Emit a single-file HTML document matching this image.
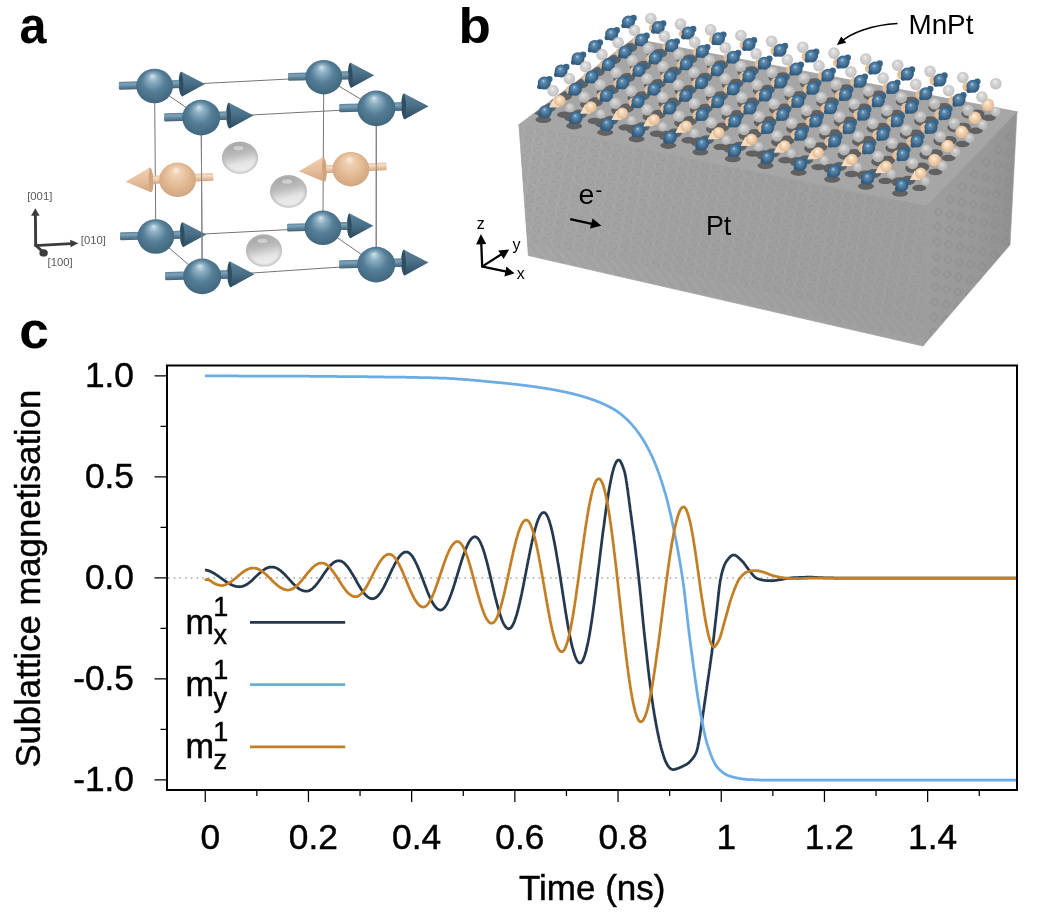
<!DOCTYPE html>
<html lang="en"><head><meta charset="utf-8"><title>MnPt switching figure</title>
<style>html,body{margin:0;padding:0;background:#fff}svg{display:block}</style></head><body>
<svg width="1040" height="913" viewBox="0 0 1040 913">
<rect width="1040" height="913" fill="#fff"/>
<g id="panelB">
<polygon points="519.0,125.0 927.0,206.0 1017.0,112.0 633.5,39.0" fill="#a6a6a6" stroke="#a6a6a6" stroke-width="1.2"/>
<polygon points="519.0,125.0 927.0,206.0 923.0,346.0 528.4,255.5" fill="url(#boxL)" stroke="#a3a3a3" stroke-width="0.8"/>
<polygon points="927.0,206.0 1017.0,112.0 1010.0,245.0 923.0,346.0" fill="url(#boxR)" stroke="#999999" stroke-width="0.6"/>
<clipPath id="cpL"><polygon points="519.0,125.0 927.0,206.0 923.0,346.0 528.4,255.5"/></clipPath>
<g clip-path="url(#cpL)" fill="none" stroke="#8a8a8a" stroke-width="1.6" opacity="0.2"><circle cx="524.0" cy="236.6" r="3.4"/><circle cx="516.0" cy="215.3" r="3.4"/><circle cx="525.5" cy="227.1" r="3.4"/><circle cx="535.0" cy="238.9" r="3.4"/><circle cx="517.5" cy="205.8" r="3.4"/><circle cx="527.0" cy="217.6" r="3.4"/><circle cx="536.5" cy="229.4" r="3.4"/><circle cx="546.0" cy="241.2" r="3.4"/><circle cx="519.0" cy="196.3" r="3.4"/><circle cx="528.5" cy="208.1" r="3.4"/><circle cx="538.0" cy="219.9" r="3.4"/><circle cx="547.5" cy="231.7" r="3.4"/><circle cx="557.0" cy="243.5" r="3.4"/><circle cx="520.5" cy="186.8" r="3.4"/><circle cx="530.0" cy="198.6" r="3.4"/><circle cx="539.5" cy="210.4" r="3.4"/><circle cx="549.0" cy="222.2" r="3.4"/><circle cx="558.5" cy="234.0" r="3.4"/><circle cx="568.0" cy="245.8" r="3.4"/><circle cx="522.0" cy="177.3" r="3.4"/><circle cx="531.5" cy="189.1" r="3.4"/><circle cx="541.0" cy="200.9" r="3.4"/><circle cx="550.5" cy="212.7" r="3.4"/><circle cx="560.0" cy="224.5" r="3.4"/><circle cx="569.5" cy="236.3" r="3.4"/><circle cx="579.0" cy="248.1" r="3.4"/><circle cx="523.5" cy="167.8" r="3.4"/><circle cx="533.0" cy="179.6" r="3.4"/><circle cx="542.5" cy="191.4" r="3.4"/><circle cx="552.0" cy="203.2" r="3.4"/><circle cx="561.5" cy="215.0" r="3.4"/><circle cx="571.0" cy="226.8" r="3.4"/><circle cx="580.5" cy="238.6" r="3.4"/><circle cx="590.0" cy="250.4" r="3.4"/><circle cx="515.5" cy="146.5" r="3.4"/><circle cx="525.0" cy="158.3" r="3.4"/><circle cx="534.5" cy="170.1" r="3.4"/><circle cx="544.0" cy="181.9" r="3.4"/><circle cx="553.5" cy="193.7" r="3.4"/><circle cx="563.0" cy="205.5" r="3.4"/><circle cx="572.5" cy="217.3" r="3.4"/><circle cx="582.0" cy="229.1" r="3.4"/><circle cx="591.5" cy="240.9" r="3.4"/><circle cx="601.0" cy="252.7" r="3.4"/><circle cx="517.0" cy="137.0" r="3.4"/><circle cx="526.5" cy="148.8" r="3.4"/><circle cx="536.0" cy="160.6" r="3.4"/><circle cx="545.5" cy="172.4" r="3.4"/><circle cx="555.0" cy="184.2" r="3.4"/><circle cx="564.5" cy="196.0" r="3.4"/><circle cx="574.0" cy="207.8" r="3.4"/><circle cx="583.5" cy="219.6" r="3.4"/><circle cx="593.0" cy="231.4" r="3.4"/><circle cx="602.5" cy="243.2" r="3.4"/><circle cx="612.0" cy="255.0" r="3.4"/><circle cx="518.5" cy="127.5" r="3.4"/><circle cx="528.0" cy="139.3" r="3.4"/><circle cx="537.5" cy="151.1" r="3.4"/><circle cx="547.0" cy="162.9" r="3.4"/><circle cx="556.5" cy="174.7" r="3.4"/><circle cx="566.0" cy="186.5" r="3.4"/><circle cx="575.5" cy="198.3" r="3.4"/><circle cx="585.0" cy="210.1" r="3.4"/><circle cx="594.5" cy="221.9" r="3.4"/><circle cx="604.0" cy="233.7" r="3.4"/><circle cx="613.5" cy="245.5" r="3.4"/><circle cx="623.0" cy="257.3" r="3.4"/><circle cx="520.0" cy="118.0" r="3.4"/><circle cx="529.5" cy="129.8" r="3.4"/><circle cx="539.0" cy="141.6" r="3.4"/><circle cx="548.5" cy="153.4" r="3.4"/><circle cx="558.0" cy="165.2" r="3.4"/><circle cx="567.5" cy="177.0" r="3.4"/><circle cx="577.0" cy="188.8" r="3.4"/><circle cx="586.5" cy="200.6" r="3.4"/><circle cx="596.0" cy="212.4" r="3.4"/><circle cx="605.5" cy="224.2" r="3.4"/><circle cx="615.0" cy="236.0" r="3.4"/><circle cx="624.5" cy="247.8" r="3.4"/><circle cx="634.0" cy="259.6" r="3.4"/><circle cx="531.0" cy="120.3" r="3.4"/><circle cx="540.5" cy="132.1" r="3.4"/><circle cx="550.0" cy="143.9" r="3.4"/><circle cx="559.5" cy="155.7" r="3.4"/><circle cx="569.0" cy="167.5" r="3.4"/><circle cx="578.5" cy="179.3" r="3.4"/><circle cx="588.0" cy="191.1" r="3.4"/><circle cx="597.5" cy="202.9" r="3.4"/><circle cx="607.0" cy="214.7" r="3.4"/><circle cx="616.5" cy="226.5" r="3.4"/><circle cx="626.0" cy="238.3" r="3.4"/><circle cx="635.5" cy="250.1" r="3.4"/><circle cx="645.0" cy="261.9" r="3.4"/><circle cx="542.0" cy="122.6" r="3.4"/><circle cx="551.5" cy="134.4" r="3.4"/><circle cx="561.0" cy="146.2" r="3.4"/><circle cx="570.5" cy="158.0" r="3.4"/><circle cx="580.0" cy="169.8" r="3.4"/><circle cx="589.5" cy="181.6" r="3.4"/><circle cx="599.0" cy="193.4" r="3.4"/><circle cx="608.5" cy="205.2" r="3.4"/><circle cx="618.0" cy="217.0" r="3.4"/><circle cx="627.5" cy="228.8" r="3.4"/><circle cx="637.0" cy="240.6" r="3.4"/><circle cx="646.5" cy="252.4" r="3.4"/><circle cx="656.0" cy="264.2" r="3.4"/><circle cx="553.0" cy="124.9" r="3.4"/><circle cx="562.5" cy="136.7" r="3.4"/><circle cx="572.0" cy="148.5" r="3.4"/><circle cx="581.5" cy="160.3" r="3.4"/><circle cx="591.0" cy="172.1" r="3.4"/><circle cx="600.5" cy="183.9" r="3.4"/><circle cx="610.0" cy="195.7" r="3.4"/><circle cx="619.5" cy="207.5" r="3.4"/><circle cx="629.0" cy="219.3" r="3.4"/><circle cx="638.5" cy="231.1" r="3.4"/><circle cx="648.0" cy="242.9" r="3.4"/><circle cx="657.5" cy="254.7" r="3.4"/><circle cx="667.0" cy="266.5" r="3.4"/><circle cx="564.0" cy="127.2" r="3.4"/><circle cx="573.5" cy="139.0" r="3.4"/><circle cx="583.0" cy="150.8" r="3.4"/><circle cx="592.5" cy="162.6" r="3.4"/><circle cx="602.0" cy="174.4" r="3.4"/><circle cx="611.5" cy="186.2" r="3.4"/><circle cx="621.0" cy="198.0" r="3.4"/><circle cx="630.5" cy="209.8" r="3.4"/><circle cx="640.0" cy="221.6" r="3.4"/><circle cx="649.5" cy="233.4" r="3.4"/><circle cx="659.0" cy="245.2" r="3.4"/><circle cx="668.5" cy="257.0" r="3.4"/><circle cx="678.0" cy="268.8" r="3.4"/><circle cx="575.0" cy="129.5" r="3.4"/><circle cx="584.5" cy="141.3" r="3.4"/><circle cx="594.0" cy="153.1" r="3.4"/><circle cx="603.5" cy="164.9" r="3.4"/><circle cx="613.0" cy="176.7" r="3.4"/><circle cx="622.5" cy="188.5" r="3.4"/><circle cx="632.0" cy="200.3" r="3.4"/><circle cx="641.5" cy="212.1" r="3.4"/><circle cx="651.0" cy="223.9" r="3.4"/><circle cx="660.5" cy="235.7" r="3.4"/><circle cx="670.0" cy="247.5" r="3.4"/><circle cx="679.5" cy="259.3" r="3.4"/><circle cx="689.0" cy="271.1" r="3.4"/><circle cx="586.0" cy="131.8" r="3.4"/><circle cx="595.5" cy="143.6" r="3.4"/><circle cx="605.0" cy="155.4" r="3.4"/><circle cx="614.5" cy="167.2" r="3.4"/><circle cx="624.0" cy="179.0" r="3.4"/><circle cx="633.5" cy="190.8" r="3.4"/><circle cx="643.0" cy="202.6" r="3.4"/><circle cx="652.5" cy="214.4" r="3.4"/><circle cx="662.0" cy="226.2" r="3.4"/><circle cx="671.5" cy="238.0" r="3.4"/><circle cx="681.0" cy="249.8" r="3.4"/><circle cx="690.5" cy="261.6" r="3.4"/><circle cx="700.0" cy="273.4" r="3.4"/><circle cx="597.0" cy="134.1" r="3.4"/><circle cx="606.5" cy="145.9" r="3.4"/><circle cx="616.0" cy="157.7" r="3.4"/><circle cx="625.5" cy="169.5" r="3.4"/><circle cx="635.0" cy="181.3" r="3.4"/><circle cx="644.5" cy="193.1" r="3.4"/><circle cx="654.0" cy="204.9" r="3.4"/><circle cx="663.5" cy="216.7" r="3.4"/><circle cx="673.0" cy="228.5" r="3.4"/><circle cx="682.5" cy="240.3" r="3.4"/><circle cx="692.0" cy="252.1" r="3.4"/><circle cx="701.5" cy="263.9" r="3.4"/><circle cx="711.0" cy="275.7" r="3.4"/><circle cx="608.0" cy="136.4" r="3.4"/><circle cx="617.5" cy="148.2" r="3.4"/><circle cx="627.0" cy="160.0" r="3.4"/><circle cx="636.5" cy="171.8" r="3.4"/><circle cx="646.0" cy="183.6" r="3.4"/><circle cx="655.5" cy="195.4" r="3.4"/><circle cx="665.0" cy="207.2" r="3.4"/><circle cx="674.5" cy="219.0" r="3.4"/><circle cx="684.0" cy="230.8" r="3.4"/><circle cx="693.5" cy="242.6" r="3.4"/><circle cx="703.0" cy="254.4" r="3.4"/><circle cx="712.5" cy="266.2" r="3.4"/><circle cx="722.0" cy="278.0" r="3.4"/><circle cx="619.0" cy="138.7" r="3.4"/><circle cx="628.5" cy="150.5" r="3.4"/><circle cx="638.0" cy="162.3" r="3.4"/><circle cx="647.5" cy="174.1" r="3.4"/><circle cx="657.0" cy="185.9" r="3.4"/><circle cx="666.5" cy="197.7" r="3.4"/><circle cx="676.0" cy="209.5" r="3.4"/><circle cx="685.5" cy="221.3" r="3.4"/><circle cx="695.0" cy="233.1" r="3.4"/><circle cx="704.5" cy="244.9" r="3.4"/><circle cx="714.0" cy="256.7" r="3.4"/><circle cx="723.5" cy="268.5" r="3.4"/><circle cx="733.0" cy="280.3" r="3.4"/><circle cx="630.0" cy="141.0" r="3.4"/><circle cx="639.5" cy="152.8" r="3.4"/><circle cx="649.0" cy="164.6" r="3.4"/><circle cx="658.5" cy="176.4" r="3.4"/><circle cx="668.0" cy="188.2" r="3.4"/><circle cx="677.5" cy="200.0" r="3.4"/><circle cx="687.0" cy="211.8" r="3.4"/><circle cx="696.5" cy="223.6" r="3.4"/><circle cx="706.0" cy="235.4" r="3.4"/><circle cx="715.5" cy="247.2" r="3.4"/><circle cx="725.0" cy="259.0" r="3.4"/><circle cx="734.5" cy="270.8" r="3.4"/><circle cx="744.0" cy="282.6" r="3.4"/><circle cx="641.0" cy="143.3" r="3.4"/><circle cx="650.5" cy="155.1" r="3.4"/><circle cx="660.0" cy="166.9" r="3.4"/><circle cx="669.5" cy="178.7" r="3.4"/><circle cx="679.0" cy="190.5" r="3.4"/><circle cx="688.5" cy="202.3" r="3.4"/><circle cx="698.0" cy="214.1" r="3.4"/><circle cx="707.5" cy="225.9" r="3.4"/><circle cx="717.0" cy="237.7" r="3.4"/><circle cx="726.5" cy="249.5" r="3.4"/><circle cx="736.0" cy="261.3" r="3.4"/><circle cx="745.5" cy="273.1" r="3.4"/><circle cx="755.0" cy="284.9" r="3.4"/><circle cx="652.0" cy="145.6" r="3.4"/><circle cx="661.5" cy="157.4" r="3.4"/><circle cx="671.0" cy="169.2" r="3.4"/><circle cx="680.5" cy="181.0" r="3.4"/><circle cx="690.0" cy="192.8" r="3.4"/><circle cx="699.5" cy="204.6" r="3.4"/><circle cx="709.0" cy="216.4" r="3.4"/><circle cx="718.5" cy="228.2" r="3.4"/><circle cx="728.0" cy="240.0" r="3.4"/><circle cx="737.5" cy="251.8" r="3.4"/><circle cx="747.0" cy="263.6" r="3.4"/><circle cx="756.5" cy="275.4" r="3.4"/><circle cx="766.0" cy="287.2" r="3.4"/><circle cx="663.0" cy="147.9" r="3.4"/><circle cx="672.5" cy="159.7" r="3.4"/><circle cx="682.0" cy="171.5" r="3.4"/><circle cx="691.5" cy="183.3" r="3.4"/><circle cx="701.0" cy="195.1" r="3.4"/><circle cx="710.5" cy="206.9" r="3.4"/><circle cx="720.0" cy="218.7" r="3.4"/><circle cx="729.5" cy="230.5" r="3.4"/><circle cx="739.0" cy="242.3" r="3.4"/><circle cx="748.5" cy="254.1" r="3.4"/><circle cx="758.0" cy="265.9" r="3.4"/><circle cx="767.5" cy="277.7" r="3.4"/><circle cx="777.0" cy="289.5" r="3.4"/><circle cx="674.0" cy="150.2" r="3.4"/><circle cx="683.5" cy="162.0" r="3.4"/><circle cx="693.0" cy="173.8" r="3.4"/><circle cx="702.5" cy="185.6" r="3.4"/><circle cx="712.0" cy="197.4" r="3.4"/><circle cx="721.5" cy="209.2" r="3.4"/><circle cx="731.0" cy="221.0" r="3.4"/><circle cx="740.5" cy="232.8" r="3.4"/><circle cx="750.0" cy="244.6" r="3.4"/><circle cx="759.5" cy="256.4" r="3.4"/><circle cx="769.0" cy="268.2" r="3.4"/><circle cx="778.5" cy="280.0" r="3.4"/><circle cx="788.0" cy="291.8" r="3.4"/><circle cx="685.0" cy="152.5" r="3.4"/><circle cx="694.5" cy="164.3" r="3.4"/><circle cx="704.0" cy="176.1" r="3.4"/><circle cx="713.5" cy="187.9" r="3.4"/><circle cx="723.0" cy="199.7" r="3.4"/><circle cx="732.5" cy="211.5" r="3.4"/><circle cx="742.0" cy="223.3" r="3.4"/><circle cx="751.5" cy="235.1" r="3.4"/><circle cx="761.0" cy="246.9" r="3.4"/><circle cx="770.5" cy="258.7" r="3.4"/><circle cx="780.0" cy="270.5" r="3.4"/><circle cx="789.5" cy="282.3" r="3.4"/><circle cx="799.0" cy="294.1" r="3.4"/><circle cx="696.0" cy="154.8" r="3.4"/><circle cx="705.5" cy="166.6" r="3.4"/><circle cx="715.0" cy="178.4" r="3.4"/><circle cx="724.5" cy="190.2" r="3.4"/><circle cx="734.0" cy="202.0" r="3.4"/><circle cx="743.5" cy="213.8" r="3.4"/><circle cx="753.0" cy="225.6" r="3.4"/><circle cx="762.5" cy="237.4" r="3.4"/><circle cx="772.0" cy="249.2" r="3.4"/><circle cx="781.5" cy="261.0" r="3.4"/><circle cx="791.0" cy="272.8" r="3.4"/><circle cx="800.5" cy="284.6" r="3.4"/><circle cx="810.0" cy="296.4" r="3.4"/><circle cx="707.0" cy="157.1" r="3.4"/><circle cx="716.5" cy="168.9" r="3.4"/><circle cx="726.0" cy="180.7" r="3.4"/><circle cx="735.5" cy="192.5" r="3.4"/><circle cx="745.0" cy="204.3" r="3.4"/><circle cx="754.5" cy="216.1" r="3.4"/><circle cx="764.0" cy="227.9" r="3.4"/><circle cx="773.5" cy="239.7" r="3.4"/><circle cx="783.0" cy="251.5" r="3.4"/><circle cx="792.5" cy="263.3" r="3.4"/><circle cx="802.0" cy="275.1" r="3.4"/><circle cx="811.5" cy="286.9" r="3.4"/><circle cx="821.0" cy="298.7" r="3.4"/><circle cx="718.0" cy="159.4" r="3.4"/><circle cx="727.5" cy="171.2" r="3.4"/><circle cx="737.0" cy="183.0" r="3.4"/><circle cx="746.5" cy="194.8" r="3.4"/><circle cx="756.0" cy="206.6" r="3.4"/><circle cx="765.5" cy="218.4" r="3.4"/><circle cx="775.0" cy="230.2" r="3.4"/><circle cx="784.5" cy="242.0" r="3.4"/><circle cx="794.0" cy="253.8" r="3.4"/><circle cx="803.5" cy="265.6" r="3.4"/><circle cx="813.0" cy="277.4" r="3.4"/><circle cx="822.5" cy="289.2" r="3.4"/><circle cx="832.0" cy="301.0" r="3.4"/><circle cx="729.0" cy="161.7" r="3.4"/><circle cx="738.5" cy="173.5" r="3.4"/><circle cx="748.0" cy="185.3" r="3.4"/><circle cx="757.5" cy="197.1" r="3.4"/><circle cx="767.0" cy="208.9" r="3.4"/><circle cx="776.5" cy="220.7" r="3.4"/><circle cx="786.0" cy="232.5" r="3.4"/><circle cx="795.5" cy="244.3" r="3.4"/><circle cx="805.0" cy="256.1" r="3.4"/><circle cx="814.5" cy="267.9" r="3.4"/><circle cx="824.0" cy="279.7" r="3.4"/><circle cx="833.5" cy="291.5" r="3.4"/><circle cx="843.0" cy="303.3" r="3.4"/><circle cx="740.0" cy="164.0" r="3.4"/><circle cx="749.5" cy="175.8" r="3.4"/><circle cx="759.0" cy="187.6" r="3.4"/><circle cx="768.5" cy="199.4" r="3.4"/><circle cx="778.0" cy="211.2" r="3.4"/><circle cx="787.5" cy="223.0" r="3.4"/><circle cx="797.0" cy="234.8" r="3.4"/><circle cx="806.5" cy="246.6" r="3.4"/><circle cx="816.0" cy="258.4" r="3.4"/><circle cx="825.5" cy="270.2" r="3.4"/><circle cx="835.0" cy="282.0" r="3.4"/><circle cx="844.5" cy="293.8" r="3.4"/><circle cx="854.0" cy="305.6" r="3.4"/><circle cx="751.0" cy="166.3" r="3.4"/><circle cx="760.5" cy="178.1" r="3.4"/><circle cx="770.0" cy="189.9" r="3.4"/><circle cx="779.5" cy="201.7" r="3.4"/><circle cx="789.0" cy="213.5" r="3.4"/><circle cx="798.5" cy="225.3" r="3.4"/><circle cx="808.0" cy="237.1" r="3.4"/><circle cx="817.5" cy="248.9" r="3.4"/><circle cx="827.0" cy="260.7" r="3.4"/><circle cx="836.5" cy="272.5" r="3.4"/><circle cx="846.0" cy="284.3" r="3.4"/><circle cx="855.5" cy="296.1" r="3.4"/><circle cx="865.0" cy="307.9" r="3.4"/><circle cx="762.0" cy="168.6" r="3.4"/><circle cx="771.5" cy="180.4" r="3.4"/><circle cx="781.0" cy="192.2" r="3.4"/><circle cx="790.5" cy="204.0" r="3.4"/><circle cx="800.0" cy="215.8" r="3.4"/><circle cx="809.5" cy="227.6" r="3.4"/><circle cx="819.0" cy="239.4" r="3.4"/><circle cx="828.5" cy="251.2" r="3.4"/><circle cx="838.0" cy="263.0" r="3.4"/><circle cx="847.5" cy="274.8" r="3.4"/><circle cx="857.0" cy="286.6" r="3.4"/><circle cx="866.5" cy="298.4" r="3.4"/><circle cx="876.0" cy="310.2" r="3.4"/><circle cx="773.0" cy="170.9" r="3.4"/><circle cx="782.5" cy="182.7" r="3.4"/><circle cx="792.0" cy="194.5" r="3.4"/><circle cx="801.5" cy="206.3" r="3.4"/><circle cx="811.0" cy="218.1" r="3.4"/><circle cx="820.5" cy="229.9" r="3.4"/><circle cx="830.0" cy="241.7" r="3.4"/><circle cx="839.5" cy="253.5" r="3.4"/><circle cx="849.0" cy="265.3" r="3.4"/><circle cx="858.5" cy="277.1" r="3.4"/><circle cx="868.0" cy="288.9" r="3.4"/><circle cx="877.5" cy="300.7" r="3.4"/><circle cx="887.0" cy="312.5" r="3.4"/><circle cx="784.0" cy="173.2" r="3.4"/><circle cx="793.5" cy="185.0" r="3.4"/><circle cx="803.0" cy="196.8" r="3.4"/><circle cx="812.5" cy="208.6" r="3.4"/><circle cx="822.0" cy="220.4" r="3.4"/><circle cx="831.5" cy="232.2" r="3.4"/><circle cx="841.0" cy="244.0" r="3.4"/><circle cx="850.5" cy="255.8" r="3.4"/><circle cx="860.0" cy="267.6" r="3.4"/><circle cx="869.5" cy="279.4" r="3.4"/><circle cx="879.0" cy="291.2" r="3.4"/><circle cx="888.5" cy="303.0" r="3.4"/><circle cx="898.0" cy="314.8" r="3.4"/><circle cx="795.0" cy="175.5" r="3.4"/><circle cx="804.5" cy="187.3" r="3.4"/><circle cx="814.0" cy="199.1" r="3.4"/><circle cx="823.5" cy="210.9" r="3.4"/><circle cx="833.0" cy="222.7" r="3.4"/><circle cx="842.5" cy="234.5" r="3.4"/><circle cx="852.0" cy="246.3" r="3.4"/><circle cx="861.5" cy="258.1" r="3.4"/><circle cx="871.0" cy="269.9" r="3.4"/><circle cx="880.5" cy="281.7" r="3.4"/><circle cx="890.0" cy="293.5" r="3.4"/><circle cx="899.5" cy="305.3" r="3.4"/><circle cx="909.0" cy="317.1" r="3.4"/><circle cx="806.0" cy="177.8" r="3.4"/><circle cx="815.5" cy="189.6" r="3.4"/><circle cx="825.0" cy="201.4" r="3.4"/><circle cx="834.5" cy="213.2" r="3.4"/><circle cx="844.0" cy="225.0" r="3.4"/><circle cx="853.5" cy="236.8" r="3.4"/><circle cx="863.0" cy="248.6" r="3.4"/><circle cx="872.5" cy="260.4" r="3.4"/><circle cx="882.0" cy="272.2" r="3.4"/><circle cx="891.5" cy="284.0" r="3.4"/><circle cx="901.0" cy="295.8" r="3.4"/><circle cx="910.5" cy="307.6" r="3.4"/><circle cx="920.0" cy="319.4" r="3.4"/><circle cx="817.0" cy="180.1" r="3.4"/><circle cx="826.5" cy="191.9" r="3.4"/><circle cx="836.0" cy="203.7" r="3.4"/><circle cx="845.5" cy="215.5" r="3.4"/><circle cx="855.0" cy="227.3" r="3.4"/><circle cx="864.5" cy="239.1" r="3.4"/><circle cx="874.0" cy="250.9" r="3.4"/><circle cx="883.5" cy="262.7" r="3.4"/><circle cx="893.0" cy="274.5" r="3.4"/><circle cx="902.5" cy="286.3" r="3.4"/><circle cx="912.0" cy="298.1" r="3.4"/><circle cx="921.5" cy="309.9" r="3.4"/><circle cx="931.0" cy="321.7" r="3.4"/><circle cx="828.0" cy="182.4" r="3.4"/><circle cx="837.5" cy="194.2" r="3.4"/><circle cx="847.0" cy="206.0" r="3.4"/><circle cx="856.5" cy="217.8" r="3.4"/><circle cx="866.0" cy="229.6" r="3.4"/><circle cx="875.5" cy="241.4" r="3.4"/><circle cx="885.0" cy="253.2" r="3.4"/><circle cx="894.5" cy="265.0" r="3.4"/><circle cx="904.0" cy="276.8" r="3.4"/><circle cx="913.5" cy="288.6" r="3.4"/><circle cx="923.0" cy="300.4" r="3.4"/><circle cx="932.5" cy="312.2" r="3.4"/><circle cx="839.0" cy="184.7" r="3.4"/><circle cx="848.5" cy="196.5" r="3.4"/><circle cx="858.0" cy="208.3" r="3.4"/><circle cx="867.5" cy="220.1" r="3.4"/><circle cx="877.0" cy="231.9" r="3.4"/><circle cx="886.5" cy="243.7" r="3.4"/><circle cx="896.0" cy="255.5" r="3.4"/><circle cx="905.5" cy="267.3" r="3.4"/><circle cx="915.0" cy="279.1" r="3.4"/><circle cx="924.5" cy="290.9" r="3.4"/><circle cx="934.0" cy="302.7" r="3.4"/><circle cx="850.0" cy="187.0" r="3.4"/><circle cx="859.5" cy="198.8" r="3.4"/><circle cx="869.0" cy="210.6" r="3.4"/><circle cx="878.5" cy="222.4" r="3.4"/><circle cx="888.0" cy="234.2" r="3.4"/><circle cx="897.5" cy="246.0" r="3.4"/><circle cx="907.0" cy="257.8" r="3.4"/><circle cx="916.5" cy="269.6" r="3.4"/><circle cx="926.0" cy="281.4" r="3.4"/><circle cx="861.0" cy="189.3" r="3.4"/><circle cx="870.5" cy="201.1" r="3.4"/><circle cx="880.0" cy="212.9" r="3.4"/><circle cx="889.5" cy="224.7" r="3.4"/><circle cx="899.0" cy="236.5" r="3.4"/><circle cx="908.5" cy="248.3" r="3.4"/><circle cx="918.0" cy="260.1" r="3.4"/><circle cx="927.5" cy="271.9" r="3.4"/><circle cx="872.0" cy="191.6" r="3.4"/><circle cx="881.5" cy="203.4" r="3.4"/><circle cx="891.0" cy="215.2" r="3.4"/><circle cx="900.5" cy="227.0" r="3.4"/><circle cx="910.0" cy="238.8" r="3.4"/><circle cx="919.5" cy="250.6" r="3.4"/><circle cx="929.0" cy="262.4" r="3.4"/><circle cx="883.0" cy="193.9" r="3.4"/><circle cx="892.5" cy="205.7" r="3.4"/><circle cx="902.0" cy="217.5" r="3.4"/><circle cx="911.5" cy="229.3" r="3.4"/><circle cx="921.0" cy="241.1" r="3.4"/><circle cx="930.5" cy="252.9" r="3.4"/><circle cx="894.0" cy="196.2" r="3.4"/><circle cx="903.5" cy="208.0" r="3.4"/><circle cx="913.0" cy="219.8" r="3.4"/><circle cx="922.5" cy="231.6" r="3.4"/><circle cx="932.0" cy="243.4" r="3.4"/><circle cx="905.0" cy="198.5" r="3.4"/><circle cx="914.5" cy="210.3" r="3.4"/><circle cx="924.0" cy="222.1" r="3.4"/><circle cx="933.5" cy="233.9" r="3.4"/><circle cx="916.0" cy="200.8" r="3.4"/><circle cx="925.5" cy="212.6" r="3.4"/><circle cx="935.0" cy="224.4" r="3.4"/><circle cx="927.0" cy="203.1" r="3.4"/></g>
<path clip-path="url(#cpL)" d="M300.0,72.0 l133.0,165.2 M311.0,74.3 l133.0,165.2 M322.0,76.6 l133.0,165.2 M333.0,78.9 l133.0,165.2 M344.0,81.2 l133.0,165.2 M355.0,83.5 l133.0,165.2 M366.0,85.8 l133.0,165.2 M377.0,88.1 l133.0,165.2 M388.0,90.4 l133.0,165.2 M399.0,92.7 l133.0,165.2 M410.0,95.0 l133.0,165.2 M421.0,97.3 l133.0,165.2 M432.0,99.6 l133.0,165.2 M443.0,101.9 l133.0,165.2 M454.0,104.2 l133.0,165.2 M465.0,106.5 l133.0,165.2 M476.0,108.8 l133.0,165.2 M487.0,111.1 l133.0,165.2 M498.0,113.4 l133.0,165.2 M509.0,115.7 l133.0,165.2 M520.0,118.0 l133.0,165.2 M531.0,120.3 l133.0,165.2 M542.0,122.6 l133.0,165.2 M553.0,124.9 l133.0,165.2 M564.0,127.2 l133.0,165.2 M575.0,129.5 l133.0,165.2 M586.0,131.8 l133.0,165.2 M597.0,134.1 l133.0,165.2 M608.0,136.4 l133.0,165.2 M619.0,138.7 l133.0,165.2 M630.0,141.0 l133.0,165.2 M641.0,143.3 l133.0,165.2 M652.0,145.6 l133.0,165.2 M663.0,147.9 l133.0,165.2 M674.0,150.2 l133.0,165.2 M685.0,152.5 l133.0,165.2 M696.0,154.8 l133.0,165.2 M707.0,157.1 l133.0,165.2 M718.0,159.4 l133.0,165.2 M729.0,161.7 l133.0,165.2 M740.0,164.0 l133.0,165.2 M751.0,166.3 l133.0,165.2 M762.0,168.6 l133.0,165.2 M773.0,170.9 l133.0,165.2 M784.0,173.2 l133.0,165.2 M795.0,175.5 l133.0,165.2 M806.0,177.8 l133.0,165.2 M817.0,180.1 l133.0,165.2 M828.0,182.4 l133.0,165.2 M839.0,184.7 l133.0,165.2 M850.0,187.0 l133.0,165.2 M861.0,189.3 l133.0,165.2 M872.0,191.6 l133.0,165.2 M883.0,193.9 l133.0,165.2 M894.0,196.2 l133.0,165.2 M905.0,198.5 l133.0,165.2 M916.0,200.8 l133.0,165.2 M927.0,203.1 l133.0,165.2 M938.0,205.4 l133.0,165.2 M949.0,207.7 l133.0,165.2 M960.0,210.0 l133.0,165.2 M971.0,212.3 l133.0,165.2" stroke="#8c8c8c" stroke-width="4.5" opacity="0.13" fill="none"/>
<clipPath id="cpR"><polygon points="927.0,206.0 1017.0,112.0 1010.0,245.0 923.0,346.0"/></clipPath>
<g clip-path="url(#cpR)" fill="none" stroke="#888888" stroke-width="1.5" opacity="0.4"><rect x="934.0" y="212.0" width="6" height="6" rx="1.5" transform="rotate(-45 934.0 212.0)"/><rect x="933.4" y="227.0" width="6" height="6" rx="1.5" transform="rotate(-45 933.4 227.0)"/><rect x="932.8" y="242.0" width="6" height="6" rx="1.5" transform="rotate(-45 932.8 242.0)"/><rect x="932.2" y="257.0" width="6" height="6" rx="1.5" transform="rotate(-45 932.2 257.0)"/><rect x="931.6" y="272.0" width="6" height="6" rx="1.5" transform="rotate(-45 931.6 272.0)"/><rect x="931.0" y="287.0" width="6" height="6" rx="1.5" transform="rotate(-45 931.0 287.0)"/><rect x="930.4" y="302.0" width="6" height="6" rx="1.5" transform="rotate(-45 930.4 302.0)"/><rect x="929.8" y="317.0" width="6" height="6" rx="1.5" transform="rotate(-45 929.8 317.0)"/><rect x="929.2" y="332.0" width="6" height="6" rx="1.5" transform="rotate(-45 929.2 332.0)"/><rect x="928.6" y="347.0" width="6" height="6" rx="1.5" transform="rotate(-45 928.6 347.0)"/><rect x="946.0" y="199.5" width="6" height="6" rx="1.5" transform="rotate(-45 946.0 199.5)"/><rect x="945.4" y="214.5" width="6" height="6" rx="1.5" transform="rotate(-45 945.4 214.5)"/><rect x="944.8" y="229.5" width="6" height="6" rx="1.5" transform="rotate(-45 944.8 229.5)"/><rect x="944.2" y="244.5" width="6" height="6" rx="1.5" transform="rotate(-45 944.2 244.5)"/><rect x="943.6" y="259.5" width="6" height="6" rx="1.5" transform="rotate(-45 943.6 259.5)"/><rect x="943.0" y="274.5" width="6" height="6" rx="1.5" transform="rotate(-45 943.0 274.5)"/><rect x="942.4" y="289.5" width="6" height="6" rx="1.5" transform="rotate(-45 942.4 289.5)"/><rect x="941.8" y="304.5" width="6" height="6" rx="1.5" transform="rotate(-45 941.8 304.5)"/><rect x="941.2" y="319.5" width="6" height="6" rx="1.5" transform="rotate(-45 941.2 319.5)"/><rect x="940.6" y="334.5" width="6" height="6" rx="1.5" transform="rotate(-45 940.6 334.5)"/><rect x="958.0" y="187.0" width="6" height="6" rx="1.5" transform="rotate(-45 958.0 187.0)"/><rect x="957.4" y="202.0" width="6" height="6" rx="1.5" transform="rotate(-45 957.4 202.0)"/><rect x="956.8" y="217.0" width="6" height="6" rx="1.5" transform="rotate(-45 956.8 217.0)"/><rect x="956.2" y="232.0" width="6" height="6" rx="1.5" transform="rotate(-45 956.2 232.0)"/><rect x="955.6" y="247.0" width="6" height="6" rx="1.5" transform="rotate(-45 955.6 247.0)"/><rect x="955.0" y="262.0" width="6" height="6" rx="1.5" transform="rotate(-45 955.0 262.0)"/><rect x="954.4" y="277.0" width="6" height="6" rx="1.5" transform="rotate(-45 954.4 277.0)"/><rect x="953.8" y="292.0" width="6" height="6" rx="1.5" transform="rotate(-45 953.8 292.0)"/><rect x="953.2" y="307.0" width="6" height="6" rx="1.5" transform="rotate(-45 953.2 307.0)"/><rect x="952.6" y="322.0" width="6" height="6" rx="1.5" transform="rotate(-45 952.6 322.0)"/><rect x="970.0" y="174.5" width="6" height="6" rx="1.5" transform="rotate(-45 970.0 174.5)"/><rect x="969.4" y="189.5" width="6" height="6" rx="1.5" transform="rotate(-45 969.4 189.5)"/><rect x="968.8" y="204.5" width="6" height="6" rx="1.5" transform="rotate(-45 968.8 204.5)"/><rect x="968.2" y="219.5" width="6" height="6" rx="1.5" transform="rotate(-45 968.2 219.5)"/><rect x="967.6" y="234.5" width="6" height="6" rx="1.5" transform="rotate(-45 967.6 234.5)"/><rect x="967.0" y="249.5" width="6" height="6" rx="1.5" transform="rotate(-45 967.0 249.5)"/><rect x="966.4" y="264.5" width="6" height="6" rx="1.5" transform="rotate(-45 966.4 264.5)"/><rect x="965.8" y="279.5" width="6" height="6" rx="1.5" transform="rotate(-45 965.8 279.5)"/><rect x="965.2" y="294.5" width="6" height="6" rx="1.5" transform="rotate(-45 965.2 294.5)"/><rect x="964.6" y="309.5" width="6" height="6" rx="1.5" transform="rotate(-45 964.6 309.5)"/><rect x="982.0" y="162.0" width="6" height="6" rx="1.5" transform="rotate(-45 982.0 162.0)"/><rect x="981.4" y="177.0" width="6" height="6" rx="1.5" transform="rotate(-45 981.4 177.0)"/><rect x="980.8" y="192.0" width="6" height="6" rx="1.5" transform="rotate(-45 980.8 192.0)"/><rect x="980.2" y="207.0" width="6" height="6" rx="1.5" transform="rotate(-45 980.2 207.0)"/><rect x="979.6" y="222.0" width="6" height="6" rx="1.5" transform="rotate(-45 979.6 222.0)"/><rect x="979.0" y="237.0" width="6" height="6" rx="1.5" transform="rotate(-45 979.0 237.0)"/><rect x="978.4" y="252.0" width="6" height="6" rx="1.5" transform="rotate(-45 978.4 252.0)"/><rect x="977.8" y="267.0" width="6" height="6" rx="1.5" transform="rotate(-45 977.8 267.0)"/><rect x="977.2" y="282.0" width="6" height="6" rx="1.5" transform="rotate(-45 977.2 282.0)"/><rect x="976.6" y="297.0" width="6" height="6" rx="1.5" transform="rotate(-45 976.6 297.0)"/><rect x="994.0" y="149.5" width="6" height="6" rx="1.5" transform="rotate(-45 994.0 149.5)"/><rect x="993.4" y="164.5" width="6" height="6" rx="1.5" transform="rotate(-45 993.4 164.5)"/><rect x="992.8" y="179.5" width="6" height="6" rx="1.5" transform="rotate(-45 992.8 179.5)"/><rect x="992.2" y="194.5" width="6" height="6" rx="1.5" transform="rotate(-45 992.2 194.5)"/><rect x="991.6" y="209.5" width="6" height="6" rx="1.5" transform="rotate(-45 991.6 209.5)"/><rect x="991.0" y="224.5" width="6" height="6" rx="1.5" transform="rotate(-45 991.0 224.5)"/><rect x="990.4" y="239.5" width="6" height="6" rx="1.5" transform="rotate(-45 990.4 239.5)"/><rect x="989.8" y="254.5" width="6" height="6" rx="1.5" transform="rotate(-45 989.8 254.5)"/><rect x="989.2" y="269.5" width="6" height="6" rx="1.5" transform="rotate(-45 989.2 269.5)"/><rect x="988.6" y="284.5" width="6" height="6" rx="1.5" transform="rotate(-45 988.6 284.5)"/><rect x="1006.0" y="137.0" width="6" height="6" rx="1.5" transform="rotate(-45 1006.0 137.0)"/><rect x="1005.4" y="152.0" width="6" height="6" rx="1.5" transform="rotate(-45 1005.4 152.0)"/><rect x="1004.8" y="167.0" width="6" height="6" rx="1.5" transform="rotate(-45 1004.8 167.0)"/><rect x="1004.2" y="182.0" width="6" height="6" rx="1.5" transform="rotate(-45 1004.2 182.0)"/><rect x="1003.6" y="197.0" width="6" height="6" rx="1.5" transform="rotate(-45 1003.6 197.0)"/><rect x="1003.0" y="212.0" width="6" height="6" rx="1.5" transform="rotate(-45 1003.0 212.0)"/><rect x="1002.4" y="227.0" width="6" height="6" rx="1.5" transform="rotate(-45 1002.4 227.0)"/><rect x="1001.8" y="242.0" width="6" height="6" rx="1.5" transform="rotate(-45 1001.8 242.0)"/><rect x="1001.2" y="257.0" width="6" height="6" rx="1.5" transform="rotate(-45 1001.2 257.0)"/><rect x="1000.6" y="272.0" width="6" height="6" rx="1.5" transform="rotate(-45 1000.6 272.0)"/><rect x="1018.0" y="124.5" width="6" height="6" rx="1.5" transform="rotate(-45 1018.0 124.5)"/><rect x="1017.4" y="139.5" width="6" height="6" rx="1.5" transform="rotate(-45 1017.4 139.5)"/><rect x="1016.8" y="154.5" width="6" height="6" rx="1.5" transform="rotate(-45 1016.8 154.5)"/><rect x="1016.2" y="169.5" width="6" height="6" rx="1.5" transform="rotate(-45 1016.2 169.5)"/><rect x="1015.6" y="184.5" width="6" height="6" rx="1.5" transform="rotate(-45 1015.6 184.5)"/><rect x="1015.0" y="199.5" width="6" height="6" rx="1.5" transform="rotate(-45 1015.0 199.5)"/><rect x="1014.4" y="214.5" width="6" height="6" rx="1.5" transform="rotate(-45 1014.4 214.5)"/><rect x="1013.8" y="229.5" width="6" height="6" rx="1.5" transform="rotate(-45 1013.8 229.5)"/><rect x="1013.2" y="244.5" width="6" height="6" rx="1.5" transform="rotate(-45 1013.2 244.5)"/><rect x="1012.6" y="259.5" width="6" height="6" rx="1.5" transform="rotate(-45 1012.6 259.5)"/></g>
<clipPath id="cpT"><polygon points="519.0,125.0 927.0,206.0 1017.0,112.0 633.5,39.0"/></clipPath>
<g clip-path="url(#cpT)" fill="#585858" opacity="0.88">
<ellipse cx="540.8" cy="110.6" rx="8.2" ry="4.8"/>
<ellipse cx="557.6" cy="98.4" rx="8.2" ry="4.8"/>
<ellipse cx="574.5" cy="86.2" rx="8.2" ry="4.8"/>
<ellipse cx="591.3" cy="73.9" rx="8.2" ry="4.8"/>
<ellipse cx="608.2" cy="61.7" rx="8.2" ry="4.8"/>
<ellipse cx="625.0" cy="49.5" rx="8.2" ry="4.8"/>
<ellipse cx="571.7" cy="116.8" rx="8.2" ry="4.8"/>
<ellipse cx="588.3" cy="104.4" rx="8.2" ry="4.8"/>
<ellipse cx="604.9" cy="92.1" rx="8.2" ry="4.8"/>
<ellipse cx="621.5" cy="79.7" rx="8.2" ry="4.8"/>
<ellipse cx="638.1" cy="67.4" rx="8.2" ry="4.8"/>
<ellipse cx="654.7" cy="55.0" rx="8.2" ry="4.8"/>
<ellipse cx="602.9" cy="123.0" rx="8.2" ry="4.8"/>
<ellipse cx="619.3" cy="110.5" rx="8.2" ry="4.8"/>
<ellipse cx="635.6" cy="98.0" rx="8.2" ry="4.8"/>
<ellipse cx="652.0" cy="85.6" rx="8.2" ry="4.8"/>
<ellipse cx="668.3" cy="73.1" rx="8.2" ry="4.8"/>
<ellipse cx="684.7" cy="60.6" rx="8.2" ry="4.8"/>
<ellipse cx="634.5" cy="129.3" rx="8.2" ry="4.8"/>
<ellipse cx="650.6" cy="116.7" rx="8.2" ry="4.8"/>
<ellipse cx="666.7" cy="104.1" rx="8.2" ry="4.8"/>
<ellipse cx="682.8" cy="91.5" rx="8.2" ry="4.8"/>
<ellipse cx="698.9" cy="78.9" rx="8.2" ry="4.8"/>
<ellipse cx="715.0" cy="66.3" rx="8.2" ry="4.8"/>
<ellipse cx="666.4" cy="135.6" rx="8.2" ry="4.8"/>
<ellipse cx="682.3" cy="122.9" rx="8.2" ry="4.8"/>
<ellipse cx="698.1" cy="110.2" rx="8.2" ry="4.8"/>
<ellipse cx="714.0" cy="97.5" rx="8.2" ry="4.8"/>
<ellipse cx="729.8" cy="84.7" rx="8.2" ry="4.8"/>
<ellipse cx="745.6" cy="72.0" rx="8.2" ry="4.8"/>
<ellipse cx="698.7" cy="142.1" rx="8.2" ry="4.8"/>
<ellipse cx="714.3" cy="129.2" rx="8.2" ry="4.8"/>
<ellipse cx="729.9" cy="116.4" rx="8.2" ry="4.8"/>
<ellipse cx="745.5" cy="103.5" rx="8.2" ry="4.8"/>
<ellipse cx="761.0" cy="90.7" rx="8.2" ry="4.8"/>
<ellipse cx="776.6" cy="77.8" rx="8.2" ry="4.8"/>
<ellipse cx="731.3" cy="148.6" rx="8.2" ry="4.8"/>
<ellipse cx="746.6" cy="135.6" rx="8.2" ry="4.8"/>
<ellipse cx="762.0" cy="122.6" rx="8.2" ry="4.8"/>
<ellipse cx="777.3" cy="109.6" rx="8.2" ry="4.8"/>
<ellipse cx="792.6" cy="96.6" rx="8.2" ry="4.8"/>
<ellipse cx="808.0" cy="83.6" rx="8.2" ry="4.8"/>
<ellipse cx="764.2" cy="155.1" rx="8.2" ry="4.8"/>
<ellipse cx="779.3" cy="142.0" rx="8.2" ry="4.8"/>
<ellipse cx="794.4" cy="128.9" rx="8.2" ry="4.8"/>
<ellipse cx="809.5" cy="115.8" rx="8.2" ry="4.8"/>
<ellipse cx="824.5" cy="102.7" rx="8.2" ry="4.8"/>
<ellipse cx="839.6" cy="89.6" rx="8.2" ry="4.8"/>
<ellipse cx="797.5" cy="161.8" rx="8.2" ry="4.8"/>
<ellipse cx="812.4" cy="148.5" rx="8.2" ry="4.8"/>
<ellipse cx="827.2" cy="135.3" rx="8.2" ry="4.8"/>
<ellipse cx="842.0" cy="122.0" rx="8.2" ry="4.8"/>
<ellipse cx="856.8" cy="108.8" rx="8.2" ry="4.8"/>
<ellipse cx="871.6" cy="95.5" rx="8.2" ry="4.8"/>
<ellipse cx="831.2" cy="168.5" rx="8.2" ry="4.8"/>
<ellipse cx="845.7" cy="155.1" rx="8.2" ry="4.8"/>
<ellipse cx="860.3" cy="141.7" rx="8.2" ry="4.8"/>
<ellipse cx="874.8" cy="128.3" rx="8.2" ry="4.8"/>
<ellipse cx="889.4" cy="114.9" rx="8.2" ry="4.8"/>
<ellipse cx="903.9" cy="101.6" rx="8.2" ry="4.8"/>
<ellipse cx="865.2" cy="175.3" rx="8.2" ry="4.8"/>
<ellipse cx="879.4" cy="161.7" rx="8.2" ry="4.8"/>
<ellipse cx="893.7" cy="148.2" rx="8.2" ry="4.8"/>
<ellipse cx="908.0" cy="134.7" rx="8.2" ry="4.8"/>
<ellipse cx="922.3" cy="121.2" rx="8.2" ry="4.8"/>
<ellipse cx="936.5" cy="107.6" rx="8.2" ry="4.8"/>
<ellipse cx="899.5" cy="182.1" rx="8.2" ry="4.8"/>
<ellipse cx="913.5" cy="168.4" rx="8.2" ry="4.8"/>
<ellipse cx="927.5" cy="154.8" rx="8.2" ry="4.8"/>
<ellipse cx="941.5" cy="141.1" rx="8.2" ry="4.8"/>
<ellipse cx="955.5" cy="127.5" rx="8.2" ry="4.8"/>
<ellipse cx="969.5" cy="113.8" rx="8.2" ry="4.8"/>
<ellipse cx="548.6" cy="107.8" rx="7.2" ry="4.6"/>
<ellipse cx="564.9" cy="95.8" rx="7.2" ry="4.6"/>
<ellipse cx="581.2" cy="83.7" rx="7.2" ry="4.6"/>
<ellipse cx="597.5" cy="71.7" rx="7.2" ry="4.6"/>
<ellipse cx="613.7" cy="59.6" rx="7.2" ry="4.6"/>
<ellipse cx="630.0" cy="47.5" rx="7.2" ry="4.6"/>
<ellipse cx="646.3" cy="35.5" rx="7.2" ry="4.6"/>
<ellipse cx="579.6" cy="114.1" rx="7.2" ry="4.6"/>
<ellipse cx="595.6" cy="101.9" rx="7.2" ry="4.6"/>
<ellipse cx="611.7" cy="89.7" rx="7.2" ry="4.6"/>
<ellipse cx="627.8" cy="77.6" rx="7.2" ry="4.6"/>
<ellipse cx="643.9" cy="65.4" rx="7.2" ry="4.6"/>
<ellipse cx="659.9" cy="53.3" rx="7.2" ry="4.6"/>
<ellipse cx="676.0" cy="41.1" rx="7.2" ry="4.6"/>
<ellipse cx="610.9" cy="120.4" rx="7.2" ry="4.6"/>
<ellipse cx="626.7" cy="108.1" rx="7.2" ry="4.6"/>
<ellipse cx="642.6" cy="95.8" rx="7.2" ry="4.6"/>
<ellipse cx="658.5" cy="83.6" rx="7.2" ry="4.6"/>
<ellipse cx="674.3" cy="71.3" rx="7.2" ry="4.6"/>
<ellipse cx="690.2" cy="59.1" rx="7.2" ry="4.6"/>
<ellipse cx="706.1" cy="46.8" rx="7.2" ry="4.6"/>
<ellipse cx="642.5" cy="126.8" rx="7.2" ry="4.6"/>
<ellipse cx="658.2" cy="114.4" rx="7.2" ry="4.6"/>
<ellipse cx="673.8" cy="102.0" rx="7.2" ry="4.6"/>
<ellipse cx="689.5" cy="89.6" rx="7.2" ry="4.6"/>
<ellipse cx="705.1" cy="77.3" rx="7.2" ry="4.6"/>
<ellipse cx="720.8" cy="64.9" rx="7.2" ry="4.6"/>
<ellipse cx="736.4" cy="52.5" rx="7.2" ry="4.6"/>
<ellipse cx="674.5" cy="133.2" rx="7.2" ry="4.6"/>
<ellipse cx="689.9" cy="120.7" rx="7.2" ry="4.6"/>
<ellipse cx="705.4" cy="108.3" rx="7.2" ry="4.6"/>
<ellipse cx="720.8" cy="95.8" rx="7.2" ry="4.6"/>
<ellipse cx="736.3" cy="83.3" rx="7.2" ry="4.6"/>
<ellipse cx="751.7" cy="70.8" rx="7.2" ry="4.6"/>
<ellipse cx="767.1" cy="58.3" rx="7.2" ry="4.6"/>
<ellipse cx="706.8" cy="139.8" rx="7.2" ry="4.6"/>
<ellipse cx="722.1" cy="127.2" rx="7.2" ry="4.6"/>
<ellipse cx="737.3" cy="114.6" rx="7.2" ry="4.6"/>
<ellipse cx="752.5" cy="102.0" rx="7.2" ry="4.6"/>
<ellipse cx="767.7" cy="89.4" rx="7.2" ry="4.6"/>
<ellipse cx="782.9" cy="76.8" rx="7.2" ry="4.6"/>
<ellipse cx="798.2" cy="64.2" rx="7.2" ry="4.6"/>
<ellipse cx="739.5" cy="146.4" rx="7.2" ry="4.6"/>
<ellipse cx="754.5" cy="133.7" rx="7.2" ry="4.6"/>
<ellipse cx="769.5" cy="120.9" rx="7.2" ry="4.6"/>
<ellipse cx="784.5" cy="108.2" rx="7.2" ry="4.6"/>
<ellipse cx="799.5" cy="95.5" rx="7.2" ry="4.6"/>
<ellipse cx="814.5" cy="82.8" rx="7.2" ry="4.6"/>
<ellipse cx="829.5" cy="70.1" rx="7.2" ry="4.6"/>
<ellipse cx="772.5" cy="153.0" rx="7.2" ry="4.6"/>
<ellipse cx="787.3" cy="140.2" rx="7.2" ry="4.6"/>
<ellipse cx="802.1" cy="127.4" rx="7.2" ry="4.6"/>
<ellipse cx="816.9" cy="114.6" rx="7.2" ry="4.6"/>
<ellipse cx="831.7" cy="101.8" rx="7.2" ry="4.6"/>
<ellipse cx="846.4" cy="88.9" rx="7.2" ry="4.6"/>
<ellipse cx="861.2" cy="76.1" rx="7.2" ry="4.6"/>
<ellipse cx="805.9" cy="159.8" rx="7.2" ry="4.6"/>
<ellipse cx="820.5" cy="146.8" rx="7.2" ry="4.6"/>
<ellipse cx="835.0" cy="133.9" rx="7.2" ry="4.6"/>
<ellipse cx="849.6" cy="121.0" rx="7.2" ry="4.6"/>
<ellipse cx="864.1" cy="108.0" rx="7.2" ry="4.6"/>
<ellipse cx="878.7" cy="95.1" rx="7.2" ry="4.6"/>
<ellipse cx="893.2" cy="82.2" rx="7.2" ry="4.6"/>
<ellipse cx="839.6" cy="166.6" rx="7.2" ry="4.6"/>
<ellipse cx="854.0" cy="153.5" rx="7.2" ry="4.6"/>
<ellipse cx="868.3" cy="140.5" rx="7.2" ry="4.6"/>
<ellipse cx="882.6" cy="127.4" rx="7.2" ry="4.6"/>
<ellipse cx="896.9" cy="114.4" rx="7.2" ry="4.6"/>
<ellipse cx="911.3" cy="101.3" rx="7.2" ry="4.6"/>
<ellipse cx="925.6" cy="88.3" rx="7.2" ry="4.6"/>
<ellipse cx="873.7" cy="173.5" rx="7.2" ry="4.6"/>
<ellipse cx="887.8" cy="160.3" rx="7.2" ry="4.6"/>
<ellipse cx="901.9" cy="147.1" rx="7.2" ry="4.6"/>
<ellipse cx="916.0" cy="134.0" rx="7.2" ry="4.6"/>
<ellipse cx="930.1" cy="120.8" rx="7.2" ry="4.6"/>
<ellipse cx="944.2" cy="107.6" rx="7.2" ry="4.6"/>
<ellipse cx="958.3" cy="94.5" rx="7.2" ry="4.6"/>
<ellipse cx="908.1" cy="180.4" rx="7.2" ry="4.6"/>
<ellipse cx="922.0" cy="167.1" rx="7.2" ry="4.6"/>
<ellipse cx="935.8" cy="153.8" rx="7.2" ry="4.6"/>
<ellipse cx="949.7" cy="140.6" rx="7.2" ry="4.6"/>
<ellipse cx="963.6" cy="127.3" rx="7.2" ry="4.6"/>
<ellipse cx="977.4" cy="114.0" rx="7.2" ry="4.6"/>
<ellipse cx="991.3" cy="100.7" rx="7.2" ry="4.6"/>
<ellipse cx="543.4" cy="119.6" rx="8.0" ry="3.5"/>
<ellipse cx="564.0" cy="114.7" rx="7.0" ry="3.2"/>
<ellipse cx="574.1" cy="125.9" rx="8.0" ry="3.5"/>
<ellipse cx="594.6" cy="121.0" rx="7.0" ry="3.2"/>
<ellipse cx="605.2" cy="132.4" rx="8.0" ry="3.5"/>
<ellipse cx="625.5" cy="127.4" rx="7.0" ry="3.2"/>
<ellipse cx="636.6" cy="138.9" rx="8.0" ry="3.5"/>
<ellipse cx="656.8" cy="133.8" rx="7.0" ry="3.2"/>
<ellipse cx="668.3" cy="145.4" rx="8.0" ry="3.5"/>
<ellipse cx="688.4" cy="140.3" rx="7.0" ry="3.2"/>
<ellipse cx="700.4" cy="152.0" rx="8.0" ry="3.5"/>
<ellipse cx="720.4" cy="146.9" rx="7.0" ry="3.2"/>
<ellipse cx="732.8" cy="158.7" rx="8.0" ry="3.5"/>
<ellipse cx="752.7" cy="153.6" rx="7.0" ry="3.2"/>
<ellipse cx="765.5" cy="165.5" rx="8.0" ry="3.5"/>
<ellipse cx="785.3" cy="160.3" rx="7.0" ry="3.2"/>
<ellipse cx="798.6" cy="172.4" rx="8.0" ry="3.5"/>
<ellipse cx="818.3" cy="167.1" rx="7.0" ry="3.2"/>
<ellipse cx="832.1" cy="179.3" rx="8.0" ry="3.5"/>
<ellipse cx="851.6" cy="174.0" rx="7.0" ry="3.2"/>
<ellipse cx="865.9" cy="186.2" rx="8.0" ry="3.5"/>
<ellipse cx="885.3" cy="180.9" rx="7.0" ry="3.2"/>
<ellipse cx="900.0" cy="193.3" rx="8.0" ry="3.5"/>
<ellipse cx="919.3" cy="187.9" rx="7.0" ry="3.2"/>
<ellipse cx="988.8" cy="117.7" rx="7.0" ry="3.2"/>
<ellipse cx="975.7" cy="130.8" rx="7.0" ry="3.2"/>
<ellipse cx="962.5" cy="144.0" rx="7.0" ry="3.2"/>
<ellipse cx="948.5" cy="158.0" rx="7.0" ry="3.2"/>
<ellipse cx="935.4" cy="172.0" rx="7.0" ry="3.2"/>
</g>
<circle cx="650.8" cy="18.5" r="5.8" fill="url(#mG)" opacity="0.86"/>
<ellipse cx="628.5" cy="22.0" rx="8.5" ry="2.9" fill="#34607f" transform="rotate(-38 628.5 22.0)"/><circle cx="633.6" cy="18.0" r="3.2" fill="#3a6789"/><circle cx="624.1" cy="25.4" r="2.7" fill="#325c7c"/><circle cx="628.5" cy="22.0" r="6.5" fill="url(#mB)"/>
<circle cx="680.5" cy="24.1" r="5.8" fill="url(#mG)" opacity="0.86"/>
<circle cx="653.8" cy="28.1" r="4.9" fill="#e6bf96"/><ellipse cx="658.2" cy="27.5" rx="8.5" ry="2.9" fill="#34607f" transform="rotate(-39 658.2 27.5)"/><circle cx="663.2" cy="23.5" r="3.2" fill="#3a6789"/><circle cx="653.9" cy="31.0" r="2.7" fill="#325c7c"/><circle cx="658.2" cy="27.5" r="6.5" fill="url(#mB)"/>
<circle cx="710.6" cy="29.8" r="5.8" fill="url(#mG)" opacity="0.86"/>
<circle cx="634.5" cy="30.5" r="5.8" fill="url(#mG)" opacity="0.86"/>
<circle cx="683.7" cy="33.7" r="4.9" fill="#e6bf96"/><ellipse cx="688.2" cy="33.1" rx="8.5" ry="2.9" fill="#34607f" transform="rotate(-40 688.2 33.1)"/><circle cx="693.2" cy="29.0" r="3.2" fill="#3a6789"/><circle cx="683.9" cy="36.7" r="2.7" fill="#325c7c"/><circle cx="688.2" cy="33.1" r="6.5" fill="url(#mB)"/>
<ellipse cx="611.7" cy="34.2" rx="8.5" ry="2.9" fill="#34607f" transform="rotate(-38 611.7 34.2)"/><circle cx="616.8" cy="30.2" r="3.2" fill="#3a6789"/><circle cx="607.3" cy="37.6" r="2.7" fill="#325c7c"/><circle cx="611.7" cy="34.2" r="6.5" fill="url(#mB)"/>
<circle cx="740.9" cy="35.5" r="5.8" fill="url(#mG)" opacity="0.86"/>
<circle cx="664.4" cy="36.3" r="5.8" fill="url(#mG)" opacity="0.86"/>
<circle cx="713.9" cy="39.4" r="4.9" fill="#e6bf96"/><ellipse cx="718.5" cy="38.8" rx="8.5" ry="2.9" fill="#34607f" transform="rotate(-40 718.5 38.8)"/><circle cx="723.4" cy="34.6" r="3.2" fill="#3a6789"/><circle cx="714.3" cy="42.4" r="2.7" fill="#325c7c"/><circle cx="718.5" cy="38.8" r="6.5" fill="url(#mB)"/>
<circle cx="637.2" cy="40.5" r="4.9" fill="#e6bf96"/><ellipse cx="641.6" cy="39.9" rx="8.5" ry="2.9" fill="#34607f" transform="rotate(-39 641.6 39.9)"/><circle cx="646.6" cy="35.8" r="3.2" fill="#3a6789"/><circle cx="637.3" cy="43.3" r="2.7" fill="#325c7c"/><circle cx="641.6" cy="39.9" r="6.5" fill="url(#mB)"/>
<circle cx="771.6" cy="41.3" r="5.8" fill="url(#mG)" opacity="0.86"/>
<circle cx="694.7" cy="42.1" r="5.8" fill="url(#mG)" opacity="0.86"/>
<circle cx="618.2" cy="42.6" r="5.8" fill="url(#mG)" opacity="0.86"/>
<circle cx="744.4" cy="45.1" r="4.9" fill="#e6bf96"/><ellipse cx="749.1" cy="44.5" rx="8.5" ry="2.9" fill="#34607f" transform="rotate(-41 749.1 44.5)"/><circle cx="754.0" cy="40.2" r="3.2" fill="#3a6789"/><circle cx="745.0" cy="48.2" r="2.7" fill="#325c7c"/><circle cx="749.1" cy="44.5" r="6.5" fill="url(#mB)"/>
<circle cx="667.3" cy="46.2" r="4.9" fill="#e6bf96"/><ellipse cx="671.8" cy="45.6" rx="8.5" ry="2.9" fill="#34607f" transform="rotate(-40 671.8 45.6)"/><circle cx="676.8" cy="41.5" r="3.2" fill="#3a6789"/><circle cx="667.6" cy="49.1" r="2.7" fill="#325c7c"/><circle cx="671.8" cy="45.6" r="6.5" fill="url(#mB)"/>
<circle cx="802.7" cy="47.2" r="5.8" fill="url(#mG)" opacity="0.86"/>
<ellipse cx="594.8" cy="46.4" rx="8.5" ry="2.9" fill="#34607f" transform="rotate(-38 594.8 46.4)"/><circle cx="599.9" cy="42.4" r="3.2" fill="#3a6789"/><circle cx="590.5" cy="49.8" r="2.7" fill="#325c7c"/><circle cx="594.8" cy="46.4" r="6.5" fill="url(#mB)"/>
<circle cx="725.3" cy="47.9" r="5.8" fill="url(#mG)" opacity="0.86"/>
<circle cx="648.4" cy="48.4" r="5.8" fill="url(#mG)" opacity="0.86"/>
<circle cx="775.2" cy="50.9" r="4.9" fill="#e6bf96"/><ellipse cx="780.1" cy="50.3" rx="8.5" ry="2.9" fill="#34607f" transform="rotate(-42 780.1 50.3)"/><circle cx="785.0" cy="46.0" r="3.2" fill="#3a6789"/><circle cx="776.0" cy="54.0" r="2.7" fill="#325c7c"/><circle cx="780.1" cy="50.3" r="6.5" fill="url(#mB)"/>
<circle cx="697.8" cy="52.0" r="4.9" fill="#e6bf96"/><ellipse cx="702.4" cy="51.4" rx="8.5" ry="2.9" fill="#34607f" transform="rotate(-40 702.4 51.4)"/><circle cx="707.3" cy="47.2" r="3.2" fill="#3a6789"/><circle cx="698.2" cy="55.0" r="2.7" fill="#325c7c"/><circle cx="702.4" cy="51.4" r="6.5" fill="url(#mB)"/>
<circle cx="834.0" cy="53.1" r="5.8" fill="url(#mG)" opacity="0.86"/>
<circle cx="620.6" cy="52.8" r="4.9" fill="#e6bf96"/><ellipse cx="625.0" cy="52.2" rx="8.5" ry="2.9" fill="#34607f" transform="rotate(-39 625.0 52.2)"/><circle cx="630.0" cy="48.2" r="3.2" fill="#3a6789"/><circle cx="620.7" cy="55.7" r="2.7" fill="#325c7c"/><circle cx="625.0" cy="52.2" r="6.5" fill="url(#mB)"/>
<circle cx="756.2" cy="53.8" r="5.8" fill="url(#mG)" opacity="0.86"/>
<circle cx="678.8" cy="54.3" r="5.8" fill="url(#mG)" opacity="0.86"/>
<circle cx="602.0" cy="54.6" r="5.8" fill="url(#mG)" opacity="0.86"/>
<circle cx="806.4" cy="56.7" r="4.9" fill="#e6bf96"/><ellipse cx="811.5" cy="56.1" rx="8.5" ry="2.9" fill="#34607f" transform="rotate(-43 811.5 56.1)"/><circle cx="816.2" cy="51.7" r="3.2" fill="#3a6789"/><circle cx="807.4" cy="59.9" r="2.7" fill="#325c7c"/><circle cx="811.5" cy="56.1" r="6.5" fill="url(#mB)"/>
<circle cx="728.5" cy="57.8" r="4.9" fill="#e6bf96"/><ellipse cx="733.3" cy="57.2" rx="8.5" ry="2.9" fill="#34607f" transform="rotate(-41 733.3 57.2)"/><circle cx="738.2" cy="53.0" r="3.2" fill="#3a6789"/><circle cx="729.1" cy="60.9" r="2.7" fill="#325c7c"/><circle cx="733.3" cy="57.2" r="6.5" fill="url(#mB)"/>
<circle cx="651.0" cy="58.7" r="4.9" fill="#e6bf96"/><ellipse cx="655.5" cy="58.1" rx="8.5" ry="2.9" fill="#34607f" transform="rotate(-40 655.5 58.1)"/><circle cx="660.5" cy="53.9" r="3.2" fill="#3a6789"/><circle cx="651.2" cy="61.6" r="2.7" fill="#325c7c"/><circle cx="655.5" cy="58.1" r="6.5" fill="url(#mB)"/>
<circle cx="865.7" cy="59.1" r="5.8" fill="url(#mG)" opacity="0.86"/>
<ellipse cx="578.0" cy="58.7" rx="8.5" ry="2.9" fill="#34607f" transform="rotate(-38 578.0 58.7)"/><circle cx="583.1" cy="54.7" r="3.2" fill="#3a6789"/><circle cx="573.6" cy="62.1" r="2.7" fill="#325c7c"/><circle cx="578.0" cy="58.7" r="6.5" fill="url(#mB)"/>
<circle cx="787.4" cy="59.8" r="5.8" fill="url(#mG)" opacity="0.86"/>
<circle cx="709.6" cy="60.3" r="5.8" fill="url(#mG)" opacity="0.86"/>
<circle cx="632.3" cy="60.6" r="5.8" fill="url(#mG)" opacity="0.86"/>
<circle cx="837.9" cy="62.7" r="4.9" fill="#e6bf96"/><ellipse cx="843.1" cy="62.1" rx="8.5" ry="2.9" fill="#34607f" transform="rotate(-44 843.1 62.1)"/><circle cx="847.8" cy="57.6" r="3.2" fill="#3a6789"/><circle cx="839.1" cy="65.9" r="2.7" fill="#325c7c"/><circle cx="843.1" cy="62.1" r="6.5" fill="url(#mB)"/>
<circle cx="759.6" cy="63.8" r="4.9" fill="#e6bf96"/><ellipse cx="764.5" cy="63.2" rx="8.5" ry="2.9" fill="#34607f" transform="rotate(-42 764.5 63.2)"/><circle cx="769.4" cy="58.8" r="3.2" fill="#3a6789"/><circle cx="760.4" cy="66.9" r="2.7" fill="#325c7c"/><circle cx="764.5" cy="63.2" r="6.5" fill="url(#mB)"/>
<circle cx="681.7" cy="64.6" r="4.9" fill="#e6bf96"/><ellipse cx="686.3" cy="64.0" rx="8.5" ry="2.9" fill="#34607f" transform="rotate(-40 686.3 64.0)"/><circle cx="691.2" cy="59.8" r="3.2" fill="#3a6789"/><circle cx="682.1" cy="67.6" r="2.7" fill="#325c7c"/><circle cx="686.3" cy="64.0" r="6.5" fill="url(#mB)"/>
<circle cx="897.7" cy="65.2" r="5.8" fill="url(#mG)" opacity="0.86"/>
<circle cx="604.0" cy="65.2" r="4.9" fill="#e6bf96"/><ellipse cx="608.4" cy="64.6" rx="8.5" ry="2.9" fill="#34607f" transform="rotate(-39 608.4 64.6)"/><circle cx="613.4" cy="60.5" r="3.2" fill="#3a6789"/><circle cx="604.1" cy="68.0" r="2.7" fill="#325c7c"/><circle cx="608.4" cy="64.6" r="6.5" fill="url(#mB)"/>
<circle cx="819.0" cy="65.8" r="5.8" fill="url(#mG)" opacity="0.86"/>
<circle cx="740.8" cy="66.3" r="5.8" fill="url(#mG)" opacity="0.86"/>
<circle cx="663.0" cy="66.6" r="5.8" fill="url(#mG)" opacity="0.86"/>
<circle cx="585.7" cy="66.7" r="5.8" fill="url(#mG)" opacity="0.86"/>
<circle cx="869.8" cy="68.6" r="4.9" fill="#e6bf96"/><ellipse cx="875.1" cy="68.0" rx="8.5" ry="2.9" fill="#34607f" transform="rotate(-44 875.1 68.0)"/><circle cx="879.7" cy="63.5" r="3.2" fill="#3a6789"/><circle cx="871.1" cy="71.9" r="2.7" fill="#325c7c"/><circle cx="875.1" cy="68.0" r="6.5" fill="url(#mB)"/>
<circle cx="791.1" cy="69.7" r="4.9" fill="#e6bf96"/><ellipse cx="796.1" cy="69.1" rx="8.5" ry="2.9" fill="#34607f" transform="rotate(-43 796.1 69.1)"/><circle cx="800.9" cy="64.7" r="3.2" fill="#3a6789"/><circle cx="792.1" cy="72.9" r="2.7" fill="#325c7c"/><circle cx="796.1" cy="69.1" r="6.5" fill="url(#mB)"/>
<circle cx="712.7" cy="70.6" r="4.9" fill="#e6bf96"/><ellipse cx="717.5" cy="70.0" rx="8.5" ry="2.9" fill="#34607f" transform="rotate(-41 717.5 70.0)"/><circle cx="722.3" cy="65.7" r="3.2" fill="#3a6789"/><circle cx="713.3" cy="73.6" r="2.7" fill="#325c7c"/><circle cx="717.5" cy="70.0" r="6.5" fill="url(#mB)"/>
<circle cx="930.1" cy="71.3" r="5.8" fill="url(#mG)" opacity="0.86"/>
<circle cx="634.6" cy="71.1" r="4.9" fill="#e6bf96"/><ellipse cx="639.1" cy="70.5" rx="8.5" ry="2.9" fill="#34607f" transform="rotate(-40 639.1 70.5)"/><circle cx="644.1" cy="66.4" r="3.2" fill="#3a6789"/><circle cx="634.9" cy="74.1" r="2.7" fill="#325c7c"/><circle cx="639.1" cy="70.5" r="6.5" fill="url(#mB)"/>
<ellipse cx="561.1" cy="70.9" rx="8.5" ry="2.9" fill="#34607f" transform="rotate(-38 561.1 70.9)"/><circle cx="566.3" cy="66.9" r="3.2" fill="#3a6789"/><circle cx="556.8" cy="74.3" r="2.7" fill="#325c7c"/><circle cx="561.1" cy="70.9" r="6.5" fill="url(#mB)"/>
<circle cx="850.9" cy="71.9" r="5.8" fill="url(#mG)" opacity="0.86"/>
<circle cx="772.2" cy="72.4" r="5.8" fill="url(#mG)" opacity="0.86"/>
<circle cx="694.0" cy="72.6" r="5.8" fill="url(#mG)" opacity="0.86"/>
<circle cx="616.2" cy="72.7" r="5.8" fill="url(#mG)" opacity="0.86"/>
<circle cx="901.9" cy="74.7" r="4.9" fill="#e6bf96"/><ellipse cx="907.4" cy="74.1" rx="8.5" ry="2.9" fill="#34607f" transform="rotate(-45 907.4 74.1)"/><circle cx="912.0" cy="69.4" r="3.2" fill="#3a6789"/><circle cx="903.5" cy="78.0" r="2.7" fill="#325c7c"/><circle cx="907.4" cy="74.1" r="6.5" fill="url(#mB)"/>
<circle cx="822.9" cy="75.8" r="4.9" fill="#e6bf96"/><ellipse cx="828.0" cy="75.2" rx="8.5" ry="2.9" fill="#34607f" transform="rotate(-44 828.0 75.2)"/><circle cx="832.7" cy="70.7" r="3.2" fill="#3a6789"/><circle cx="824.0" cy="79.0" r="2.7" fill="#325c7c"/><circle cx="828.0" cy="75.2" r="6.5" fill="url(#mB)"/>
<circle cx="744.1" cy="76.6" r="4.9" fill="#e6bf96"/><ellipse cx="749.0" cy="76.0" rx="8.5" ry="2.9" fill="#34607f" transform="rotate(-42 749.0 76.0)"/><circle cx="753.8" cy="71.7" r="3.2" fill="#3a6789"/><circle cx="744.9" cy="79.7" r="2.7" fill="#325c7c"/><circle cx="749.0" cy="76.0" r="6.5" fill="url(#mB)"/>
<circle cx="962.8" cy="77.5" r="5.8" fill="url(#mG)" opacity="0.86"/>
<circle cx="665.6" cy="77.2" r="4.9" fill="#e6bf96"/><ellipse cx="670.2" cy="76.6" rx="8.5" ry="2.9" fill="#34607f" transform="rotate(-40 670.2 76.6)"/><circle cx="675.1" cy="72.4" r="3.2" fill="#3a6789"/><circle cx="666.0" cy="80.2" r="2.7" fill="#325c7c"/><circle cx="670.2" cy="76.6" r="6.5" fill="url(#mB)"/>
<circle cx="587.4" cy="77.5" r="4.9" fill="#e6bf96"/><ellipse cx="591.8" cy="76.9" rx="8.5" ry="2.9" fill="#34607f" transform="rotate(-39 591.8 76.9)"/><circle cx="596.9" cy="72.8" r="3.2" fill="#3a6789"/><circle cx="587.5" cy="80.4" r="2.7" fill="#325c7c"/><circle cx="591.8" cy="76.9" r="6.5" fill="url(#mB)"/>
<circle cx="883.2" cy="78.1" r="5.8" fill="url(#mG)" opacity="0.86"/>
<circle cx="804.0" cy="78.5" r="5.8" fill="url(#mG)" opacity="0.86"/>
<circle cx="569.4" cy="78.8" r="5.8" fill="url(#mG)" opacity="0.86"/>
<circle cx="725.3" cy="78.8" r="5.8" fill="url(#mG)" opacity="0.86"/>
<circle cx="647.1" cy="78.8" r="5.8" fill="url(#mG)" opacity="0.86"/>
<circle cx="934.4" cy="80.7" r="4.9" fill="#e6bf96"/><ellipse cx="940.0" cy="80.1" rx="8.5" ry="2.9" fill="#34607f" transform="rotate(-46 940.0 80.1)"/><circle cx="944.5" cy="75.5" r="3.2" fill="#3a6789"/><circle cx="936.2" cy="84.1" r="2.7" fill="#325c7c"/><circle cx="940.0" cy="80.1" r="6.5" fill="url(#mB)"/>
<circle cx="570.0" cy="107.7" r="4.7" fill="url(#mG)" opacity="0.80"/>
<circle cx="855.0" cy="81.9" r="4.9" fill="#e6bf96"/><ellipse cx="860.3" cy="81.3" rx="8.5" ry="2.9" fill="#34607f" transform="rotate(-44 860.3 81.3)"/><circle cx="864.9" cy="76.7" r="3.2" fill="#3a6789"/><circle cx="856.3" cy="85.1" r="2.7" fill="#325c7c"/><circle cx="860.3" cy="81.3" r="6.5" fill="url(#mB)"/>
<circle cx="775.8" cy="82.7" r="4.9" fill="#e6bf96"/><ellipse cx="780.8" cy="82.1" rx="8.5" ry="2.9" fill="#34607f" transform="rotate(-43 780.8 82.1)"/><circle cx="785.6" cy="77.7" r="3.2" fill="#3a6789"/><circle cx="776.7" cy="85.9" r="2.7" fill="#325c7c"/><circle cx="780.8" cy="82.1" r="6.5" fill="url(#mB)"/>
<circle cx="696.9" cy="83.3" r="4.9" fill="#e6bf96"/><ellipse cx="701.6" cy="82.7" rx="8.5" ry="2.9" fill="#34607f" transform="rotate(-41 701.6 82.7)"/><circle cx="706.5" cy="78.4" r="3.2" fill="#3a6789"/><circle cx="697.5" cy="86.3" r="2.7" fill="#325c7c"/><circle cx="701.6" cy="82.7" r="6.5" fill="url(#mB)"/>
<circle cx="995.8" cy="83.7" r="5.8" fill="url(#mG)" opacity="0.86"/>
<circle cx="618.3" cy="83.6" r="4.9" fill="#e6bf96"/><ellipse cx="622.8" cy="83.0" rx="8.5" ry="2.9" fill="#34607f" transform="rotate(-40 622.8 83.0)"/><circle cx="627.8" cy="78.9" r="3.2" fill="#3a6789"/><circle cx="618.5" cy="86.5" r="2.7" fill="#325c7c"/><circle cx="622.8" cy="83.0" r="6.5" fill="url(#mB)"/>
<ellipse cx="544.3" cy="83.1" rx="8.5" ry="2.9" fill="#34607f" transform="rotate(-38 544.3 83.1)"/><circle cx="549.4" cy="79.1" r="3.2" fill="#3a6789"/><circle cx="539.9" cy="86.5" r="2.7" fill="#325c7c"/><circle cx="544.3" cy="83.1" r="6.5" fill="url(#mB)"/>
<circle cx="915.8" cy="84.3" r="5.8" fill="url(#mG)" opacity="0.86"/>
<circle cx="836.2" cy="84.8" r="5.8" fill="url(#mG)" opacity="0.86"/>
<circle cx="600.1" cy="84.9" r="5.8" fill="url(#mG)" opacity="0.86"/>
<circle cx="757.0" cy="85.0" r="5.8" fill="url(#mG)" opacity="0.86"/>
<circle cx="678.3" cy="85.0" r="5.8" fill="url(#mG)" opacity="0.86"/>
<circle cx="995.8" cy="111.7" r="4.9" fill="url(#mG)" opacity="0.85"/>
<ellipse cx="545.4" cy="111.6" rx="8.3" ry="2.9" fill="#34607f" transform="rotate(-38 545.4 111.6)"/><circle cx="550.4" cy="107.7" r="3.2" fill="#3a6789"/><circle cx="541.1" cy="114.9" r="2.7" fill="#325c7c"/><circle cx="545.4" cy="111.6" r="6.4" fill="url(#mB)"/>
<circle cx="967.3" cy="86.9" r="4.9" fill="#e6bf96"/><ellipse cx="973.0" cy="86.3" rx="8.5" ry="2.9" fill="#34607f" transform="rotate(-47 973.0 86.3)"/><circle cx="977.4" cy="81.6" r="3.2" fill="#3a6789"/><circle cx="969.2" cy="90.3" r="2.7" fill="#325c7c"/><circle cx="973.0" cy="86.3" r="6.5" fill="url(#mB)"/>
<circle cx="600.6" cy="114.0" r="4.7" fill="url(#mG)" opacity="0.80"/>
<circle cx="887.4" cy="88.0" r="4.9" fill="#e6bf96"/><ellipse cx="892.9" cy="87.4" rx="8.5" ry="2.9" fill="#34607f" transform="rotate(-45 892.9 87.4)"/><circle cx="897.4" cy="82.8" r="3.2" fill="#3a6789"/><circle cx="889.0" cy="91.4" r="2.7" fill="#325c7c"/><circle cx="892.9" cy="87.4" r="6.5" fill="url(#mB)"/>
<path d="M559.1,106.6 L549.9,106.9 L554.2,98.8 Z" fill="#f6dcc0" stroke="#f6dcc0" stroke-width="1.2" stroke-linejoin="round"/><circle cx="559.9" cy="100.7" r="5.7" fill="url(#mO)"/>
<circle cx="807.8" cy="88.9" r="4.9" fill="#e6bf96"/><ellipse cx="813.0" cy="88.3" rx="8.5" ry="2.9" fill="#34607f" transform="rotate(-44 813.0 88.3)"/><circle cx="817.7" cy="83.8" r="3.2" fill="#3a6789"/><circle cx="809.0" cy="92.1" r="2.7" fill="#325c7c"/><circle cx="813.0" cy="88.3" r="6.5" fill="url(#mB)"/>
<circle cx="987.9" cy="104.7" r="6.3" fill="url(#mO)"/>
<circle cx="728.5" cy="89.5" r="4.9" fill="#e6bf96"/><ellipse cx="733.4" cy="88.9" rx="8.5" ry="2.9" fill="#34607f" transform="rotate(-42 733.4 88.9)"/><circle cx="738.2" cy="84.5" r="3.2" fill="#3a6789"/><circle cx="729.3" cy="92.6" r="2.7" fill="#325c7c"/><circle cx="733.4" cy="88.9" r="6.5" fill="url(#mB)"/>
<circle cx="649.5" cy="89.8" r="4.9" fill="#e6bf96"/><ellipse cx="654.1" cy="89.2" rx="8.5" ry="2.9" fill="#34607f" transform="rotate(-40 654.1 89.2)"/><circle cx="659.0" cy="85.0" r="3.2" fill="#3a6789"/><circle cx="649.9" cy="92.8" r="2.7" fill="#325c7c"/><circle cx="654.1" cy="89.2" r="6.5" fill="url(#mB)"/>
<circle cx="570.8" cy="89.9" r="4.9" fill="#e6bf96"/><ellipse cx="575.2" cy="89.3" rx="8.5" ry="2.9" fill="#34607f" transform="rotate(-39 575.2 89.3)"/><circle cx="580.3" cy="85.2" r="3.2" fill="#3a6789"/><circle cx="570.9" cy="92.7" r="2.7" fill="#325c7c"/><circle cx="575.2" cy="89.3" r="6.5" fill="url(#mB)"/>
<circle cx="948.7" cy="90.6" r="5.8" fill="url(#mG)" opacity="0.86"/>
<circle cx="553.1" cy="90.8" r="5.8" fill="url(#mG)" opacity="0.86"/>
<circle cx="868.6" cy="91.0" r="5.8" fill="url(#mG)" opacity="0.86"/>
<circle cx="631.2" cy="91.1" r="5.8" fill="url(#mG)" opacity="0.86"/>
<circle cx="789.0" cy="91.2" r="5.8" fill="url(#mG)" opacity="0.86"/>
<circle cx="709.9" cy="91.3" r="5.8" fill="url(#mG)" opacity="0.86"/>
<ellipse cx="576.1" cy="117.9" rx="8.3" ry="2.9" fill="#34607f" transform="rotate(-38 576.1 117.9)"/><circle cx="581.2" cy="114.0" r="3.2" fill="#3a6789"/><circle cx="571.8" cy="121.3" r="2.7" fill="#325c7c"/><circle cx="576.1" cy="117.9" r="6.4" fill="url(#mB)"/>
<circle cx="631.5" cy="120.4" r="4.7" fill="url(#mG)" opacity="0.80"/>
<circle cx="920.2" cy="94.3" r="4.9" fill="#e6bf96"/><ellipse cx="925.8" cy="93.7" rx="8.5" ry="2.9" fill="#34607f" transform="rotate(-46 925.8 93.7)"/><circle cx="930.3" cy="89.0" r="3.2" fill="#3a6789"/><circle cx="921.9" cy="97.6" r="2.7" fill="#325c7c"/><circle cx="925.8" cy="93.7" r="6.5" fill="url(#mB)"/>
<path d="M590.1,112.8 L580.9,113.2 L585.3,105.0 Z" fill="#f6dcc0" stroke="#f6dcc0" stroke-width="1.2" stroke-linejoin="round"/><circle cx="590.9" cy="106.9" r="5.7" fill="url(#mO)"/>
<circle cx="840.1" cy="95.1" r="4.9" fill="#e6bf96"/><ellipse cx="845.5" cy="94.5" rx="8.5" ry="2.9" fill="#34607f" transform="rotate(-44 845.5 94.5)"/><circle cx="850.1" cy="90.0" r="3.2" fill="#3a6789"/><circle cx="841.5" cy="98.4" r="2.7" fill="#325c7c"/><circle cx="845.5" cy="94.5" r="6.5" fill="url(#mB)"/>
<circle cx="760.4" cy="95.7" r="4.9" fill="#e6bf96"/><ellipse cx="765.5" cy="95.1" rx="8.5" ry="2.9" fill="#34607f" transform="rotate(-43 765.5 95.1)"/><circle cx="770.2" cy="90.7" r="3.2" fill="#3a6789"/><circle cx="761.4" cy="98.9" r="2.7" fill="#325c7c"/><circle cx="765.5" cy="95.1" r="6.5" fill="url(#mB)"/>
<circle cx="681.0" cy="96.0" r="4.9" fill="#e6bf96"/><ellipse cx="685.8" cy="95.4" rx="8.5" ry="2.9" fill="#34607f" transform="rotate(-41 685.8 95.4)"/><circle cx="690.7" cy="91.1" r="3.2" fill="#3a6789"/><circle cx="681.6" cy="99.1" r="2.7" fill="#325c7c"/><circle cx="685.8" cy="95.4" r="6.5" fill="url(#mB)"/>
<circle cx="601.9" cy="96.1" r="4.9" fill="#e6bf96"/><ellipse cx="606.4" cy="95.5" rx="8.5" ry="2.9" fill="#34607f" transform="rotate(-40 606.4 95.5)"/><circle cx="611.4" cy="91.3" r="3.2" fill="#3a6789"/><circle cx="602.2" cy="99.0" r="2.7" fill="#325c7c"/><circle cx="606.4" cy="95.5" r="6.5" fill="url(#mB)"/>
<circle cx="981.9" cy="97.0" r="5.8" fill="url(#mG)" opacity="0.86"/>
<circle cx="584.1" cy="97.1" r="5.8" fill="url(#mG)" opacity="0.86"/>
<circle cx="901.4" cy="97.4" r="5.8" fill="url(#mG)" opacity="0.86"/>
<circle cx="662.7" cy="97.4" r="5.8" fill="url(#mG)" opacity="0.86"/>
<circle cx="741.8" cy="97.6" r="5.8" fill="url(#mG)" opacity="0.86"/>
<circle cx="821.4" cy="97.6" r="5.8" fill="url(#mG)" opacity="0.86"/>
<circle cx="982.7" cy="124.8" r="4.9" fill="url(#mG)" opacity="0.85"/>
<ellipse cx="607.2" cy="124.4" rx="8.3" ry="2.9" fill="#34607f" transform="rotate(-38 607.2 124.4)"/><circle cx="612.2" cy="120.4" r="3.2" fill="#3a6789"/><circle cx="602.9" cy="127.7" r="2.7" fill="#325c7c"/><circle cx="607.2" cy="124.4" r="6.4" fill="url(#mB)"/>
<circle cx="662.8" cy="126.8" r="4.7" fill="url(#mG)" opacity="0.80"/>
<circle cx="953.3" cy="100.6" r="4.9" fill="#e6bf96"/><ellipse cx="959.0" cy="100.0" rx="8.5" ry="2.9" fill="#34607f" transform="rotate(-47 959.0 100.0)"/><circle cx="963.4" cy="95.2" r="3.2" fill="#3a6789"/><circle cx="955.2" cy="104.0" r="2.7" fill="#325c7c"/><circle cx="959.0" cy="100.0" r="6.5" fill="url(#mB)"/>
<path d="M621.6,119.1 L612.3,119.5 L616.7,111.3 Z" fill="#f6dcc0" stroke="#f6dcc0" stroke-width="1.2" stroke-linejoin="round"/><circle cx="622.3" cy="113.2" r="5.7" fill="url(#mO)"/>
<circle cx="872.8" cy="101.4" r="4.9" fill="#e6bf96"/><ellipse cx="878.3" cy="100.8" rx="8.5" ry="2.9" fill="#34607f" transform="rotate(-45 878.3 100.8)"/><circle cx="882.9" cy="96.2" r="3.2" fill="#3a6789"/><circle cx="874.4" cy="104.7" r="2.7" fill="#325c7c"/><circle cx="878.3" cy="100.8" r="6.5" fill="url(#mB)"/>
<circle cx="792.7" cy="102.0" r="4.9" fill="#e6bf96"/><ellipse cx="797.9" cy="101.4" rx="8.5" ry="2.9" fill="#34607f" transform="rotate(-44 797.9 101.4)"/><circle cx="802.6" cy="96.9" r="3.2" fill="#3a6789"/><circle cx="793.9" cy="105.2" r="2.7" fill="#325c7c"/><circle cx="797.9" cy="101.4" r="6.5" fill="url(#mB)"/>
<circle cx="712.9" cy="102.3" r="4.9" fill="#e6bf96"/><ellipse cx="717.8" cy="101.7" rx="8.5" ry="2.9" fill="#34607f" transform="rotate(-42 717.8 101.7)"/><circle cx="722.6" cy="97.4" r="3.2" fill="#3a6789"/><circle cx="713.7" cy="105.4" r="2.7" fill="#325c7c"/><circle cx="717.8" cy="101.7" r="6.5" fill="url(#mB)"/>
<circle cx="633.4" cy="102.4" r="4.9" fill="#e6bf96"/><ellipse cx="638.0" cy="101.8" rx="8.5" ry="2.9" fill="#34607f" transform="rotate(-40 638.0 101.8)"/><circle cx="643.0" cy="97.6" r="3.2" fill="#3a6789"/><circle cx="633.8" cy="105.4" r="2.7" fill="#325c7c"/><circle cx="638.0" cy="101.8" r="6.5" fill="url(#mB)"/>
<circle cx="974.8" cy="117.8" r="6.3" fill="url(#mO)"/>
<circle cx="615.4" cy="103.4" r="5.8" fill="url(#mG)" opacity="0.86"/>
<circle cx="694.4" cy="103.7" r="5.8" fill="url(#mG)" opacity="0.86"/>
<circle cx="934.6" cy="103.8" r="5.8" fill="url(#mG)" opacity="0.86"/>
<circle cx="774.0" cy="103.9" r="5.8" fill="url(#mG)" opacity="0.86"/>
<circle cx="854.1" cy="104.0" r="5.8" fill="url(#mG)" opacity="0.86"/>
<ellipse cx="638.6" cy="130.9" rx="8.3" ry="2.9" fill="#34607f" transform="rotate(-38 638.6 130.9)"/><circle cx="643.6" cy="126.9" r="3.2" fill="#3a6789"/><circle cx="634.3" cy="134.2" r="2.7" fill="#325c7c"/><circle cx="638.6" cy="130.9" r="6.4" fill="url(#mB)"/>
<circle cx="694.4" cy="133.3" r="4.7" fill="url(#mG)" opacity="0.80"/>
<path d="M653.3,125.5 L644.1,125.9 L648.4,117.7 Z" fill="#f6dcc0" stroke="#f6dcc0" stroke-width="1.2" stroke-linejoin="round"/><circle cx="654.1" cy="119.6" r="5.7" fill="url(#mO)"/>
<circle cx="905.9" cy="107.8" r="4.9" fill="#e6bf96"/><ellipse cx="911.5" cy="107.2" rx="8.5" ry="2.9" fill="#34607f" transform="rotate(-46 911.5 107.2)"/><circle cx="916.0" cy="102.5" r="3.2" fill="#3a6789"/><circle cx="907.6" cy="111.2" r="2.7" fill="#325c7c"/><circle cx="911.5" cy="107.2" r="6.5" fill="url(#mB)"/>
<circle cx="825.3" cy="108.4" r="4.9" fill="#e6bf96"/><ellipse cx="830.7" cy="107.8" rx="8.5" ry="2.9" fill="#34607f" transform="rotate(-44 830.7 107.8)"/><circle cx="835.3" cy="103.2" r="3.2" fill="#3a6789"/><circle cx="826.7" cy="111.6" r="2.7" fill="#325c7c"/><circle cx="830.7" cy="107.8" r="6.5" fill="url(#mB)"/>
<circle cx="745.1" cy="108.7" r="4.9" fill="#e6bf96"/><ellipse cx="750.1" cy="108.1" rx="8.5" ry="2.9" fill="#34607f" transform="rotate(-43 750.1 108.1)"/><circle cx="754.9" cy="103.7" r="3.2" fill="#3a6789"/><circle cx="746.1" cy="111.8" r="2.7" fill="#325c7c"/><circle cx="750.1" cy="108.1" r="6.5" fill="url(#mB)"/>
<circle cx="665.2" cy="108.7" r="4.9" fill="#e6bf96"/><ellipse cx="669.9" cy="108.1" rx="8.5" ry="2.9" fill="#34607f" transform="rotate(-41 669.9 108.1)"/><circle cx="674.8" cy="103.9" r="3.2" fill="#3a6789"/><circle cx="665.8" cy="111.8" r="2.7" fill="#325c7c"/><circle cx="669.9" cy="108.1" r="6.5" fill="url(#mB)"/>
<circle cx="647.0" cy="109.8" r="5.8" fill="url(#mG)" opacity="0.86"/>
<circle cx="726.6" cy="110.2" r="5.8" fill="url(#mG)" opacity="0.86"/>
<circle cx="968.1" cy="110.3" r="5.8" fill="url(#mG)" opacity="0.86"/>
<circle cx="806.6" cy="110.4" r="5.8" fill="url(#mG)" opacity="0.86"/>
<circle cx="887.1" cy="110.4" r="5.8" fill="url(#mG)" opacity="0.86"/>
<circle cx="969.5" cy="138.0" r="4.9" fill="url(#mG)" opacity="0.85"/>
<ellipse cx="670.3" cy="137.4" rx="8.3" ry="2.9" fill="#34607f" transform="rotate(-38 670.3 137.4)"/><circle cx="675.3" cy="133.5" r="3.2" fill="#3a6789"/><circle cx="666.0" cy="140.8" r="2.7" fill="#325c7c"/><circle cx="670.3" cy="137.4" r="6.4" fill="url(#mB)"/>
<circle cx="726.4" cy="139.9" r="4.7" fill="url(#mG)" opacity="0.80"/>
<path d="M685.4,132.0 L676.2,132.3 L680.6,124.2 Z" fill="#f6dcc0" stroke="#f6dcc0" stroke-width="1.2" stroke-linejoin="round"/><circle cx="686.2" cy="126.1" r="5.7" fill="url(#mO)"/>
<circle cx="939.3" cy="114.2" r="4.9" fill="#e6bf96"/><ellipse cx="945.0" cy="113.6" rx="8.5" ry="2.9" fill="#34607f" transform="rotate(-47 945.0 113.6)"/><circle cx="949.4" cy="108.9" r="3.2" fill="#3a6789"/><circle cx="941.2" cy="117.6" r="2.7" fill="#325c7c"/><circle cx="945.0" cy="113.6" r="6.5" fill="url(#mB)"/>
<circle cx="858.3" cy="114.8" r="4.9" fill="#e6bf96"/><ellipse cx="863.8" cy="114.2" rx="8.5" ry="2.9" fill="#34607f" transform="rotate(-45 863.8 114.2)"/><circle cx="868.3" cy="109.6" r="3.2" fill="#3a6789"/><circle cx="859.9" cy="118.1" r="2.7" fill="#325c7c"/><circle cx="863.8" cy="114.2" r="6.5" fill="url(#mB)"/>
<circle cx="777.6" cy="115.1" r="4.9" fill="#e6bf96"/><ellipse cx="782.8" cy="114.5" rx="8.5" ry="2.9" fill="#34607f" transform="rotate(-44 782.8 114.5)"/><circle cx="787.5" cy="110.0" r="3.2" fill="#3a6789"/><circle cx="778.8" cy="118.3" r="2.7" fill="#325c7c"/><circle cx="782.8" cy="114.5" r="6.5" fill="url(#mB)"/>
<circle cx="697.3" cy="115.2" r="4.9" fill="#e6bf96"/><ellipse cx="702.2" cy="114.6" rx="8.5" ry="2.9" fill="#34607f" transform="rotate(-42 702.2 114.6)"/><circle cx="707.0" cy="110.2" r="3.2" fill="#3a6789"/><circle cx="698.1" cy="118.3" r="2.7" fill="#325c7c"/><circle cx="702.2" cy="114.6" r="6.5" fill="url(#mB)"/>
<circle cx="679.0" cy="116.2" r="5.8" fill="url(#mG)" opacity="0.86"/>
<circle cx="759.0" cy="116.7" r="5.8" fill="url(#mG)" opacity="0.86"/>
<circle cx="839.5" cy="116.9" r="5.8" fill="url(#mG)" opacity="0.86"/>
<circle cx="961.7" cy="131.9" r="6.3" fill="url(#mO)"/>
<circle cx="920.5" cy="117.0" r="5.8" fill="url(#mG)" opacity="0.86"/>
<ellipse cx="702.4" cy="144.0" rx="8.3" ry="2.9" fill="#34607f" transform="rotate(-38 702.4 144.0)"/><circle cx="707.4" cy="140.1" r="3.2" fill="#3a6789"/><circle cx="698.1" cy="147.4" r="2.7" fill="#325c7c"/><circle cx="702.4" cy="144.0" r="6.4" fill="url(#mB)"/>
<circle cx="758.7" cy="146.6" r="4.7" fill="url(#mG)" opacity="0.80"/>
<path d="M717.9,138.5 L708.7,138.9 L713.0,130.7 Z" fill="#f6dcc0" stroke="#f6dcc0" stroke-width="1.2" stroke-linejoin="round"/><circle cx="718.7" cy="132.6" r="5.7" fill="url(#mO)"/>
<circle cx="891.6" cy="121.3" r="4.9" fill="#e6bf96"/><ellipse cx="897.2" cy="120.7" rx="8.5" ry="2.9" fill="#34607f" transform="rotate(-46 897.2 120.7)"/><circle cx="901.7" cy="116.0" r="3.2" fill="#3a6789"/><circle cx="893.4" cy="124.7" r="2.7" fill="#325c7c"/><circle cx="897.2" cy="120.7" r="6.5" fill="url(#mB)"/>
<circle cx="810.5" cy="121.6" r="4.9" fill="#e6bf96"/><ellipse cx="815.9" cy="121.0" rx="8.5" ry="2.9" fill="#34607f" transform="rotate(-44 815.9 121.0)"/><circle cx="820.5" cy="116.5" r="3.2" fill="#3a6789"/><circle cx="811.9" cy="124.9" r="2.7" fill="#325c7c"/><circle cx="815.9" cy="121.0" r="6.5" fill="url(#mB)"/>
<circle cx="729.8" cy="121.7" r="4.9" fill="#e6bf96"/><ellipse cx="734.8" cy="121.1" rx="8.5" ry="2.9" fill="#34607f" transform="rotate(-43 734.8 121.1)"/><circle cx="739.6" cy="116.7" r="3.2" fill="#3a6789"/><circle cx="730.7" cy="124.8" r="2.7" fill="#325c7c"/><circle cx="734.8" cy="121.1" r="6.5" fill="url(#mB)"/>
<circle cx="711.3" cy="122.8" r="5.8" fill="url(#mG)" opacity="0.86"/>
<circle cx="791.8" cy="123.2" r="5.8" fill="url(#mG)" opacity="0.86"/>
<circle cx="872.8" cy="123.5" r="5.8" fill="url(#mG)" opacity="0.86"/>
<circle cx="954.2" cy="123.6" r="5.8" fill="url(#mG)" opacity="0.86"/>
<ellipse cx="734.8" cy="150.7" rx="8.3" ry="2.9" fill="#34607f" transform="rotate(-38 734.8 150.7)"/><circle cx="739.8" cy="146.8" r="3.2" fill="#3a6789"/><circle cx="730.5" cy="154.1" r="2.7" fill="#325c7c"/><circle cx="734.8" cy="150.7" r="6.4" fill="url(#mB)"/>
<circle cx="955.5" cy="152.0" r="4.9" fill="url(#mG)" opacity="0.85"/>
<circle cx="791.3" cy="153.3" r="4.7" fill="url(#mG)" opacity="0.80"/>
<path d="M750.7,145.1 L741.5,145.5 L745.8,137.3 Z" fill="#f6dcc0" stroke="#f6dcc0" stroke-width="1.2" stroke-linejoin="round"/><circle cx="751.5" cy="139.2" r="5.7" fill="url(#mO)"/>
<circle cx="925.3" cy="127.9" r="4.9" fill="#e6bf96"/><ellipse cx="931.0" cy="127.3" rx="8.5" ry="2.9" fill="#34607f" transform="rotate(-47 931.0 127.3)"/><circle cx="935.4" cy="122.5" r="3.2" fill="#3a6789"/><circle cx="927.2" cy="131.3" r="2.7" fill="#325c7c"/><circle cx="931.0" cy="127.3" r="6.5" fill="url(#mB)"/>
<circle cx="843.8" cy="128.2" r="4.9" fill="#e6bf96"/><ellipse cx="849.2" cy="127.6" rx="8.5" ry="2.9" fill="#34607f" transform="rotate(-45 849.2 127.6)"/><circle cx="853.8" cy="123.0" r="3.2" fill="#3a6789"/><circle cx="845.3" cy="131.5" r="2.7" fill="#325c7c"/><circle cx="849.2" cy="127.6" r="6.5" fill="url(#mB)"/>
<circle cx="762.6" cy="128.2" r="4.9" fill="#e6bf96"/><ellipse cx="767.7" cy="127.6" rx="8.5" ry="2.9" fill="#34607f" transform="rotate(-44 767.7 127.6)"/><circle cx="772.5" cy="123.2" r="3.2" fill="#3a6789"/><circle cx="763.7" cy="131.5" r="2.7" fill="#325c7c"/><circle cx="767.7" cy="127.6" r="6.5" fill="url(#mB)"/>
<circle cx="744.0" cy="129.4" r="5.8" fill="url(#mG)" opacity="0.86"/>
<circle cx="825.0" cy="129.8" r="5.8" fill="url(#mG)" opacity="0.86"/>
<circle cx="906.4" cy="130.1" r="5.8" fill="url(#mG)" opacity="0.86"/>
<circle cx="947.6" cy="146.0" r="6.3" fill="url(#mO)"/>
<ellipse cx="767.5" cy="157.5" rx="8.3" ry="2.9" fill="#34607f" transform="rotate(-38 767.5 157.5)"/><circle cx="772.6" cy="153.6" r="3.2" fill="#3a6789"/><circle cx="763.3" cy="160.9" r="2.7" fill="#325c7c"/><circle cx="767.5" cy="157.5" r="6.4" fill="url(#mB)"/>
<circle cx="824.3" cy="160.1" r="4.7" fill="url(#mG)" opacity="0.80"/>
<path d="M783.8,151.8 L774.6,152.1 L779.0,144.0 Z" fill="#f6dcc0" stroke="#f6dcc0" stroke-width="1.2" stroke-linejoin="round"/><circle cx="784.6" cy="145.9" r="5.7" fill="url(#mO)"/>
<circle cx="877.3" cy="134.8" r="4.9" fill="#e6bf96"/><ellipse cx="882.9" cy="134.2" rx="8.5" ry="2.9" fill="#34607f" transform="rotate(-46 882.9 134.2)"/><circle cx="887.5" cy="129.6" r="3.2" fill="#3a6789"/><circle cx="879.1" cy="138.2" r="2.7" fill="#325c7c"/><circle cx="882.9" cy="134.2" r="6.5" fill="url(#mB)"/>
<circle cx="795.7" cy="134.9" r="4.9" fill="#e6bf96"/><ellipse cx="801.0" cy="134.3" rx="8.5" ry="2.9" fill="#34607f" transform="rotate(-44 801.0 134.3)"/><circle cx="805.7" cy="129.7" r="3.2" fill="#3a6789"/><circle cx="797.1" cy="138.1" r="2.7" fill="#325c7c"/><circle cx="801.0" cy="134.3" r="6.5" fill="url(#mB)"/>
<circle cx="777.0" cy="136.0" r="5.8" fill="url(#mG)" opacity="0.86"/>
<circle cx="858.5" cy="136.5" r="5.8" fill="url(#mG)" opacity="0.86"/>
<circle cx="940.3" cy="136.8" r="5.8" fill="url(#mG)" opacity="0.86"/>
<ellipse cx="800.6" cy="164.4" rx="8.3" ry="2.9" fill="#34607f" transform="rotate(-38 800.6 164.4)"/><circle cx="805.7" cy="160.4" r="3.2" fill="#3a6789"/><circle cx="796.4" cy="167.7" r="2.7" fill="#325c7c"/><circle cx="800.6" cy="164.4" r="6.4" fill="url(#mB)"/>
<circle cx="942.4" cy="166.0" r="4.9" fill="url(#mG)" opacity="0.85"/>
<circle cx="857.6" cy="167.0" r="4.7" fill="url(#mG)" opacity="0.80"/>
<path d="M817.3,158.5 L808.1,158.9 L812.4,150.7 Z" fill="#f6dcc0" stroke="#f6dcc0" stroke-width="1.2" stroke-linejoin="round"/><circle cx="818.1" cy="152.6" r="5.7" fill="url(#mO)"/>
<circle cx="911.3" cy="141.5" r="4.9" fill="#e6bf96"/><ellipse cx="917.0" cy="140.9" rx="8.5" ry="2.9" fill="#34607f" transform="rotate(-47 917.0 140.9)"/><circle cx="921.4" cy="136.2" r="3.2" fill="#3a6789"/><circle cx="913.2" cy="145.0" r="2.7" fill="#325c7c"/><circle cx="917.0" cy="140.9" r="6.5" fill="url(#mB)"/>
<circle cx="829.2" cy="141.6" r="4.9" fill="#e6bf96"/><ellipse cx="834.7" cy="141.0" rx="8.5" ry="2.9" fill="#34607f" transform="rotate(-45 834.7 141.0)"/><circle cx="839.3" cy="136.4" r="3.2" fill="#3a6789"/><circle cx="830.8" cy="144.9" r="2.7" fill="#325c7c"/><circle cx="834.7" cy="141.0" r="6.5" fill="url(#mB)"/>
<circle cx="810.4" cy="142.8" r="5.8" fill="url(#mG)" opacity="0.86"/>
<circle cx="892.3" cy="143.3" r="5.8" fill="url(#mG)" opacity="0.86"/>
<circle cx="934.5" cy="160.0" r="6.3" fill="url(#mO)"/>
<ellipse cx="834.1" cy="171.3" rx="8.3" ry="2.9" fill="#34607f" transform="rotate(-38 834.1 171.3)"/><circle cx="839.1" cy="167.3" r="3.2" fill="#3a6789"/><circle cx="829.8" cy="174.6" r="2.7" fill="#325c7c"/><circle cx="834.1" cy="171.3" r="6.4" fill="url(#mB)"/>
<path d="M851.2,165.3 L841.9,165.7 L846.3,157.5 Z" fill="#f6dcc0" stroke="#f6dcc0" stroke-width="1.2" stroke-linejoin="round"/><circle cx="851.9" cy="159.4" r="5.7" fill="url(#mO)"/>
<circle cx="891.3" cy="173.9" r="4.7" fill="url(#mG)" opacity="0.80"/>
<circle cx="863.1" cy="148.4" r="4.9" fill="#e6bf96"/><ellipse cx="868.7" cy="147.8" rx="8.5" ry="2.9" fill="#34607f" transform="rotate(-46 868.7 147.8)"/><circle cx="873.2" cy="143.1" r="3.2" fill="#3a6789"/><circle cx="864.8" cy="151.7" r="2.7" fill="#325c7c"/><circle cx="868.7" cy="147.8" r="6.5" fill="url(#mB)"/>
<circle cx="844.1" cy="149.6" r="5.8" fill="url(#mG)" opacity="0.86"/>
<circle cx="926.5" cy="150.1" r="5.8" fill="url(#mG)" opacity="0.86"/>
<ellipse cx="867.9" cy="178.2" rx="8.3" ry="2.9" fill="#34607f" transform="rotate(-38 867.9 178.2)"/><circle cx="872.9" cy="174.3" r="3.2" fill="#3a6789"/><circle cx="863.6" cy="181.6" r="2.7" fill="#325c7c"/><circle cx="867.9" cy="178.2" r="6.4" fill="url(#mB)"/>
<path d="M885.3,172.2 L876.1,172.6 L880.5,164.4 Z" fill="#f6dcc0" stroke="#f6dcc0" stroke-width="1.2" stroke-linejoin="round"/><circle cx="886.1" cy="166.3" r="5.7" fill="url(#mO)"/>
<circle cx="925.3" cy="180.9" r="4.7" fill="url(#mG)" opacity="0.80"/>
<circle cx="897.3" cy="155.2" r="4.9" fill="#e6bf96"/><ellipse cx="903.0" cy="154.6" rx="8.5" ry="2.9" fill="#34607f" transform="rotate(-47 903.0 154.6)"/><circle cx="907.4" cy="149.9" r="3.2" fill="#3a6789"/><circle cx="899.2" cy="158.6" r="2.7" fill="#325c7c"/><circle cx="903.0" cy="154.6" r="6.5" fill="url(#mB)"/>
<circle cx="878.2" cy="156.5" r="5.8" fill="url(#mG)" opacity="0.86"/>
<ellipse cx="902.0" cy="185.3" rx="8.3" ry="2.9" fill="#34607f" transform="rotate(-38 902.0 185.3)"/><circle cx="907.0" cy="181.4" r="3.2" fill="#3a6789"/><circle cx="897.7" cy="188.6" r="2.7" fill="#325c7c"/><circle cx="902.0" cy="185.3" r="6.4" fill="url(#mB)"/>
<path d="M919.9,179.2 L910.7,179.5 L915.0,171.4 Z" fill="#f6dcc0" stroke="#f6dcc0" stroke-width="1.2" stroke-linejoin="round"/><circle cx="920.7" cy="173.3" r="5.7" fill="url(#mO)"/>
<circle cx="912.6" cy="163.4" r="5.8" fill="url(#mG)" opacity="0.86"/>
<g font-family='"Liberation Sans", Arial, Helvetica, sans-serif' fill="#000">
<text x="908.5" y="33.7" font-size="27.8">MnPt</text>
<text x="706" y="234.6" font-size="26.8">Pt</text>
<text x="578.6" y="204" font-size="28.5">e</text>
<text x="595.4" y="197.4" font-size="20">-</text>
<text x="476.8" y="228.7" font-size="16">z</text><text x="512.6" y="249.6" font-size="16">y</text><text x="516.8" y="278.9" font-size="16">x</text>
</g>
<g stroke="#000" fill="none" stroke-linecap="butt">
<path d="M897.5,23.6 C872,25 850,33 840.5,42.5" stroke-width="1.5"/>
<path d="M570.2,219.2 L593,224.2" stroke-width="2.4"/>
<path d="M482.2,267.2 L481.2,241" stroke-width="2.3"/><path d="M481.6,266.9 L502.5,253.6" stroke-width="2.3"/><path d="M481.4,266.3 L506.5,271.6" stroke-width="2.3"/>
</g>
<g fill="#000"><path d="M836.8,45 L846.3,42.8 L841.2,36.6 Z"/><path d="M601.4,225.7 L590,228.4 L592.6,218.6 Z"/><path d="M480.9,234 L476.1,244.4 L486.2,244 Z"/><path d="M509.2,249.4 L498.2,250.4 L503.6,259 Z"/><path d="M514.6,273.3 L504.4,276.6 L506.4,266.6 Z"/></g>
</g>
<defs>
<radialGradient id="gB" cx="0.5" cy="0.5" r="0.62" fx="0.44" fy="0.2">
 <stop offset="0" stop-color="#d3e3ec"/><stop offset="0.2" stop-color="#8eb0c4"/><stop offset="0.5" stop-color="#557f98"/><stop offset="0.85" stop-color="#42687f"/><stop offset="1" stop-color="#37596f"/></radialGradient>
<radialGradient id="gO" cx="0.5" cy="0.5" r="0.62" fx="0.46" fy="0.2">
 <stop offset="0" stop-color="#fbeee2"/><stop offset="0.2" stop-color="#efcfb0"/><stop offset="0.6" stop-color="#e0b690"/><stop offset="1" stop-color="#c99f7c"/></radialGradient>
<linearGradient id="gG" x1="0.35" y1="0" x2="0.6" y2="1">
 <stop offset="0" stop-color="#9f9f9f"/><stop offset="0.4" stop-color="#bcbcbc"/><stop offset="0.68" stop-color="#e4e4e4"/><stop offset="1" stop-color="#f1f1f1"/></linearGradient>
<radialGradient id="gGe" cx="0.5" cy="0.5" r="0.5">
 <stop offset="0.78" stop-color="#bdbdbd" stop-opacity="0"/><stop offset="1" stop-color="#b2b2b2" stop-opacity="0.75"/></radialGradient>
<linearGradient id="sB" x1="0" y1="0" x2="0" y2="1">
 <stop offset="0" stop-color="#5d849b"/><stop offset="0.3" stop-color="#7ea2b8"/><stop offset="1" stop-color="#3f6379"/></linearGradient>
<linearGradient id="sO" x1="0" y1="0" x2="0" y2="1">
 <stop offset="0" stop-color="#e6c19f"/><stop offset="0.3" stop-color="#f6dcc4"/><stop offset="1" stop-color="#d2a882"/></linearGradient>
<linearGradient id="cB" x1="0" y1="0" x2="0" y2="1">
 <stop offset="0" stop-color="#5b8299"/><stop offset="0.45" stop-color="#4b728a"/><stop offset="1" stop-color="#2c4a5d"/></linearGradient>
<linearGradient id="cO" x1="0" y1="0" x2="0" y2="1">
 <stop offset="0" stop-color="#efd0b3"/><stop offset="0.5" stop-color="#e6bf9c"/><stop offset="1" stop-color="#d0a580"/></linearGradient>
<radialGradient id="mB" cx="0.5" cy="0.5" r="0.6" fx="0.42" fy="0.32">
 <stop offset="0" stop-color="#b7d3e6"/><stop offset="0.22" stop-color="#5f8db0"/><stop offset="0.7" stop-color="#386388"/><stop offset="1" stop-color="#2a4d6b"/></radialGradient>
<radialGradient id="mO" cx="0.5" cy="0.5" r="0.6" fx="0.42" fy="0.32">
 <stop offset="0" stop-color="#fff3e6"/><stop offset="0.4" stop-color="#f4d3b0"/><stop offset="1" stop-color="#dcb088"/></radialGradient>
<radialGradient id="mG" cx="0.5" cy="0.5" r="0.6" fx="0.42" fy="0.3">
 <stop offset="0" stop-color="#ececec"/><stop offset="0.3" stop-color="#d2d2d2"/><stop offset="0.75" stop-color="#bcbcbc"/><stop offset="1" stop-color="#a8a8a8"/></radialGradient>
<linearGradient id="boxL" x1="0" y1="0" x2="1" y2="0.35">
 <stop offset="0" stop-color="#ababab"/><stop offset="0.5" stop-color="#a4a4a4"/><stop offset="1" stop-color="#a0a0a0"/></linearGradient>
<linearGradient id="boxR" x1="0" y1="0.3" x2="1" y2="0.6">
 <stop offset="0" stop-color="#9f9f9f"/><stop offset="0.6" stop-color="#989898"/><stop offset="1" stop-color="#8f8f8f"/></linearGradient>
</defs>
<g id="panelA">
<path d="M154.6,86.0 L323.8,77.2 M323.8,77.2 L322.9,227.8 M322.9,227.8 L155.8,236.5 M155.8,236.5 L154.6,86.0 M201.2,117.6 L376.3,108.4 M376.3,108.4 L376.2,264.6 M376.2,264.6 L202.2,276.4 M202.2,276.4 L201.2,117.6 M154.6,86.0 L201.2,117.6 M323.8,77.2 L376.3,108.4 M155.8,236.5 L202.2,276.4 M322.9,227.8 L376.2,264.6" stroke="#787470" stroke-width="1.0" fill="none"/>
<g transform="rotate(-1.6 154.6 86.0)">
<rect x="118.8" y="80.9" width="64.0" height="7.8" rx="1.3" fill="url(#sB)"/>
<ellipse cx="181.8" cy="84.8" rx="3.1" ry="12.4" fill="#2f4e62"/>
<path d="M181.8,72.4 L205.1,85.4 L181.8,97.2 Q185.1,84.8 181.8,72.4 Z" fill="url(#cB)"/>
<rect x="154.6" y="80.9" width="24.6" height="7.8" fill="url(#sB)"/>
</g>
<ellipse cx="154.6" cy="86.0" rx="18.4" ry="17.2" fill="url(#gB)"/>
<g transform="rotate(-1.6 323.8 77.2)">
<rect x="288.0" y="72.1" width="64.0" height="7.8" rx="1.3" fill="url(#sB)"/>
<ellipse cx="351.0" cy="76.0" rx="3.1" ry="12.4" fill="#2f4e62"/>
<path d="M351.0,63.6 L374.3,76.6 L351.0,88.4 Q354.3,76.0 351.0,63.6 Z" fill="url(#cB)"/>
<rect x="323.8" y="72.1" width="24.6" height="7.8" fill="url(#sB)"/>
</g>
<ellipse cx="323.8" cy="77.2" rx="18.4" ry="17.2" fill="url(#gB)"/>
<g transform="rotate(-1.6 155.8 236.5)">
<rect x="120.0" y="231.4" width="64.0" height="7.8" rx="1.3" fill="url(#sB)"/>
<ellipse cx="183.0" cy="235.3" rx="3.1" ry="12.4" fill="#2f4e62"/>
<path d="M183.0,222.9 L206.3,235.9 L183.0,247.7 Q186.3,235.3 183.0,222.9 Z" fill="url(#cB)"/>
<rect x="155.8" y="231.4" width="24.6" height="7.8" fill="url(#sB)"/>
</g>
<ellipse cx="155.8" cy="236.5" rx="18.4" ry="17.2" fill="url(#gB)"/>
<g transform="rotate(-1.6 322.9 227.8)">
<rect x="287.1" y="222.7" width="64.0" height="7.8" rx="1.3" fill="url(#sB)"/>
<ellipse cx="350.1" cy="226.6" rx="3.1" ry="12.4" fill="#2f4e62"/>
<path d="M350.1,214.2 L373.4,227.2 L350.1,239.0 Q353.4,226.6 350.1,214.2 Z" fill="url(#cB)"/>
<rect x="322.9" y="222.7" width="24.6" height="7.8" fill="url(#sB)"/>
</g>
<ellipse cx="322.9" cy="227.8" rx="18.4" ry="17.2" fill="url(#gB)"/>
<ellipse cx="240.0" cy="157.8" rx="18.0" ry="16.0" fill="url(#gG)"/><ellipse cx="240.0" cy="157.8" rx="18.0" ry="16.0" fill="url(#gGe)"/><ellipse cx="238.5" cy="148.0" rx="5.0" ry="2.2" fill="#fff" opacity="0.4"/>
<ellipse cx="264.0" cy="250.6" rx="18.0" ry="16.0" fill="url(#gG)"/><ellipse cx="264.0" cy="250.6" rx="18.0" ry="16.0" fill="url(#gGe)"/><ellipse cx="262.5" cy="240.8" rx="5.0" ry="2.2" fill="#fff" opacity="0.4"/>
<g transform="rotate(-2.8 177.6 179.8)">
<rect x="149.4" y="174.7" width="64.0" height="7.8" rx="1.3" fill="url(#sO)"/>
<ellipse cx="150.4" cy="178.6" rx="3.1" ry="12.4" fill="#cfa47e"/>
<path d="M150.4,166.2 L125.6,179.2 L150.4,191.0 Q147.1,178.6 150.4,166.2 Z" fill="url(#cO)"/>
<rect x="153.0" y="174.7" width="24.6" height="7.8" fill="url(#sO)"/>
</g>
<ellipse cx="177.6" cy="179.8" rx="18.4" ry="17.2" fill="url(#gO)"/>
<g transform="rotate(-2.8 350.9 169.2)">
<rect x="322.7" y="164.1" width="64.0" height="7.8" rx="1.3" fill="url(#sO)"/>
<ellipse cx="323.7" cy="168.0" rx="3.1" ry="12.4" fill="#cfa47e"/>
<path d="M323.7,155.6 L298.9,168.6 L323.7,180.4 Q320.4,168.0 323.7,155.6 Z" fill="url(#cO)"/>
<rect x="326.3" y="164.1" width="24.6" height="7.8" fill="url(#sO)"/>
</g>
<ellipse cx="350.9" cy="169.2" rx="18.4" ry="17.2" fill="url(#gO)"/>
<ellipse cx="288.5" cy="191.5" rx="18.4" ry="16.3" fill="url(#gG)"/><ellipse cx="288.5" cy="191.5" rx="18.4" ry="16.3" fill="url(#gGe)"/><ellipse cx="287.0" cy="181.5" rx="5.1" ry="2.2" fill="#fff" opacity="0.4"/>
<path d="M201.2,117.6 L202.2,276.4 M376.3,108.4 L376.2,264.6" stroke="#85817e" stroke-width="1.0" fill="none"/>
<g transform="rotate(-1.6 201.2 117.6)">
<rect x="164.1" y="112.3" width="66.2" height="8.1" rx="1.3" fill="url(#sB)"/>
<ellipse cx="229.4" cy="116.4" rx="3.2" ry="12.8" fill="#2f4e62"/>
<path d="M229.4,103.5 L253.5,117.0 L229.4,129.2 Q232.8,116.4 229.4,103.5 Z" fill="url(#cB)"/>
<rect x="201.2" y="112.3" width="25.5" height="8.1" fill="url(#sB)"/>
</g>
<ellipse cx="201.2" cy="117.6" rx="19.0" ry="17.8" fill="url(#gB)"/>
<g transform="rotate(-1.6 376.3 108.4)">
<rect x="339.2" y="103.1" width="66.2" height="8.1" rx="1.3" fill="url(#sB)"/>
<ellipse cx="404.5" cy="107.2" rx="3.2" ry="12.8" fill="#2f4e62"/>
<path d="M404.5,94.3 L428.6,107.8 L404.5,120.0 Q407.9,107.2 404.5,94.3 Z" fill="url(#cB)"/>
<rect x="376.3" y="103.1" width="25.5" height="8.1" fill="url(#sB)"/>
</g>
<ellipse cx="376.3" cy="108.4" rx="19.0" ry="17.8" fill="url(#gB)"/>
<g transform="rotate(-1.6 202.2 276.4)">
<rect x="165.1" y="271.1" width="66.2" height="8.1" rx="1.3" fill="url(#sB)"/>
<ellipse cx="230.4" cy="275.2" rx="3.2" ry="12.8" fill="#2f4e62"/>
<path d="M230.4,262.3 L254.5,275.8 L230.4,288.0 Q233.8,275.2 230.4,262.3 Z" fill="url(#cB)"/>
<rect x="202.2" y="271.1" width="25.5" height="8.1" fill="url(#sB)"/>
</g>
<ellipse cx="202.2" cy="276.4" rx="19.0" ry="17.8" fill="url(#gB)"/>
<g transform="rotate(-1.6 376.2 264.6)">
<rect x="339.1" y="259.3" width="66.2" height="8.1" rx="1.3" fill="url(#sB)"/>
<ellipse cx="404.4" cy="263.4" rx="3.2" ry="12.8" fill="#2f4e62"/>
<path d="M404.4,250.5 L428.5,264.0 L404.4,276.2 Q407.8,263.4 404.4,250.5 Z" fill="url(#cB)"/>
<rect x="376.2" y="259.3" width="25.5" height="8.1" fill="url(#sB)"/>
</g>
<ellipse cx="376.2" cy="264.6" rx="19.0" ry="17.8" fill="url(#gB)"/>
<g stroke="#3c3c3c" stroke-width="2.9" fill="none" stroke-linecap="butt">
<path d="M35.7,246.6 L35.4,215"/><path d="M34.6,245.6 L71,243.6"/><path d="M36,245.5 L43,252"/></g>
<g fill="#3c3c3c"><path d="M35.3,208.3 L31.1,215.8 L39.6,215.8 Z"/><path d="M78.4,243.3 L70.2,239.7 L70.5,247.3 Z"/><ellipse cx="43.6" cy="252.9" rx="4.2" ry="3.7"/></g>
<g font-family='"Liberation Sans", Arial, Helvetica, sans-serif' font-size="11.3" fill="#5a5a5a">
<text x="27.2" y="199.9">[001]</text><text x="80.8" y="244.4">[010]</text><text x="47.6" y="266.2">[100]</text></g>
</g>
<g id="chart" font-family='"Liberation Sans", Arial, Helvetica, sans-serif' fill="#000" stroke="#000" stroke-width="0.45">
<line x1="168" y1="578" x2="1016" y2="578" stroke="#a6a6a6" stroke-width="1.3" stroke-dasharray="1.6 4.1"/>
<clipPath id="cp"><rect x="168" y="366.5" width="848.5" height="423"/></clipPath>
<g clip-path="url(#cp)" fill="none" stroke-width="2.75" stroke-linejoin="round" stroke-linecap="butt">
<path d="M205.0,569.9 L205.5,570.0 L206.0,570.1 L206.5,570.2 L207.0,570.3 L207.5,570.4 L208.0,570.6 L208.5,570.7 L209.0,570.9 L209.5,571.1 L210.0,571.3 L210.5,571.5 L211.0,571.7 L211.5,572.0 L212.0,572.2 L212.5,572.5 L213.0,572.8 L213.5,573.0 L214.0,573.3 L214.5,573.6 L215.0,573.9 L215.5,574.2 L216.0,574.6 L216.5,574.9 L217.0,575.2 L217.5,575.6 L218.0,575.9 L218.5,576.3 L219.0,576.6 L219.5,577.0 L220.0,577.4 L220.5,577.7 L221.0,578.1 L221.5,578.5 L222.0,578.8 L222.5,579.2 L223.0,579.5 L223.5,579.9 L224.0,580.3 L224.5,580.6 L225.0,581.0 L225.5,581.3 L226.0,581.6 L226.5,582.0 L227.0,582.3 L227.5,582.6 L228.0,582.9 L228.5,583.2 L229.0,583.5 L229.5,583.8 L230.0,584.1 L230.5,584.3 L231.0,584.6 L231.5,584.8 L232.0,585.0 L232.5,585.3 L233.0,585.5 L233.5,585.6 L234.0,585.8 L234.5,586.0 L235.0,586.1 L235.5,586.3 L236.0,586.4 L236.5,586.5 L237.0,586.6 L237.5,586.6 L238.0,586.7 L238.5,586.7 L239.0,586.7 L239.5,586.8 L240.0,586.7 L240.5,586.7 L241.0,586.6 L241.5,586.6 L242.0,586.5 L242.5,586.3 L243.0,586.2 L243.5,586.0 L244.0,585.8 L244.5,585.6 L245.0,585.3 L245.5,585.1 L246.1,584.8 L246.6,584.5 L247.1,584.2 L247.6,583.9 L248.1,583.5 L248.6,583.1 L249.1,582.8 L249.6,582.4 L250.1,582.0 L250.6,581.5 L251.1,581.1 L251.6,580.7 L252.1,580.2 L252.6,579.7 L253.1,579.3 L253.6,578.8 L254.1,578.3 L254.6,577.8 L255.1,577.4 L255.6,576.9 L256.1,576.4 L256.6,575.9 L257.1,575.4 L257.6,574.9 L258.1,574.5 L258.6,574.0 L259.2,573.5 L259.7,573.1 L260.2,572.7 L260.7,572.2 L261.2,571.8 L261.7,571.4 L262.2,571.0 L262.7,570.6 L263.2,570.2 L263.7,569.9 L264.2,569.6 L264.7,569.2 L265.2,568.9 L265.7,568.7 L266.2,568.4 L266.7,568.2 L267.2,567.9 L267.7,567.8 L268.2,567.6 L268.7,567.4 L269.2,567.3 L269.7,567.2 L270.2,567.1 L270.7,567.0 L271.2,567.0 L271.8,567.0 L272.2,567.0 L272.8,567.1 L273.2,567.1 L273.8,567.2 L274.2,567.3 L274.8,567.4 L275.2,567.6 L275.8,567.8 L276.2,568.0 L276.8,568.2 L277.2,568.5 L277.8,568.8 L278.2,569.1 L278.8,569.4 L279.2,569.7 L279.8,570.1 L280.2,570.5 L280.8,570.8 L281.2,571.3 L281.8,571.7 L282.2,572.1 L282.8,572.6 L283.2,573.1 L283.8,573.5 L284.2,574.0 L284.8,574.5 L285.2,575.1 L285.8,575.6 L286.2,576.1 L286.8,576.7 L287.2,577.2 L287.8,577.7 L288.2,578.3 L288.8,578.8 L289.2,579.4 L289.8,580.0 L290.2,580.5 L290.8,581.0 L291.2,581.6 L291.8,582.1 L292.2,582.7 L292.8,583.2 L293.2,583.7 L293.8,584.2 L294.2,584.7 L294.8,585.2 L295.2,585.7 L295.8,586.1 L296.2,586.6 L296.8,587.0 L297.2,587.4 L297.8,587.8 L298.2,588.2 L298.8,588.5 L299.2,588.9 L299.8,589.2 L300.2,589.5 L300.8,589.8 L301.2,590.0 L301.8,590.2 L302.2,590.5 L302.8,590.6 L303.2,590.8 L303.8,590.9 L304.2,591.0 L304.8,591.1 L305.2,591.2 L305.8,591.2 L306.2,591.2 L306.8,591.2 L307.2,591.2 L307.8,591.1 L308.2,591.0 L308.8,590.8 L309.2,590.6 L309.8,590.4 L310.2,590.1 L310.8,589.8 L311.2,589.5 L311.8,589.1 L312.2,588.8 L312.8,588.3 L313.2,587.9 L313.8,587.4 L314.2,586.9 L314.8,586.4 L315.2,585.8 L315.8,585.3 L316.2,584.7 L316.8,584.0 L317.2,583.4 L317.8,582.8 L318.2,582.1 L318.8,581.4 L319.2,580.7 L319.8,580.0 L320.2,579.3 L320.8,578.6 L321.2,577.8 L321.8,577.1 L322.2,576.4 L322.8,575.6 L323.2,574.9 L323.8,574.2 L324.2,573.4 L324.8,572.7 L325.2,572.0 L325.8,571.3 L326.2,570.6 L326.8,569.9 L327.2,569.2 L327.8,568.6 L328.2,568.0 L328.8,567.3 L329.2,566.7 L329.8,566.2 L330.2,565.6 L330.8,565.1 L331.2,564.6 L331.8,564.1 L332.2,563.7 L332.8,563.2 L333.2,562.9 L333.8,562.5 L334.2,562.2 L334.8,561.9 L335.2,561.6 L335.8,561.4 L336.2,561.2 L336.8,561.0 L337.2,560.9 L337.8,560.8 L338.2,560.8 L338.8,560.8 L339.3,560.8 L339.8,560.8 L340.3,560.9 L340.8,561.1 L341.3,561.3 L341.8,561.5 L342.3,561.8 L342.8,562.1 L343.3,562.4 L343.8,562.8 L344.3,563.2 L344.8,563.7 L345.3,564.2 L345.8,564.7 L346.3,565.3 L346.8,565.9 L347.3,566.5 L347.8,567.1 L348.3,567.8 L348.8,568.5 L349.3,569.2 L349.8,570.0 L350.3,570.8 L350.8,571.6 L351.3,572.4 L351.8,573.2 L352.4,574.0 L352.9,574.9 L353.4,575.8 L353.9,576.6 L354.4,577.5 L354.9,578.4 L355.4,579.3 L355.9,580.2 L356.4,581.1 L356.9,582.0 L357.4,582.9 L357.9,583.7 L358.4,584.6 L358.9,585.5 L359.4,586.3 L359.9,587.1 L360.4,587.9 L360.9,588.7 L361.4,589.5 L361.9,590.3 L362.4,591.0 L362.9,591.7 L363.4,592.4 L363.9,593.0 L364.4,593.6 L364.9,594.2 L365.4,594.8 L366.0,595.3 L366.5,595.8 L367.0,596.3 L367.5,596.7 L368.0,597.1 L368.5,597.4 L369.0,597.7 L369.5,598.0 L370.0,598.2 L370.5,598.4 L371.0,598.6 L371.5,598.7 L372.0,598.7 L372.5,598.8 L373.0,598.7 L373.5,598.6 L374.0,598.5 L374.5,598.3 L375.0,598.1 L375.5,597.8 L376.0,597.5 L376.5,597.1 L377.0,596.7 L377.5,596.2 L378.0,595.7 L378.5,595.1 L379.0,594.5 L379.6,593.9 L380.1,593.2 L380.6,592.5 L381.1,591.7 L381.6,590.9 L382.1,590.1 L382.6,589.2 L383.1,588.3 L383.6,587.4 L384.1,586.4 L384.6,585.4 L385.1,584.4 L385.6,583.4 L386.1,582.4 L386.6,581.3 L387.1,580.3 L387.6,579.2 L388.1,578.1 L388.6,577.0 L389.1,575.9 L389.6,574.8 L390.1,573.7 L390.6,572.6 L391.1,571.6 L391.6,570.5 L392.1,569.4 L392.6,568.4 L393.2,567.3 L393.7,566.3 L394.2,565.3 L394.7,564.3 L395.2,563.4 L395.7,562.4 L396.2,561.5 L396.7,560.7 L397.2,559.8 L397.7,559.0 L398.2,558.3 L398.7,557.5 L399.2,556.9 L399.7,556.2 L400.2,555.6 L400.7,555.0 L401.2,554.5 L401.7,554.1 L402.2,553.6 L402.7,553.2 L403.2,552.9 L403.7,552.6 L404.2,552.4 L404.7,552.2 L405.2,552.1 L405.7,552.0 L406.2,552.0 L406.8,552.0 L407.3,552.1 L407.8,552.3 L408.3,552.5 L408.8,552.8 L409.3,553.1 L409.8,553.5 L410.3,554.0 L410.8,554.5 L411.3,555.0 L411.8,555.7 L412.3,556.3 L412.8,557.1 L413.3,557.9 L413.8,558.7 L414.3,559.6 L414.8,560.5 L415.3,561.5 L415.8,562.5 L416.3,563.5 L416.8,564.6 L417.3,565.7 L417.8,566.9 L418.3,568.1 L418.8,569.3 L419.3,570.5 L419.8,571.8 L420.4,573.1 L420.9,574.4 L421.4,575.7 L421.9,577.0 L422.4,578.3 L422.9,579.7 L423.4,581.0 L423.9,582.3 L424.4,583.7 L424.9,585.0 L425.4,586.3 L425.9,587.6 L426.4,588.9 L426.9,590.2 L427.4,591.5 L427.9,592.7 L428.4,593.9 L428.9,595.1 L429.4,596.3 L429.9,597.4 L430.4,598.5 L430.9,599.5 L431.4,600.5 L431.9,601.5 L432.4,602.4 L432.9,603.3 L433.4,604.1 L434.0,604.9 L434.5,605.7 L435.0,606.3 L435.5,607.0 L436.0,607.5 L436.5,608.0 L437.0,608.5 L437.5,608.9 L438.0,609.2 L438.5,609.5 L439.0,609.7 L439.5,609.9 L440.0,610.0 L440.5,610.0 L441.0,610.0 L441.5,609.8 L442.0,609.7 L442.5,609.4 L443.0,609.1 L443.5,608.6 L444.0,608.2 L444.5,607.6 L445.0,607.0 L445.5,606.3 L446.0,605.5 L446.5,604.7 L447.0,603.8 L447.5,602.8 L448.0,601.8 L448.5,600.7 L449.0,599.6 L449.5,598.4 L450.0,597.1 L450.5,595.8 L451.0,594.5 L451.5,593.1 L452.0,591.7 L452.5,590.2 L453.0,588.7 L453.5,587.2 L454.0,585.6 L454.5,584.1 L455.0,582.5 L455.5,580.8 L456.0,579.2 L456.5,577.5 L457.0,575.9 L457.5,574.2 L458.0,572.5 L458.5,570.9 L459.0,569.2 L459.5,567.6 L460.0,565.9 L460.5,564.3 L461.0,562.7 L461.5,561.1 L462.0,559.6 L462.5,558.0 L463.0,556.5 L463.5,555.1 L464.0,553.6 L464.5,552.3 L465.0,550.9 L465.5,549.6 L466.0,548.4 L466.5,547.2 L467.0,546.0 L467.5,545.0 L468.0,543.9 L468.5,543.0 L469.0,542.1 L469.5,541.2 L470.0,540.5 L470.5,539.8 L471.0,539.2 L471.5,538.6 L472.0,538.1 L472.5,537.7 L473.0,537.4 L473.5,537.1 L474.0,536.9 L474.5,536.8 L475.0,536.8 L475.5,536.8 L476.0,537.0 L476.5,537.2 L477.0,537.6 L477.5,538.0 L478.0,538.6 L478.5,539.2 L479.0,539.9 L479.5,540.8 L480.0,541.7 L480.5,542.7 L481.0,543.8 L481.5,545.0 L482.1,546.3 L482.6,547.7 L483.1,549.1 L483.6,550.6 L484.1,552.2 L484.6,553.8 L485.1,555.5 L485.6,557.3 L486.1,559.1 L486.6,561.0 L487.1,562.9 L487.6,564.9 L488.1,566.9 L488.6,568.9 L489.1,571.0 L489.6,573.1 L490.1,575.2 L490.6,577.4 L491.1,579.5 L491.6,581.7 L492.1,583.8 L492.6,586.0 L493.1,588.1 L493.6,590.3 L494.1,592.4 L494.6,594.5 L495.1,596.6 L495.7,598.6 L496.2,600.6 L496.7,602.6 L497.2,604.5 L497.7,606.4 L498.2,608.2 L498.7,610.0 L499.2,611.7 L499.7,613.3 L500.2,614.9 L500.7,616.4 L501.2,617.8 L501.7,619.2 L502.2,620.5 L502.7,621.7 L503.2,622.8 L503.7,623.8 L504.2,624.7 L504.7,625.6 L505.2,626.3 L505.7,626.9 L506.2,627.5 L506.7,627.9 L507.2,628.3 L507.7,628.5 L508.2,628.7 L508.8,628.8 L509.2,628.7 L509.8,628.5 L510.2,628.2 L510.8,627.8 L511.2,627.3 L511.8,626.7 L512.2,625.9 L512.8,625.0 L513.2,624.1 L513.8,623.0 L514.2,621.8 L514.8,620.5 L515.2,619.1 L515.8,617.6 L516.2,616.1 L516.8,614.4 L517.2,612.6 L517.8,610.8 L518.2,608.9 L518.8,606.9 L519.2,604.8 L519.8,602.6 L520.2,600.4 L520.8,598.2 L521.2,595.8 L521.8,593.5 L522.2,591.0 L522.8,588.6 L523.2,586.1 L523.8,583.6 L524.2,581.0 L524.8,578.4 L525.2,575.8 L525.8,573.2 L526.2,570.6 L526.8,568.0 L527.2,565.4 L527.8,562.8 L528.2,560.2 L528.8,557.7 L529.2,555.2 L529.8,552.7 L530.2,550.2 L530.8,547.8 L531.2,545.4 L531.8,543.1 L532.2,540.8 L532.8,538.6 L533.2,536.5 L533.8,534.4 L534.2,532.4 L534.8,530.5 L535.2,528.6 L535.8,526.9 L536.2,525.2 L536.8,523.6 L537.2,522.1 L537.8,520.7 L538.2,519.4 L538.8,518.3 L539.2,517.2 L539.8,516.2 L540.2,515.3 L540.8,514.6 L541.2,514.0 L541.8,513.4 L542.2,513.0 L542.8,512.7 L543.2,512.6 L543.8,512.5 L544.3,512.6 L544.8,512.8 L545.3,513.1 L545.8,513.6 L546.3,514.3 L546.8,515.1 L547.3,516.0 L547.8,517.0 L548.3,518.2 L548.8,519.6 L549.3,521.0 L549.8,522.6 L550.3,524.3 L550.8,526.1 L551.3,528.1 L551.8,530.1 L552.3,532.3 L552.8,534.5 L553.3,536.9 L553.8,539.4 L554.3,541.9 L554.8,544.6 L555.3,547.3 L555.8,550.1 L556.3,553.0 L556.8,555.9 L557.3,559.0 L557.8,562.0 L558.4,565.1 L558.9,568.3 L559.4,571.5 L559.9,574.7 L560.4,577.9 L560.9,581.2 L561.4,584.5 L561.9,587.8 L562.4,591.0 L562.9,594.3 L563.4,597.6 L563.9,600.8 L564.4,604.0 L564.9,607.2 L565.4,610.4 L565.9,613.5 L566.4,616.5 L566.9,619.6 L567.4,622.5 L567.9,625.4 L568.4,628.2 L568.9,630.9 L569.4,633.6 L569.9,636.1 L570.4,638.6 L570.9,641.0 L571.4,643.2 L571.9,645.4 L572.4,647.4 L573.0,649.4 L573.5,651.2 L574.0,652.9 L574.5,654.5 L575.0,655.9 L575.5,657.3 L576.0,658.5 L576.5,659.5 L577.0,660.4 L577.5,661.2 L578.0,661.9 L578.5,662.4 L579.0,662.7 L579.5,662.9 L580.0,663.0 L580.5,662.9 L581.0,662.7 L581.5,662.2 L582.0,661.7 L582.5,660.9 L583.0,660.0 L583.5,658.9 L584.0,657.6 L584.5,656.2 L585.0,654.7 L585.5,652.9 L586.0,651.1 L586.5,649.1 L587.0,646.9 L587.5,644.6 L588.1,642.1 L588.6,639.5 L589.1,636.8 L589.6,634.0 L590.1,631.0 L590.6,628.0 L591.1,624.8 L591.6,621.5 L592.1,618.1 L592.6,614.6 L593.1,611.0 L593.6,607.4 L594.1,603.7 L594.6,599.9 L595.1,596.0 L595.6,592.1 L596.1,588.1 L596.6,584.1 L597.1,580.0 L597.6,575.9 L598.1,571.8 L598.6,567.7 L599.1,563.6 L599.6,559.4 L600.1,555.3 L600.6,551.2 L601.1,547.1 L601.6,543.0 L602.1,538.9 L602.6,534.9 L603.1,530.9 L603.7,527.0 L604.2,523.1 L604.7,519.3 L605.2,515.6 L605.7,512.0 L606.2,508.4 L606.7,504.9 L607.2,501.5 L607.7,498.2 L608.2,495.0 L608.7,492.0 L609.2,489.0 L609.7,486.2 L610.2,483.5 L610.7,480.9 L611.2,478.4 L611.7,476.1 L612.2,473.9 L612.7,471.9 L613.2,470.1 L613.7,468.3 L614.2,466.8 L614.7,465.4 L615.2,464.1 L615.7,463.0 L616.2,462.1 L616.7,461.3 L617.2,460.8 L617.7,460.3 L618.2,460.1 L618.8,460.0 L619.2,460.1 L619.8,460.5 L620.2,461.1 L620.8,461.9 L621.2,462.9 L621.8,464.0 L622.2,465.2 L622.8,466.5 L623.2,467.9 L623.8,469.3 L624.2,470.8 L624.8,472.6 L625.2,474.9 L625.8,477.5 L626.2,480.4 L626.8,483.6 L627.2,487.0 L627.8,490.5 L628.2,494.2 L628.8,498.0 L629.2,501.9 L629.8,505.7 L630.2,509.5 L630.8,513.2 L631.2,516.8 L631.8,520.5 L632.2,524.2 L632.8,528.0 L633.2,531.8 L633.8,535.7 L634.2,539.7 L634.8,543.7 L635.2,547.8 L635.8,552.0 L636.2,556.2 L636.8,560.4 L637.2,564.8 L637.8,569.1 L638.2,573.5 L638.8,578.0 L639.2,582.6 L639.8,587.4 L640.2,592.3 L640.8,597.3 L641.2,602.4 L641.8,607.6 L642.2,612.8 L642.8,618.0 L643.2,623.1 L643.8,628.1 L644.2,633.0 L644.8,637.7 L645.2,642.3 L645.8,646.8 L646.2,651.3 L646.8,655.9 L647.2,660.3 L647.8,664.8 L648.2,669.1 L648.8,673.5 L649.2,677.7 L649.8,681.8 L650.2,685.9 L650.8,689.8 L651.2,693.6 L651.8,697.3 L652.2,700.8 L652.8,704.2 L653.2,707.4 L653.8,710.6 L654.2,713.7 L654.8,716.7 L655.2,719.6 L655.8,722.4 L656.2,725.1 L656.8,727.8 L657.2,730.3 L657.8,732.8 L658.2,735.2 L658.8,737.5 L659.2,739.8 L659.8,742.0 L660.2,744.1 L660.8,746.1 L661.2,748.1 L661.8,749.9 L662.2,751.7 L662.8,753.3 L663.2,754.9 L663.8,756.4 L664.2,757.9 L664.8,759.3 L665.2,760.6 L665.8,761.8 L666.2,762.8 L666.8,763.8 L667.2,764.6 L667.8,765.5 L668.2,766.2 L668.8,766.9 L669.2,767.5 L669.8,768.0 L670.2,768.4 L670.8,768.7 L671.2,769.0 L671.8,769.3 L672.2,769.5 L672.8,769.6 L673.2,769.6 L673.8,769.6 L674.2,769.5 L674.8,769.4 L675.2,769.2 L675.8,769.1 L676.2,768.9 L676.8,768.8 L677.2,768.6 L677.8,768.5 L678.2,768.3 L678.8,768.1 L679.2,767.9 L679.8,767.6 L680.2,767.4 L680.8,767.2 L681.2,767.0 L681.8,766.7 L682.2,766.5 L682.8,766.3 L683.2,766.0 L683.8,765.8 L684.2,765.6 L684.8,765.3 L685.2,765.1 L685.8,764.8 L686.2,764.5 L686.8,764.2 L687.2,763.9 L687.8,763.6 L688.2,763.2 L688.8,762.8 L689.2,762.3 L689.8,761.8 L690.2,761.3 L690.8,760.8 L691.2,760.2 L691.8,759.6 L692.2,759.0 L692.8,758.3 L693.2,757.7 L693.8,757.0 L694.2,756.3 L694.8,755.5 L695.2,754.6 L695.8,753.6 L696.2,752.5 L696.8,751.0 L697.2,749.2 L697.8,747.0 L698.2,744.6 L698.8,742.0 L699.2,739.4 L699.8,736.6 L700.2,733.5 L700.8,730.1 L701.2,726.5 L701.8,722.8 L702.2,719.2 L702.8,715.8 L703.2,712.4 L703.8,708.9 L704.2,705.5 L704.8,702.1 L705.2,698.6 L705.8,695.2 L706.2,691.7 L706.8,688.2 L707.2,684.7 L707.8,681.3 L708.2,677.8 L708.8,674.4 L709.2,670.9 L709.8,667.5 L710.2,664.0 L710.8,660.5 L711.2,656.9 L711.8,653.2 L712.2,649.4 L712.8,645.5 L713.2,641.4 L713.8,637.1 L714.2,632.8 L714.8,628.3 L715.2,623.9 L715.8,619.5 L716.2,615.1 L716.8,610.8 L717.2,606.3 L717.8,601.6 L718.2,596.9 L718.8,592.3 L719.2,588.0 L719.8,584.0 L720.2,580.7 L720.8,578.0 L721.2,575.8 L721.8,573.7 L722.2,571.8 L722.8,570.0 L723.2,568.4 L723.8,566.9 L724.2,565.5 L724.8,564.3 L725.2,563.3 L725.8,562.4 L726.2,561.6 L726.8,560.9 L727.2,560.2 L727.8,559.6 L728.2,558.9 L728.8,558.3 L729.2,557.8 L729.8,557.2 L730.2,556.7 L730.8,556.3 L731.2,555.9 L731.8,555.6 L732.2,555.3 L732.8,555.2 L733.2,555.0 L733.8,555.0 L734.2,555.0 L734.8,555.1 L735.2,555.3 L735.8,555.5 L736.2,555.8 L736.8,556.2 L737.2,556.5 L737.8,556.9 L738.2,557.4 L738.8,557.8 L739.2,558.3 L739.8,558.8 L740.2,559.3 L740.8,559.8 L741.2,560.3 L741.8,560.8 L742.2,561.2 L742.8,561.8 L743.2,562.3 L743.8,562.9 L744.2,563.6 L744.8,564.2 L745.2,564.9 L745.8,565.6 L746.2,566.3 L746.8,567.0 L747.2,567.7 L747.8,568.4 L748.2,569.1 L748.8,569.7 L749.2,570.3 L749.8,570.9 L750.2,571.6 L750.8,572.2 L751.2,572.9 L751.8,573.5 L752.2,574.2 L752.8,574.8 L753.2,575.4 L753.8,576.0 L754.2,576.5 L754.8,577.0 L755.2,577.4 L755.8,577.7 L756.2,578.0 L756.8,578.2 L757.2,578.5 L757.8,578.7 L758.2,578.9 L758.8,579.0 L759.2,579.2 L759.8,579.4 L760.2,579.5 L760.8,579.7 L761.2,579.8 L761.8,579.9 L762.2,580.0 L762.8,580.1 L763.2,580.2 L763.8,580.3 L764.2,580.3 L764.8,580.4 L765.2,580.4 L765.8,580.5 L766.2,580.5 L766.8,580.6 L767.2,580.6 L767.8,580.6 L768.2,580.7 L768.8,580.7 L769.2,580.7 L769.8,580.7 L770.2,580.7 L770.8,580.7 L771.2,580.8 L771.8,580.7 L772.2,580.7 L772.8,580.7 L773.2,580.7 L773.8,580.6 L774.2,580.6 L774.8,580.5 L775.2,580.4 L775.8,580.4 L776.2,580.3 L776.8,580.2 L777.2,580.1 L777.8,580.0 L778.2,579.9 L778.8,579.9 L779.2,579.8 L779.8,579.7 L780.2,579.6 L780.8,579.5 L781.2,579.5 L781.8,579.4 L782.2,579.3 L782.8,579.2 L783.2,579.1 L783.8,579.0 L784.2,578.9 L784.8,578.8 L785.2,578.7 L785.8,578.6 L786.2,578.5 L786.8,578.5 L787.2,578.4 L787.8,578.3 L788.2,578.2 L788.8,578.1 L789.2,578.1 L789.8,578.0 L790.2,578.0 L790.8,577.9 L791.2,577.9 L791.8,577.9 L792.2,577.8 L792.8,577.8 L793.2,577.7 L793.8,577.7 L794.2,577.7 L794.8,577.6 L795.2,577.6 L795.8,577.6 L796.2,577.6 L796.8,577.5 L797.2,577.5 L797.8,577.5 L798.2,577.5 L798.8,577.4 L799.2,577.4 L799.8,577.4 L800.2,577.4 L800.8,577.4 L801.2,577.4 L801.8,577.3 L802.2,577.3 L802.8,577.3 L803.2,577.3 L803.8,577.3 L804.2,577.3 L804.8,577.3 L805.2,577.3 L805.8,577.2 L806.2,577.2 L806.8,577.2 L807.2,577.2 L807.8,577.2 L808.2,577.2 L808.8,577.2 L809.2,577.2 L809.8,577.2 L810.2,577.2 L810.8,577.2 L811.2,577.2 L811.8,577.2 L812.2,577.2 L812.8,577.2 L813.2,577.3 L813.8,577.3 L814.2,577.3 L814.8,577.3 L815.2,577.3 L815.8,577.4 L816.2,577.4 L816.8,577.4 L817.2,577.4 L817.8,577.5 L818.2,577.5 L818.8,577.5 L819.2,577.6 L819.8,577.6 L820.2,577.6 L820.8,577.6 L821.2,577.7 L821.8,577.7 L822.2,577.7 L822.8,577.7 L823.2,577.8 L823.8,577.8 L824.2,577.8 L824.8,577.8 L825.2,577.8 L825.8,577.8 L826.2,577.8 L826.8,577.8 L827.2,577.8 L827.8,577.9 L828.2,577.9 L828.8,577.9 L829.2,577.9 L829.8,577.9 L830.2,577.9 L830.8,577.9 L831.2,577.9 L831.8,577.9 L832.2,577.9 L832.8,577.9 L833.2,577.9 L833.8,578.0 L834.2,578.0 L834.8,578.0 L835.2,578.0 L835.8,578.0 L836.2,578.0 L836.8,578.0 L837.2,578.0 L837.8,578.0 L838.2,578.0 L838.8,578.0 L839.2,578.0 L839.8,578.0 L840.2,578.0 L840.8,578.0 L841.2,578.0 L841.8,578.0 L842.2,578.0 L842.8,578.0 L843.2,578.0 L843.8,578.0 L844.2,578.0 L844.8,578.0 L845.2,578.0 L845.8,578.0 L846.2,578.0 L846.8,578.0 L847.2,578.0 L847.8,578.0 L848.2,578.0 L848.8,578.0 L849.2,578.0 L849.8,578.0 L850.2,578.0 L850.8,578.0 L851.2,578.0 L851.8,578.0 L852.2,578.0 L852.8,578.0 L853.2,578.0 L853.8,578.0 L854.2,578.0 L854.8,578.0 L855.2,578.0 L855.8,578.0 L856.2,578.0 L856.8,578.0 L857.2,578.0 L857.8,578.0 L858.2,578.0 L858.8,578.0 L859.2,578.0 L859.8,578.0 L860.2,578.0 L860.8,578.0 L861.2,578.0 L861.8,578.0 L862.2,578.0 L862.8,578.0 L863.2,578.0 L863.8,578.0 L864.2,578.0 L864.8,578.0 L865.2,578.0 L865.8,578.0 L866.2,578.0 L866.8,578.0 L867.2,578.0 L867.8,578.0 L868.2,578.0 L868.8,578.0 L869.2,578.0 L869.8,578.0 L870.2,578.0 L870.8,578.0 L871.2,578.0 L871.8,578.0 L872.2,578.0 L872.8,578.0 L873.2,578.0 L873.8,578.0 L874.2,578.0 L874.8,578.0 L875.2,578.0 L875.8,578.0 L876.2,578.0 L876.8,578.0 L877.2,578.0 L877.8,578.0 L878.2,578.0 L878.8,578.0 L879.2,578.0 L879.8,578.0 L880.2,578.0 L880.8,578.0 L881.2,578.0 L881.8,578.0 L882.2,578.0 L882.8,578.0 L883.2,578.0 L883.8,578.0 L884.2,578.0 L884.8,578.0 L885.2,578.0 L885.8,578.0 L886.2,578.0 L886.8,578.0 L887.2,578.0 L887.8,578.0 L888.2,578.0 L888.8,578.0 L889.2,578.0 L889.8,578.0 L890.2,578.0 L890.8,578.0 L891.2,578.0 L891.8,578.0 L892.2,578.0 L892.8,578.0 L893.2,578.0 L893.8,578.0 L894.2,578.0 L894.8,578.0 L895.2,578.0 L895.8,578.0 L896.2,578.0 L896.8,578.0 L897.2,578.0 L897.8,578.0 L898.2,578.0 L898.8,578.0 L899.2,578.0 L899.8,578.0 L900.2,578.0 L900.8,578.0 L901.2,578.0 L901.8,578.0 L902.2,578.0 L902.8,578.0 L903.2,578.0 L903.8,578.0 L904.2,578.0 L904.8,578.0 L905.2,578.0 L905.8,578.0 L906.2,578.0 L906.8,578.0 L907.2,578.0 L907.8,578.0 L908.2,578.0 L908.8,578.0 L909.2,578.0 L909.8,578.0 L910.2,578.0 L910.8,578.0 L911.2,578.0 L911.8,578.0 L912.2,578.0 L912.8,578.0 L913.2,578.0 L913.8,578.0 L914.2,578.0 L914.8,578.0 L915.2,578.0 L915.8,578.0 L916.2,578.0 L916.8,578.0 L917.2,578.0 L917.8,578.0 L918.2,578.0 L918.8,578.0 L919.2,578.0 L919.8,578.0 L920.2,578.0 L920.8,578.0 L921.2,578.0 L921.8,578.0 L922.2,578.0 L922.8,578.0 L923.2,578.0 L923.8,578.0 L924.2,578.0 L924.8,578.0 L925.2,578.0 L925.8,578.0 L926.2,578.0 L926.8,578.0 L927.2,578.0 L927.8,578.0 L928.2,578.0 L928.8,578.0 L929.2,578.0 L929.8,578.0 L930.2,578.0 L930.8,578.0 L931.2,578.0 L931.8,578.0 L932.2,578.0 L932.8,578.0 L933.2,578.0 L933.8,578.0 L934.2,578.0 L934.8,578.0 L935.2,578.0 L935.8,578.0 L936.2,578.0 L936.8,578.0 L937.2,578.0 L937.8,578.0 L938.2,578.0 L938.8,578.0 L939.2,578.0 L939.8,578.0 L940.2,578.0 L940.8,578.0 L941.2,578.0 L941.8,578.0 L942.2,578.0 L942.8,578.0 L943.2,578.0 L943.8,578.0 L944.2,578.0 L944.8,578.0 L945.2,578.0 L945.8,578.0 L946.2,578.0 L946.8,578.0 L947.2,578.0 L947.8,578.0 L948.2,578.0 L948.8,578.0 L949.2,578.0 L949.8,578.0 L950.2,578.0 L950.8,578.0 L951.2,578.0 L951.8,578.0 L952.2,578.0 L952.8,578.0 L953.2,578.0 L953.8,578.0 L954.2,578.0 L954.8,578.0 L955.2,578.0 L955.8,578.0 L956.2,578.0 L956.8,578.0 L957.2,578.0 L957.8,578.0 L958.2,578.0 L958.8,578.0 L959.2,578.0 L959.8,578.0 L960.2,578.0 L960.8,578.0 L961.2,578.0 L961.8,578.0 L962.2,578.0 L962.8,578.0 L963.2,578.0 L963.8,578.0 L964.2,578.0 L964.8,578.0 L965.2,578.0 L965.8,578.0 L966.2,578.0 L966.8,578.0 L967.2,578.0 L967.8,578.0 L968.2,578.0 L968.8,578.0 L969.2,578.0 L969.8,578.0 L970.2,578.0 L970.8,578.0 L971.2,578.0 L971.8,578.0 L972.2,578.0 L972.8,578.0 L973.2,578.0 L973.8,578.0 L974.2,578.0 L974.8,578.0 L975.2,578.0 L975.8,578.0 L976.2,578.0 L976.8,578.0 L977.2,578.0 L977.8,578.0 L978.2,578.0 L978.8,578.0 L979.2,578.0 L979.8,578.0 L980.2,578.0 L980.8,578.0 L981.2,578.0 L981.8,578.0 L982.2,578.0 L982.8,578.0 L983.2,578.0 L983.8,578.0 L984.2,578.0 L984.8,578.0 L985.2,578.0 L985.8,578.0 L986.2,578.0 L986.8,578.0 L987.2,578.0 L987.8,578.0 L988.2,578.0 L988.8,578.0 L989.2,578.0 L989.8,578.0 L990.2,578.0 L990.8,578.0 L991.2,578.0 L991.8,578.0 L992.2,578.0 L992.8,578.0 L993.2,578.0 L993.8,578.0 L994.2,578.0 L994.8,578.0 L995.2,578.0 L995.8,578.0 L996.2,578.0 L996.8,578.0 L997.2,578.0 L997.8,578.0 L998.2,578.0 L998.8,578.0 L999.2,578.0 L999.8,578.0 L1000.2,578.0 L1000.8,578.0 L1001.2,578.0 L1001.8,578.0 L1002.2,578.0 L1002.8,578.0 L1003.2,578.0 L1003.8,578.0 L1004.2,578.0 L1004.8,578.0 L1005.2,578.0 L1005.8,578.0 L1006.2,578.0 L1006.8,578.0 L1007.2,578.0 L1007.8,578.0 L1008.2,578.0 L1008.8,578.0 L1009.2,578.0 L1009.8,578.0 L1010.2,578.0 L1010.8,578.0 L1011.2,578.0 L1011.8,578.0 L1012.2,578.0 L1012.8,578.0 L1013.2,578.0 L1013.8,578.0 L1014.2,578.0 L1014.8,578.0 L1015.2,578.0 L1015.8,578.0 L1016.2,578.0 L1016.8,578.0" stroke="#24394d"/>
<path d="M205.0,375.9 L205.5,375.9 L206.0,375.9 L206.5,375.9 L207.0,375.9 L207.5,375.9 L208.0,375.9 L208.5,375.9 L209.0,375.9 L209.5,375.9 L210.0,375.9 L210.5,375.9 L211.0,375.9 L211.5,375.9 L212.0,375.9 L212.5,375.9 L213.0,375.9 L213.5,375.9 L214.0,375.9 L214.5,375.9 L215.0,375.9 L215.5,375.9 L216.0,375.9 L216.5,375.9 L217.0,375.9 L217.5,375.9 L218.0,375.9 L218.5,375.9 L219.0,375.9 L219.5,375.9 L220.0,375.9 L220.5,375.9 L221.0,375.9 L221.5,375.9 L222.0,375.9 L222.5,375.9 L223.0,375.9 L223.5,375.9 L224.0,375.9 L224.5,375.9 L225.0,375.9 L225.5,375.9 L226.0,375.9 L226.5,375.9 L227.0,375.9 L227.5,375.9 L228.0,375.9 L228.5,375.9 L229.0,375.9 L229.5,375.9 L230.0,375.9 L230.5,375.9 L231.0,375.9 L231.5,375.9 L232.0,375.9 L232.5,375.9 L233.0,375.9 L233.5,375.9 L234.0,375.9 L234.5,375.9 L235.0,375.9 L235.5,375.9 L236.0,375.9 L236.5,375.9 L237.0,375.9 L237.5,375.9 L238.0,375.9 L238.5,376.0 L239.0,376.0 L239.5,376.0 L240.0,376.0 L240.5,376.0 L241.0,376.0 L241.5,376.0 L242.0,376.0 L242.5,376.0 L243.0,376.0 L243.5,376.0 L244.0,376.0 L244.5,376.0 L245.0,376.0 L245.5,376.0 L246.0,376.0 L246.5,376.0 L247.0,376.0 L247.5,376.0 L248.0,376.0 L248.5,376.0 L249.0,376.0 L249.5,376.0 L250.0,376.0 L250.5,376.0 L251.0,376.0 L251.5,376.0 L252.0,376.0 L252.5,376.0 L253.0,376.0 L253.5,376.0 L254.0,376.0 L254.5,376.0 L255.0,376.0 L255.5,376.0 L256.0,376.0 L256.5,376.0 L257.0,376.0 L257.5,376.0 L258.0,376.0 L258.5,376.0 L259.0,376.0 L259.5,376.0 L260.0,376.0 L260.5,376.0 L261.0,376.0 L261.5,376.0 L262.0,376.0 L262.5,376.0 L263.0,376.0 L263.5,376.0 L264.0,376.0 L264.5,376.0 L265.0,376.0 L265.5,376.0 L266.0,376.0 L266.5,376.0 L267.0,376.1 L267.5,376.1 L268.0,376.1 L268.5,376.1 L269.0,376.1 L269.5,376.1 L270.0,376.1 L270.5,376.1 L271.0,376.1 L271.5,376.1 L272.0,376.1 L272.5,376.1 L273.0,376.1 L273.5,376.1 L274.0,376.1 L274.5,376.1 L275.0,376.1 L275.5,376.1 L276.0,376.1 L276.5,376.1 L277.0,376.1 L277.5,376.1 L278.0,376.1 L278.5,376.1 L279.0,376.1 L279.5,376.1 L280.0,376.1 L280.5,376.1 L281.0,376.1 L281.5,376.1 L282.0,376.1 L282.5,376.1 L283.0,376.1 L283.5,376.1 L284.0,376.1 L284.5,376.1 L285.0,376.1 L285.5,376.1 L286.0,376.1 L286.5,376.1 L287.0,376.1 L287.5,376.1 L288.0,376.1 L288.5,376.1 L289.0,376.1 L289.5,376.2 L290.0,376.2 L290.5,376.2 L291.0,376.2 L291.5,376.2 L292.0,376.2 L292.5,376.2 L293.0,376.2 L293.5,376.2 L294.0,376.2 L294.5,376.2 L295.0,376.2 L295.5,376.2 L296.0,376.2 L296.5,376.2 L297.0,376.2 L297.5,376.2 L298.0,376.2 L298.5,376.2 L299.0,376.2 L299.5,376.2 L300.0,376.2 L300.5,376.2 L301.0,376.2 L301.5,376.2 L302.0,376.2 L302.5,376.2 L303.0,376.2 L303.5,376.2 L304.0,376.2 L304.5,376.2 L305.0,376.2 L305.5,376.2 L306.0,376.2 L306.5,376.2 L307.0,376.2 L307.5,376.2 L308.0,376.2 L308.5,376.2 L309.0,376.2 L309.5,376.2 L310.0,376.3 L310.5,376.3 L311.0,376.3 L311.5,376.3 L312.0,376.3 L312.5,376.3 L313.0,376.3 L313.5,376.3 L314.0,376.3 L314.5,376.3 L315.0,376.3 L315.5,376.3 L316.0,376.3 L316.5,376.3 L317.0,376.3 L317.5,376.3 L318.0,376.3 L318.5,376.3 L319.0,376.3 L319.5,376.3 L320.0,376.3 L320.5,376.3 L321.0,376.3 L321.5,376.3 L322.0,376.3 L322.5,376.3 L323.0,376.3 L323.5,376.3 L324.0,376.3 L324.5,376.3 L325.0,376.4 L325.5,376.4 L326.0,376.4 L326.5,376.4 L327.0,376.4 L327.5,376.4 L328.0,376.4 L328.5,376.4 L329.0,376.4 L329.5,376.4 L330.0,376.4 L330.5,376.4 L331.0,376.4 L331.5,376.4 L332.0,376.4 L332.5,376.4 L333.0,376.4 L333.5,376.4 L334.0,376.4 L334.5,376.4 L335.0,376.4 L335.5,376.4 L336.0,376.4 L336.5,376.4 L337.0,376.5 L337.5,376.5 L338.0,376.5 L338.5,376.5 L339.0,376.5 L339.5,376.5 L340.0,376.5 L340.5,376.5 L341.0,376.5 L341.5,376.5 L342.0,376.5 L342.5,376.5 L343.0,376.5 L343.5,376.5 L344.0,376.5 L344.5,376.5 L345.0,376.5 L345.5,376.5 L346.0,376.5 L346.5,376.5 L347.0,376.5 L347.5,376.5 L348.0,376.6 L348.5,376.6 L349.0,376.6 L349.5,376.6 L350.0,376.6 L350.5,376.6 L351.0,376.6 L351.5,376.6 L352.0,376.6 L352.5,376.6 L353.0,376.6 L353.5,376.6 L354.0,376.6 L354.5,376.6 L355.0,376.6 L355.5,376.6 L356.0,376.6 L356.5,376.6 L357.0,376.6 L357.5,376.6 L358.0,376.7 L358.5,376.7 L359.0,376.7 L359.5,376.7 L360.0,376.7 L360.5,376.7 L361.0,376.7 L361.5,376.7 L362.0,376.7 L362.5,376.7 L363.0,376.7 L363.5,376.7 L364.0,376.7 L364.5,376.7 L365.0,376.7 L365.5,376.7 L366.0,376.7 L366.5,376.7 L367.0,376.7 L367.5,376.8 L368.0,376.8 L368.5,376.8 L369.0,376.8 L369.5,376.8 L370.0,376.8 L370.5,376.8 L371.0,376.8 L371.5,376.8 L372.0,376.8 L372.5,376.8 L373.0,376.8 L373.5,376.8 L374.0,376.8 L374.5,376.8 L375.0,376.8 L375.5,376.8 L376.0,376.9 L376.5,376.9 L377.0,376.9 L377.5,376.9 L378.0,376.9 L378.5,376.9 L379.0,376.9 L379.5,376.9 L380.0,376.9 L380.5,376.9 L381.0,376.9 L381.5,376.9 L382.0,376.9 L382.5,376.9 L383.0,376.9 L383.5,376.9 L384.0,376.9 L384.5,377.0 L385.0,377.0 L385.5,377.0 L386.0,377.0 L386.5,377.0 L387.0,377.0 L387.5,377.0 L388.0,377.0 L388.5,377.0 L389.0,377.0 L389.5,377.0 L390.0,377.0 L390.5,377.0 L391.0,377.0 L391.5,377.0 L392.0,377.0 L392.5,377.1 L393.0,377.1 L393.5,377.1 L394.0,377.1 L394.5,377.1 L395.0,377.1 L395.5,377.1 L396.0,377.1 L396.5,377.1 L397.0,377.1 L397.5,377.1 L398.0,377.1 L398.5,377.1 L399.0,377.1 L399.5,377.2 L400.0,377.2 L400.5,377.2 L401.0,377.2 L401.5,377.2 L402.0,377.2 L402.5,377.2 L403.0,377.2 L403.5,377.2 L404.0,377.2 L404.5,377.2 L405.0,377.2 L405.5,377.2 L406.0,377.2 L406.5,377.3 L407.0,377.3 L407.5,377.3 L408.0,377.3 L408.5,377.3 L409.0,377.3 L409.5,377.3 L410.0,377.3 L410.5,377.3 L411.0,377.3 L411.5,377.3 L412.0,377.3 L412.5,377.4 L413.0,377.4 L413.5,377.4 L414.0,377.4 L414.5,377.4 L415.0,377.4 L415.5,377.4 L416.0,377.4 L416.5,377.4 L417.0,377.4 L417.5,377.4 L418.0,377.5 L418.5,377.5 L419.0,377.5 L419.5,377.5 L420.0,377.5 L420.5,377.5 L421.0,377.5 L421.5,377.5 L422.0,377.5 L422.5,377.6 L423.0,377.6 L423.5,377.6 L424.0,377.6 L424.5,377.6 L425.0,377.6 L425.5,377.6 L426.0,377.6 L426.5,377.6 L427.0,377.7 L427.5,377.7 L428.0,377.7 L428.5,377.7 L429.0,377.7 L429.5,377.7 L430.0,377.7 L430.5,377.7 L431.0,377.7 L431.5,377.8 L432.0,377.8 L432.5,377.8 L433.0,377.8 L433.5,377.8 L434.0,377.8 L434.5,377.8 L435.0,377.9 L435.5,377.9 L436.0,377.9 L436.5,377.9 L437.0,377.9 L437.5,377.9 L438.0,377.9 L438.5,378.0 L439.0,378.0 L439.5,378.0 L440.0,378.0 L440.5,378.0 L441.0,378.0 L441.5,378.0 L442.0,378.1 L442.5,378.1 L443.0,378.1 L443.5,378.1 L444.0,378.1 L444.5,378.2 L445.0,378.2 L445.5,378.2 L446.0,378.2 L446.5,378.3 L447.0,378.3 L447.5,378.3 L448.0,378.3 L448.5,378.4 L449.0,378.4 L449.5,378.4 L450.0,378.5 L450.5,378.5 L451.0,378.5 L451.5,378.6 L452.0,378.6 L452.5,378.6 L453.0,378.7 L453.5,378.7 L454.0,378.7 L454.5,378.8 L455.0,378.8 L455.5,378.8 L456.0,378.9 L456.5,378.9 L457.0,378.9 L457.5,379.0 L458.0,379.0 L458.5,379.0 L459.0,379.1 L459.5,379.1 L460.0,379.1 L460.5,379.2 L461.0,379.2 L461.5,379.2 L462.0,379.3 L462.5,379.3 L463.0,379.4 L463.5,379.4 L464.0,379.4 L464.5,379.5 L465.0,379.5 L465.5,379.5 L466.0,379.6 L466.5,379.6 L467.0,379.6 L467.5,379.7 L468.0,379.7 L468.5,379.8 L469.0,379.8 L469.5,379.8 L470.0,379.9 L470.5,379.9 L471.0,380.0 L471.5,380.0 L472.0,380.1 L472.5,380.1 L473.0,380.1 L473.5,380.2 L474.0,380.2 L474.5,380.3 L475.0,380.3 L475.5,380.4 L476.0,380.4 L476.5,380.5 L477.0,380.5 L477.5,380.6 L478.0,380.6 L478.5,380.6 L479.0,380.7 L479.5,380.7 L480.0,380.8 L480.5,380.8 L481.0,380.9 L481.5,380.9 L482.0,381.0 L482.5,381.0 L483.0,381.1 L483.5,381.1 L484.0,381.2 L484.5,381.2 L485.0,381.3 L485.5,381.3 L486.0,381.4 L486.5,381.4 L487.0,381.5 L487.5,381.5 L488.0,381.6 L488.5,381.6 L489.0,381.7 L489.5,381.7 L490.0,381.8 L490.5,381.8 L491.0,381.8 L491.5,381.9 L492.0,381.9 L492.5,382.0 L493.0,382.0 L493.5,382.1 L494.0,382.1 L494.5,382.2 L495.0,382.2 L495.5,382.3 L496.0,382.3 L496.5,382.4 L497.0,382.4 L497.5,382.5 L498.0,382.5 L498.5,382.6 L499.0,382.6 L499.5,382.7 L500.0,382.7 L500.5,382.7 L501.0,382.8 L501.5,382.8 L502.0,382.9 L502.5,382.9 L503.0,383.0 L503.5,383.0 L504.0,383.1 L504.5,383.1 L505.0,383.2 L505.5,383.2 L506.0,383.3 L506.5,383.3 L507.0,383.4 L507.5,383.4 L508.0,383.5 L508.5,383.5 L509.0,383.6 L509.5,383.7 L510.0,383.7 L510.5,383.8 L511.0,383.8 L511.5,383.9 L512.0,383.9 L512.5,384.0 L513.0,384.0 L513.5,384.1 L514.0,384.1 L514.5,384.2 L515.0,384.2 L515.5,384.3 L516.0,384.4 L516.5,384.4 L517.0,384.5 L517.5,384.5 L518.0,384.6 L518.5,384.7 L519.0,384.7 L519.5,384.8 L520.0,384.8 L520.5,384.9 L521.0,384.9 L521.5,385.0 L522.0,385.1 L522.5,385.1 L523.0,385.2 L523.5,385.3 L524.0,385.3 L524.5,385.4 L525.0,385.4 L525.5,385.5 L526.0,385.6 L526.5,385.6 L527.0,385.7 L527.5,385.8 L528.0,385.8 L528.5,385.9 L529.0,386.0 L529.5,386.0 L530.0,386.1 L530.5,386.2 L531.0,386.2 L531.5,386.3 L532.0,386.4 L532.5,386.4 L533.0,386.5 L533.5,386.6 L534.0,386.6 L534.5,386.7 L535.0,386.8 L535.5,386.8 L536.0,386.9 L536.5,387.0 L537.0,387.1 L537.5,387.1 L538.0,387.2 L538.5,387.3 L539.0,387.4 L539.5,387.4 L540.0,387.5 L540.5,387.6 L541.0,387.7 L541.5,387.7 L542.0,387.8 L542.5,387.9 L543.0,388.0 L543.5,388.0 L544.0,388.1 L544.5,388.2 L545.0,388.3 L545.5,388.4 L546.0,388.4 L546.5,388.5 L547.0,388.6 L547.5,388.7 L548.0,388.8 L548.5,388.9 L549.0,388.9 L549.5,389.0 L550.0,389.1 L550.5,389.2 L551.0,389.3 L551.5,389.4 L552.0,389.5 L552.5,389.5 L553.0,389.6 L553.5,389.7 L554.0,389.8 L554.5,389.9 L555.0,390.0 L555.5,390.1 L556.0,390.2 L556.5,390.3 L557.0,390.4 L557.5,390.5 L558.0,390.6 L558.5,390.7 L559.0,390.8 L559.5,390.9 L560.0,391.0 L560.5,391.1 L561.0,391.2 L561.5,391.3 L562.0,391.4 L562.5,391.5 L563.0,391.6 L563.5,391.7 L564.0,391.8 L564.5,391.9 L565.0,392.0 L565.5,392.1 L566.0,392.2 L566.5,392.3 L567.0,392.4 L567.5,392.6 L568.0,392.7 L568.5,392.8 L569.0,392.9 L569.5,393.0 L570.0,393.1 L570.5,393.2 L571.0,393.4 L571.5,393.5 L572.0,393.6 L572.5,393.7 L573.0,393.8 L573.5,394.0 L574.0,394.1 L574.5,394.2 L575.0,394.3 L575.5,394.5 L576.0,394.6 L576.5,394.7 L577.0,394.9 L577.5,395.0 L578.0,395.1 L578.5,395.3 L579.0,395.4 L579.5,395.5 L580.0,395.7 L580.5,395.8 L581.0,396.0 L581.5,396.1 L582.0,396.2 L582.5,396.4 L583.0,396.5 L583.5,396.7 L584.0,396.8 L584.5,397.0 L585.0,397.1 L585.5,397.3 L586.0,397.5 L586.5,397.6 L587.0,397.8 L587.5,397.9 L588.0,398.1 L588.5,398.3 L589.0,398.4 L589.5,398.6 L590.0,398.8 L590.5,398.9 L591.0,399.1 L591.5,399.3 L592.0,399.4 L592.5,399.6 L593.0,399.8 L593.5,400.0 L594.0,400.2 L594.5,400.3 L595.0,400.5 L595.5,400.7 L596.0,400.9 L596.5,401.1 L597.0,401.3 L597.5,401.5 L598.0,401.7 L598.5,401.9 L599.0,402.1 L599.5,402.3 L600.0,402.5 L600.5,402.7 L601.0,402.9 L601.5,403.1 L602.0,403.4 L602.5,403.6 L603.0,403.8 L603.5,404.0 L604.0,404.2 L604.5,404.5 L605.0,404.7 L605.5,404.9 L606.0,405.2 L606.5,405.4 L607.0,405.7 L607.5,405.9 L608.0,406.2 L608.5,406.4 L609.0,406.7 L609.5,406.9 L610.0,407.2 L610.5,407.5 L611.0,407.7 L611.5,408.0 L612.0,408.3 L612.5,408.6 L613.0,408.8 L613.5,409.1 L614.0,409.4 L614.5,409.7 L615.0,410.0 L615.5,410.3 L616.0,410.6 L616.5,410.9 L617.0,411.3 L617.5,411.6 L618.0,412.0 L618.5,412.3 L619.0,412.7 L619.5,413.1 L620.0,413.4 L620.5,413.8 L621.0,414.2 L621.5,414.6 L622.0,415.0 L622.5,415.5 L623.0,415.9 L623.5,416.3 L624.0,416.8 L624.5,417.2 L625.0,417.7 L625.5,418.1 L626.0,418.6 L626.5,419.0 L627.0,419.5 L627.5,420.0 L628.0,420.5 L628.5,421.0 L629.0,421.5 L629.5,422.0 L630.0,422.5 L630.5,423.1 L631.0,423.6 L631.5,424.1 L632.0,424.7 L632.5,425.3 L633.0,425.9 L633.5,426.5 L634.0,427.1 L634.5,427.7 L635.0,428.3 L635.5,428.9 L636.0,429.5 L636.5,430.2 L637.0,430.9 L637.5,431.5 L638.0,432.2 L638.5,432.9 L639.0,433.6 L639.5,434.3 L640.0,435.0 L640.5,435.7 L641.0,436.5 L641.5,437.2 L642.0,438.0 L642.5,438.8 L643.0,439.6 L643.5,440.4 L644.0,441.2 L644.5,442.0 L645.0,442.9 L645.5,443.7 L646.0,444.6 L646.5,445.5 L647.0,446.4 L647.5,447.4 L648.0,448.3 L648.5,449.3 L649.0,450.2 L649.5,451.2 L650.0,452.2 L650.5,453.3 L651.0,454.3 L651.5,455.3 L652.0,456.4 L652.5,457.5 L653.0,458.6 L653.5,459.7 L654.0,460.9 L654.5,462.1 L655.0,463.3 L655.5,464.5 L656.0,465.8 L656.5,467.1 L657.0,468.4 L657.5,469.7 L658.0,471.1 L658.5,472.5 L659.0,473.9 L659.5,475.3 L660.0,476.8 L660.5,478.2 L661.0,479.7 L661.5,481.3 L662.0,482.8 L662.5,484.4 L663.0,485.9 L663.5,487.6 L664.0,489.2 L664.5,490.8 L665.0,492.5 L665.5,494.2 L666.0,496.0 L666.5,497.8 L667.0,499.7 L667.5,501.6 L668.0,503.6 L668.5,505.6 L669.0,507.7 L669.5,509.8 L670.0,512.0 L670.5,514.1 L671.0,516.4 L671.5,518.6 L672.0,520.9 L672.5,523.2 L673.0,525.6 L673.5,527.9 L674.0,530.3 L674.5,532.8 L675.0,535.2 L675.5,537.7 L676.0,540.3 L676.5,542.8 L677.0,545.5 L677.5,548.2 L678.0,550.9 L678.5,553.7 L679.0,556.5 L679.5,559.4 L680.0,562.3 L680.5,565.3 L681.0,568.4 L681.5,571.5 L682.0,574.7 L682.5,578.0 L683.0,581.4 L683.5,585.1 L684.0,589.0 L684.5,593.0 L685.0,597.2 L685.5,601.5 L686.0,605.9 L686.5,610.3 L687.0,614.7 L687.5,619.1 L688.0,623.5 L688.5,627.8 L689.0,632.0 L689.5,636.1 L690.0,640.0 L690.5,643.8 L691.0,647.6 L691.5,651.4 L692.0,655.2 L692.5,659.0 L693.0,662.8 L693.5,666.6 L694.0,670.3 L694.5,673.9 L695.0,677.6 L695.5,681.2 L696.0,684.7 L696.5,688.1 L697.0,691.5 L697.5,694.8 L698.0,698.1 L698.5,701.2 L699.0,704.2 L699.5,707.2 L700.0,710.0 L700.5,712.8 L701.0,715.5 L701.5,718.2 L702.0,720.9 L702.5,723.5 L703.0,726.1 L703.5,728.6 L704.0,731.0 L704.5,733.3 L705.0,735.6 L705.5,737.7 L706.0,739.7 L706.5,741.6 L707.0,743.4 L707.5,745.0 L708.0,746.5 L708.5,748.0 L709.0,749.5 L709.5,750.9 L710.0,752.3 L710.5,753.7 L711.0,755.0 L711.5,756.3 L712.0,757.6 L712.5,758.7 L713.0,759.9 L713.5,761.0 L714.0,762.0 L714.5,763.0 L715.0,763.9 L715.5,764.8 L716.0,765.5 L716.5,766.3 L717.0,766.9 L717.5,767.5 L718.0,768.0 L718.5,768.6 L719.0,769.1 L719.5,769.6 L720.0,770.0 L720.5,770.5 L721.0,770.9 L721.5,771.4 L722.0,771.8 L722.5,772.2 L723.0,772.6 L723.5,773.0 L724.0,773.3 L724.5,773.6 L725.0,774.0 L725.5,774.3 L726.0,774.6 L726.5,774.8 L727.0,775.1 L727.5,775.3 L728.0,775.5 L728.5,775.7 L729.0,775.9 L729.5,776.1 L730.0,776.2 L730.5,776.4 L731.0,776.5 L731.5,776.7 L732.0,776.8 L732.5,776.9 L733.0,777.1 L733.5,777.2 L734.0,777.3 L734.5,777.4 L735.0,777.5 L735.5,777.6 L736.0,777.8 L736.5,777.9 L737.0,778.0 L737.5,778.1 L738.0,778.2 L738.5,778.3 L739.0,778.4 L739.5,778.4 L740.0,778.5 L740.5,778.6 L741.0,778.7 L741.5,778.8 L742.0,778.8 L742.5,778.9 L743.0,779.0 L743.5,779.0 L744.0,779.1 L744.5,779.2 L745.0,779.2 L745.5,779.3 L746.0,779.3 L746.5,779.4 L747.0,779.4 L747.5,779.5 L748.0,779.5 L748.5,779.5 L749.0,779.6 L749.5,779.6 L750.0,779.6 L750.5,779.6 L751.0,779.6 L751.5,779.7 L752.0,779.7 L752.5,779.7 L753.0,779.7 L753.5,779.7 L754.0,779.8 L754.5,779.8 L755.0,779.8 L755.5,779.8 L756.0,779.8 L756.5,779.9 L757.0,779.9 L757.5,779.9 L758.0,779.9 L758.5,779.9 L759.0,779.9 L759.5,780.0 L760.0,780.0 L760.5,780.0 L761.0,780.0 L761.5,780.0 L762.0,780.0 L762.5,780.0 L763.0,780.0 L763.5,780.1 L764.0,780.1 L764.5,780.1 L765.0,780.1 L765.5,780.1 L766.0,780.1 L766.5,780.1 L767.0,780.1 L767.5,780.1 L768.0,780.1 L768.5,780.2 L769.0,780.2 L769.5,780.2 L770.0,780.2 L770.5,780.2 L771.0,780.2 L771.5,780.2 L772.0,780.2 L772.5,780.2 L773.0,780.2 L773.5,780.2 L774.0,780.2 L774.5,780.2 L775.0,780.2 L775.5,780.2 L776.0,780.2 L776.5,780.2 L777.0,780.2 L777.5,780.2 L778.0,780.2 L778.5,780.2 L779.0,780.2 L779.5,780.2 L780.0,780.2 L780.5,780.2 L781.0,780.2 L781.5,780.2 L782.0,780.2 L782.5,780.2 L783.0,780.2 L783.5,780.2 L784.0,780.2 L784.5,780.2 L785.0,780.2 L785.5,780.2 L786.0,780.2 L786.5,780.2 L787.0,780.2 L787.5,780.2 L788.0,780.2 L788.5,780.2 L789.0,780.2 L789.5,780.2 L790.0,780.2 L790.5,780.2 L791.0,780.2 L791.5,780.2 L792.0,780.2 L792.5,780.2 L793.0,780.2 L793.5,780.2 L794.0,780.2 L794.5,780.2 L795.0,780.2 L795.5,780.2 L796.0,780.2 L796.5,780.2 L797.0,780.2 L797.5,780.2 L798.0,780.2 L798.5,780.2 L799.0,780.2 L799.5,780.2 L800.0,780.2 L800.5,780.2 L801.0,780.2 L801.5,780.2 L802.0,780.2 L802.5,780.2 L803.0,780.2 L803.5,780.2 L804.0,780.2 L804.5,780.2 L805.0,780.2 L805.5,780.2 L806.0,780.2 L806.5,780.2 L807.0,780.2 L807.5,780.2 L808.0,780.2 L808.5,780.2 L809.0,780.2 L809.5,780.2 L810.0,780.2 L810.5,780.2 L811.0,780.2 L811.5,780.2 L812.0,780.2 L812.5,780.2 L813.0,780.2 L813.5,780.2 L814.0,780.2 L814.5,780.2 L815.0,780.2 L815.5,780.2 L816.0,780.2 L816.5,780.2 L817.0,780.2 L817.5,780.2 L818.0,780.2 L818.5,780.2 L819.0,780.2 L819.5,780.2 L820.0,780.2 L820.5,780.2 L821.0,780.2 L821.5,780.2 L822.0,780.2 L822.5,780.2 L823.0,780.2 L823.5,780.2 L824.0,780.2 L824.5,780.2 L825.0,780.2 L825.5,780.2 L826.0,780.2 L826.5,780.2 L827.0,780.2 L827.5,780.2 L828.0,780.2 L828.5,780.2 L829.0,780.2 L829.5,780.2 L830.0,780.2 L830.5,780.2 L831.0,780.2 L831.5,780.2 L832.0,780.2 L832.5,780.2 L833.0,780.2 L833.5,780.2 L834.0,780.2 L834.5,780.2 L835.0,780.2 L835.5,780.2 L836.0,780.2 L836.5,780.2 L837.0,780.2 L837.5,780.2 L838.0,780.2 L838.5,780.2 L839.0,780.2 L839.5,780.2 L840.0,780.2 L840.5,780.2 L841.0,780.2 L841.5,780.2 L842.0,780.2 L842.5,780.2 L843.0,780.2 L843.5,780.2 L844.0,780.2 L844.5,780.2 L845.0,780.2 L845.5,780.2 L846.0,780.2 L846.5,780.2 L847.0,780.2 L847.5,780.2 L848.0,780.2 L848.5,780.2 L849.0,780.2 L849.5,780.2 L850.0,780.2 L850.5,780.2 L851.0,780.2 L851.5,780.2 L852.0,780.2 L852.5,780.2 L853.0,780.2 L853.5,780.2 L854.0,780.2 L854.5,780.2 L855.0,780.2 L855.5,780.2 L856.0,780.2 L856.5,780.2 L857.0,780.2 L857.5,780.2 L858.0,780.2 L858.5,780.2 L859.0,780.2 L859.5,780.2 L860.0,780.2 L860.5,780.2 L861.0,780.2 L861.5,780.2 L862.0,780.2 L862.5,780.2 L863.0,780.2 L863.5,780.2 L864.0,780.2 L864.5,780.2 L865.0,780.2 L865.5,780.2 L866.0,780.2 L866.5,780.2 L867.0,780.2 L867.5,780.2 L868.0,780.2 L868.5,780.2 L869.0,780.2 L869.5,780.2 L870.0,780.2 L870.5,780.2 L871.0,780.2 L871.5,780.2 L872.0,780.2 L872.5,780.2 L873.0,780.2 L873.5,780.2 L874.0,780.2 L874.5,780.2 L875.0,780.2 L875.5,780.2 L876.0,780.2 L876.5,780.2 L877.0,780.2 L877.5,780.2 L878.0,780.2 L878.5,780.2 L879.0,780.2 L879.5,780.2 L880.0,780.2 L880.5,780.2 L881.0,780.2 L881.5,780.2 L882.0,780.2 L882.5,780.2 L883.0,780.2 L883.5,780.2 L884.0,780.2 L884.5,780.2 L885.0,780.2 L885.5,780.2 L886.0,780.2 L886.5,780.2 L887.0,780.2 L887.5,780.2 L888.0,780.2 L888.5,780.2 L889.0,780.2 L889.5,780.2 L890.0,780.2 L890.5,780.2 L891.0,780.2 L891.5,780.2 L892.0,780.2 L892.5,780.2 L893.0,780.2 L893.5,780.2 L894.0,780.2 L894.5,780.2 L895.0,780.2 L895.5,780.2 L896.0,780.2 L896.5,780.2 L897.0,780.2 L897.5,780.2 L898.0,780.2 L898.5,780.2 L899.0,780.2 L899.5,780.2 L900.0,780.2 L900.5,780.2 L901.0,780.2 L901.5,780.2 L902.0,780.2 L902.5,780.2 L903.0,780.2 L903.5,780.2 L904.0,780.2 L904.5,780.2 L905.0,780.2 L905.5,780.2 L906.0,780.2 L906.5,780.2 L907.0,780.2 L907.5,780.2 L908.0,780.2 L908.5,780.2 L909.0,780.2 L909.5,780.2 L910.0,780.2 L910.5,780.2 L911.0,780.2 L911.5,780.2 L912.0,780.2 L912.5,780.2 L913.0,780.2 L913.5,780.2 L914.0,780.2 L914.5,780.2 L915.0,780.2 L915.5,780.2 L916.0,780.2 L916.5,780.2 L917.0,780.2 L917.5,780.2 L918.0,780.2 L918.5,780.2 L919.0,780.2 L919.5,780.2 L920.0,780.2 L920.5,780.2 L921.0,780.2 L921.5,780.2 L922.0,780.2 L922.5,780.2 L923.0,780.2 L923.5,780.2 L924.0,780.2 L924.5,780.2 L925.0,780.2 L925.5,780.2 L926.0,780.2 L926.5,780.2 L927.0,780.2 L927.5,780.2 L928.0,780.2 L928.5,780.2 L929.0,780.2 L929.5,780.2 L930.0,780.2 L930.5,780.2 L931.0,780.2 L931.5,780.2 L932.0,780.2 L932.5,780.2 L933.0,780.2 L933.5,780.2 L934.0,780.2 L934.5,780.2 L935.0,780.2 L935.5,780.2 L936.0,780.2 L936.5,780.2 L937.0,780.2 L937.5,780.2 L938.0,780.2 L938.5,780.2 L939.0,780.2 L939.5,780.2 L940.0,780.2 L940.5,780.2 L941.0,780.2 L941.5,780.2 L942.0,780.2 L942.5,780.2 L943.0,780.2 L943.5,780.2 L944.0,780.2 L944.5,780.2 L945.0,780.2 L945.5,780.2 L946.0,780.2 L946.5,780.2 L947.0,780.2 L947.5,780.2 L948.0,780.2 L948.5,780.2 L949.0,780.2 L949.5,780.2 L950.0,780.2 L950.5,780.2 L951.0,780.2 L951.5,780.2 L952.0,780.2 L952.5,780.2 L953.0,780.2 L953.5,780.2 L954.0,780.2 L954.5,780.2 L955.0,780.2 L955.5,780.2 L956.0,780.2 L956.5,780.2 L957.0,780.2 L957.5,780.2 L958.0,780.2 L958.5,780.2 L959.0,780.2 L959.5,780.2 L960.0,780.2 L960.5,780.2 L961.0,780.2 L961.5,780.2 L962.0,780.2 L962.5,780.2 L963.0,780.2 L963.5,780.2 L964.0,780.2 L964.5,780.2 L965.0,780.2 L965.5,780.2 L966.0,780.2 L966.5,780.2 L967.0,780.2 L967.5,780.2 L968.0,780.2 L968.5,780.2 L969.0,780.2 L969.5,780.2 L970.0,780.2 L970.5,780.2 L971.0,780.2 L971.5,780.2 L972.0,780.2 L972.5,780.2 L973.0,780.2 L973.5,780.2 L974.0,780.2 L974.5,780.2 L975.0,780.2 L975.5,780.2 L976.0,780.2 L976.5,780.2 L977.0,780.2 L977.5,780.2 L978.0,780.2 L978.5,780.2 L979.0,780.2 L979.5,780.2 L980.0,780.2 L980.5,780.2 L981.0,780.2 L981.5,780.2 L982.0,780.2 L982.5,780.2 L983.0,780.2 L983.5,780.2 L984.0,780.2 L984.5,780.2 L985.0,780.2 L985.5,780.2 L986.0,780.2 L986.5,780.2 L987.0,780.2 L987.5,780.2 L988.0,780.2 L988.5,780.2 L989.0,780.2 L989.5,780.2 L990.0,780.2 L990.5,780.2 L991.0,780.2 L991.5,780.2 L992.0,780.2 L992.5,780.2 L993.0,780.2 L993.5,780.2 L994.0,780.2 L994.5,780.2 L995.0,780.2 L995.5,780.2 L996.0,780.2 L996.5,780.2 L997.0,780.2 L997.5,780.2 L998.0,780.2 L998.5,780.2 L999.0,780.2 L999.5,780.2 L1000.0,780.2 L1000.5,780.2 L1001.0,780.2 L1001.5,780.2 L1002.0,780.2 L1002.5,780.2 L1003.0,780.2 L1003.5,780.2 L1004.0,780.2 L1004.5,780.2 L1005.0,780.2 L1005.5,780.2 L1006.0,780.2 L1006.5,780.2 L1007.0,780.2 L1007.5,780.2 L1008.0,780.2 L1008.5,780.2 L1009.0,780.2 L1009.5,780.2 L1010.0,780.2 L1010.5,780.2 L1011.0,780.2 L1011.5,780.2 L1012.0,780.2 L1012.5,780.2 L1013.0,780.2 L1013.5,780.2 L1014.0,780.2 L1014.5,780.2 L1015.0,780.2 L1015.5,780.2 L1016.0,780.2 L1016.5,780.2 L1017.0,780.2" stroke="#6cace4"/>
<path d="M205.0,580.6 L205.5,580.1 L206.0,579.8 L206.5,579.5 L207.0,579.4 L207.5,579.4 L208.0,579.6 L208.5,579.8 L209.0,580.0 L209.5,580.3 L210.0,580.5 L210.5,580.8 L211.0,581.1 L211.5,581.4 L212.0,581.8 L212.5,582.2 L213.0,582.6 L213.5,582.9 L214.0,583.3 L214.5,583.6 L215.0,583.8 L215.5,584.0 L216.0,584.2 L216.5,584.4 L217.0,584.5 L217.5,584.7 L218.0,584.9 L218.5,585.0 L219.0,585.1 L219.5,585.3 L220.0,585.4 L220.5,585.4 L221.2,585.5 L221.8,585.5 L222.2,585.5 L222.8,585.4 L223.2,585.3 L223.8,585.2 L224.2,585.1 L224.8,585.0 L225.2,584.8 L225.8,584.7 L226.2,584.5 L226.8,584.3 L227.2,584.0 L227.8,583.8 L228.2,583.5 L228.8,583.2 L229.2,582.9 L229.8,582.6 L230.2,582.3 L230.8,582.0 L231.2,581.6 L231.8,581.2 L232.2,580.9 L232.8,580.5 L233.2,580.1 L233.8,579.7 L234.2,579.3 L234.8,578.9 L235.2,578.5 L235.8,578.0 L236.2,577.6 L236.8,577.2 L237.2,576.8 L237.8,576.3 L238.2,575.9 L238.8,575.5 L239.2,575.0 L239.8,574.6 L240.2,574.2 L240.8,573.8 L241.2,573.4 L241.8,573.0 L242.2,572.6 L242.8,572.3 L243.2,571.9 L243.8,571.5 L244.2,571.2 L244.8,570.9 L245.2,570.6 L245.8,570.3 L246.2,570.0 L246.8,569.7 L247.2,569.5 L247.8,569.2 L248.2,569.0 L248.8,568.8 L249.2,568.7 L249.8,568.5 L250.2,568.4 L250.8,568.3 L251.2,568.2 L251.8,568.1 L252.2,568.0 L252.8,568.0 L253.2,568.0 L253.8,568.0 L254.3,568.0 L254.8,568.1 L255.3,568.2 L255.8,568.3 L256.3,568.4 L256.8,568.6 L257.3,568.7 L257.8,568.9 L258.3,569.1 L258.8,569.4 L259.3,569.6 L259.8,569.9 L260.3,570.2 L260.8,570.5 L261.3,570.8 L261.8,571.1 L262.3,571.5 L262.8,571.9 L263.3,572.3 L263.8,572.7 L264.3,573.1 L264.8,573.5 L265.3,573.9 L265.8,574.4 L266.3,574.8 L266.8,575.3 L267.4,575.8 L267.9,576.3 L268.4,576.8 L268.9,577.3 L269.4,577.8 L269.9,578.2 L270.4,578.7 L270.9,579.3 L271.4,579.8 L271.9,580.2 L272.4,580.7 L272.9,581.2 L273.4,581.7 L273.9,582.2 L274.4,582.7 L274.9,583.2 L275.4,583.6 L275.9,584.1 L276.4,584.5 L276.9,584.9 L277.4,585.3 L277.9,585.7 L278.4,586.1 L278.9,586.5 L279.4,586.9 L279.9,587.2 L280.4,587.5 L280.9,587.8 L281.5,588.1 L282.0,588.4 L282.5,588.6 L283.0,588.9 L283.5,589.1 L284.0,589.3 L284.5,589.4 L285.0,589.6 L285.5,589.7 L286.0,589.8 L286.5,589.9 L287.0,590.0 L287.5,590.0 L288.0,590.0 L288.5,590.0 L289.0,589.9 L289.5,589.9 L290.0,589.8 L290.5,589.6 L291.0,589.5 L291.5,589.3 L292.0,589.1 L292.5,588.8 L293.0,588.5 L293.5,588.2 L294.0,587.9 L294.5,587.6 L295.1,587.2 L295.6,586.8 L296.1,586.4 L296.6,585.9 L297.1,585.5 L297.6,585.0 L298.1,584.5 L298.6,584.0 L299.1,583.4 L299.6,582.9 L300.1,582.3 L300.6,581.7 L301.1,581.2 L301.6,580.6 L302.1,579.9 L302.6,579.3 L303.1,578.7 L303.6,578.1 L304.1,577.4 L304.6,576.8 L305.1,576.2 L305.6,575.6 L306.1,574.9 L306.6,574.3 L307.1,573.7 L307.6,573.1 L308.1,572.4 L308.7,571.8 L309.2,571.3 L309.7,570.7 L310.2,570.1 L310.7,569.6 L311.2,569.0 L311.7,568.5 L312.2,568.0 L312.7,567.5 L313.2,567.1 L313.7,566.6 L314.2,566.2 L314.7,565.8 L315.2,565.4 L315.7,565.1 L316.2,564.8 L316.7,564.5 L317.2,564.2 L317.7,563.9 L318.2,563.7 L318.7,563.5 L319.2,563.4 L319.7,563.2 L320.2,563.1 L320.7,563.1 L321.2,563.0 L321.8,563.0 L322.3,563.0 L322.8,563.1 L323.3,563.2 L323.8,563.3 L324.3,563.5 L324.8,563.7 L325.3,563.9 L325.8,564.2 L326.3,564.5 L326.8,564.8 L327.3,565.2 L327.8,565.6 L328.3,566.0 L328.8,566.5 L329.3,567.0 L329.8,567.5 L330.3,568.1 L330.8,568.7 L331.3,569.3 L331.8,569.9 L332.3,570.5 L332.8,571.2 L333.3,571.9 L333.8,572.6 L334.3,573.3 L334.8,574.1 L335.4,574.8 L335.9,575.6 L336.4,576.3 L336.9,577.1 L337.4,577.9 L337.9,578.7 L338.4,579.5 L338.9,580.3 L339.4,581.1 L339.9,581.8 L340.4,582.6 L340.9,583.4 L341.4,584.2 L341.9,584.9 L342.4,585.7 L342.9,586.4 L343.4,587.1 L343.9,587.9 L344.4,588.5 L344.9,589.2 L345.4,589.9 L345.9,590.5 L346.4,591.1 L346.9,591.7 L347.4,592.2 L347.9,592.7 L348.4,593.2 L349.0,593.7 L349.5,594.1 L350.0,594.6 L350.5,594.9 L351.0,595.3 L351.5,595.6 L352.0,595.8 L352.5,596.1 L353.0,596.3 L353.5,596.5 L354.0,596.6 L354.5,596.7 L355.0,596.7 L355.5,596.8 L356.0,596.7 L356.5,596.7 L357.0,596.5 L357.5,596.4 L358.0,596.2 L358.5,595.9 L359.0,595.6 L359.5,595.3 L360.0,594.9 L360.5,594.5 L361.0,594.0 L361.5,593.5 L362.0,592.9 L362.6,592.3 L363.1,591.7 L363.6,591.0 L364.1,590.3 L364.6,589.6 L365.1,588.9 L365.6,588.1 L366.1,587.3 L366.6,586.4 L367.1,585.5 L367.6,584.7 L368.1,583.7 L368.6,582.8 L369.1,581.9 L369.6,580.9 L370.1,580.0 L370.6,579.0 L371.1,578.0 L371.6,577.0 L372.1,576.0 L372.6,575.0 L373.1,574.0 L373.6,573.0 L374.1,572.0 L374.6,571.0 L375.1,570.1 L375.6,569.1 L376.2,568.2 L376.7,567.3 L377.2,566.3 L377.7,565.5 L378.2,564.6 L378.7,563.7 L379.2,562.9 L379.7,562.1 L380.2,561.4 L380.7,560.7 L381.2,560.0 L381.7,559.3 L382.2,558.7 L382.7,558.1 L383.2,557.5 L383.7,557.0 L384.2,556.5 L384.7,556.1 L385.2,555.7 L385.7,555.4 L386.2,555.1 L386.7,554.8 L387.2,554.6 L387.7,554.5 L388.2,554.3 L388.7,554.3 L389.2,554.2 L389.8,554.3 L390.2,554.4 L390.8,554.5 L391.2,554.7 L391.8,555.0 L392.2,555.3 L392.8,555.6 L393.2,556.0 L393.8,556.5 L394.2,557.0 L394.8,557.6 L395.2,558.2 L395.8,558.9 L396.2,559.6 L396.8,560.3 L397.2,561.1 L397.8,562.0 L398.2,562.9 L398.8,563.8 L399.2,564.7 L399.8,565.7 L400.2,566.7 L400.8,567.8 L401.2,568.9 L401.8,570.0 L402.2,571.1 L402.8,572.2 L403.2,573.4 L403.8,574.6 L404.2,575.8 L404.8,577.0 L405.2,578.2 L405.8,579.4 L406.2,580.6 L406.8,581.8 L407.2,583.1 L407.8,584.3 L408.2,585.5 L408.8,586.7 L409.2,587.8 L409.8,589.0 L410.2,590.2 L410.8,591.3 L411.2,592.4 L411.8,593.5 L412.2,594.5 L412.8,595.5 L413.2,596.5 L413.8,597.5 L414.2,598.4 L414.8,599.3 L415.2,600.1 L415.8,600.9 L416.2,601.7 L416.8,602.4 L417.2,603.0 L417.8,603.7 L418.2,604.2 L418.8,604.8 L419.2,605.2 L419.8,605.6 L420.2,606.0 L420.8,606.3 L421.2,606.6 L421.8,606.7 L422.2,606.9 L422.8,607.0 L423.2,607.0 L423.8,607.0 L424.3,606.9 L424.8,606.7 L425.3,606.4 L425.8,606.1 L426.3,605.7 L426.8,605.3 L427.3,604.8 L427.8,604.2 L428.3,603.6 L428.8,602.9 L429.3,602.1 L429.8,601.3 L430.3,600.4 L430.8,599.4 L431.3,598.5 L431.8,597.4 L432.3,596.3 L432.8,595.2 L433.3,594.0 L433.8,592.8 L434.3,591.5 L434.8,590.2 L435.3,588.8 L435.8,587.5 L436.3,586.1 L436.8,584.7 L437.4,583.2 L437.9,581.7 L438.4,580.3 L438.9,578.8 L439.4,577.3 L439.9,575.8 L440.4,574.2 L440.9,572.7 L441.4,571.2 L441.9,569.7 L442.4,568.2 L442.9,566.8 L443.4,565.3 L443.9,563.8 L444.4,562.4 L444.9,561.0 L445.4,559.7 L445.9,558.3 L446.4,557.0 L446.9,555.7 L447.4,554.5 L447.9,553.3 L448.4,552.2 L448.9,551.1 L449.4,550.0 L449.9,549.1 L450.4,548.1 L451.0,547.2 L451.5,546.4 L452.0,545.6 L452.5,544.9 L453.0,544.3 L453.5,543.7 L454.0,543.2 L454.5,542.8 L455.0,542.4 L455.5,542.1 L456.0,541.8 L456.5,541.6 L457.0,541.5 L457.5,541.5 L458.0,541.5 L458.5,541.7 L459.0,541.9 L459.5,542.2 L460.0,542.6 L460.5,543.1 L461.0,543.6 L461.5,544.3 L462.0,545.0 L462.5,545.8 L463.0,546.7 L463.5,547.6 L464.0,548.7 L464.6,549.8 L465.1,550.9 L465.6,552.2 L466.1,553.5 L466.6,554.8 L467.1,556.3 L467.6,557.7 L468.1,559.3 L468.6,560.9 L469.1,562.5 L469.6,564.2 L470.1,565.9 L470.6,567.6 L471.1,569.4 L471.6,571.2 L472.1,573.0 L472.6,574.9 L473.1,576.7 L473.6,578.6 L474.1,580.5 L474.6,582.4 L475.1,584.3 L475.6,586.1 L476.1,588.0 L476.6,589.9 L477.1,591.7 L477.6,593.6 L478.2,595.4 L478.7,597.1 L479.2,598.9 L479.7,600.6 L480.2,602.3 L480.7,603.9 L481.2,605.5 L481.7,607.0 L482.2,608.5 L482.7,609.9 L483.2,611.3 L483.7,612.6 L484.2,613.8 L484.7,615.0 L485.2,616.1 L485.7,617.1 L486.2,618.1 L486.7,619.0 L487.2,619.8 L487.7,620.5 L488.2,621.1 L488.7,621.7 L489.2,622.2 L489.7,622.6 L490.2,622.9 L490.7,623.1 L491.2,623.2 L491.8,623.2 L492.2,623.2 L492.8,623.0 L493.2,622.8 L493.8,622.4 L494.2,621.9 L494.8,621.3 L495.2,620.7 L495.8,619.9 L496.2,619.0 L496.8,618.0 L497.2,616.9 L497.8,615.7 L498.2,614.5 L498.8,613.1 L499.2,611.7 L499.8,610.1 L500.2,608.5 L500.8,606.9 L501.2,605.1 L501.8,603.3 L502.2,601.4 L502.8,599.4 L503.2,597.4 L503.8,595.4 L504.2,593.3 L504.8,591.1 L505.2,588.9 L505.8,586.7 L506.2,584.4 L506.8,582.1 L507.2,579.8 L507.8,577.5 L508.2,575.1 L508.8,572.8 L509.2,570.4 L509.8,568.1 L510.2,565.8 L510.8,563.4 L511.2,561.1 L511.8,558.8 L512.2,556.6 L512.8,554.3 L513.2,552.1 L513.8,550.0 L514.2,547.9 L514.8,545.8 L515.2,543.8 L515.8,541.9 L516.2,540.0 L516.8,538.1 L517.2,536.4 L517.8,534.7 L518.2,533.1 L518.8,531.6 L519.2,530.1 L519.8,528.8 L520.2,527.5 L520.8,526.3 L521.2,525.3 L521.8,524.3 L522.2,523.4 L522.8,522.6 L523.2,521.9 L523.8,521.3 L524.2,520.9 L524.8,520.5 L525.2,520.2 L525.8,520.1 L526.2,520.0 L526.8,520.1 L527.2,520.3 L527.8,520.6 L528.2,521.0 L528.8,521.6 L529.2,522.3 L529.8,523.1 L530.2,524.1 L530.8,525.2 L531.2,526.3 L531.8,527.7 L532.2,529.1 L532.8,530.6 L533.2,532.2 L533.8,534.0 L534.2,535.8 L534.8,537.8 L535.2,539.8 L535.8,541.9 L536.2,544.2 L536.8,546.5 L537.2,548.8 L537.8,551.3 L538.2,553.8 L538.8,556.4 L539.2,559.0 L539.8,561.7 L540.2,564.4 L540.8,567.2 L541.2,570.0 L541.8,572.8 L542.2,575.7 L542.8,578.6 L543.2,581.5 L543.8,584.4 L544.2,587.3 L544.8,590.2 L545.2,593.1 L545.8,596.0 L546.2,598.9 L546.8,601.7 L547.2,604.6 L547.8,607.3 L548.2,610.1 L548.8,612.8 L549.2,615.4 L549.8,618.0 L550.2,620.5 L550.8,622.9 L551.2,625.3 L551.8,627.6 L552.2,629.8 L552.8,631.9 L553.2,634.0 L553.8,635.9 L554.2,637.8 L554.8,639.5 L555.2,641.1 L555.8,642.7 L556.2,644.1 L556.8,645.4 L557.2,646.6 L557.8,647.7 L558.2,648.6 L558.8,649.4 L559.2,650.1 L559.8,650.7 L560.2,651.2 L560.8,651.5 L561.2,651.7 L561.8,651.8 L562.2,651.7 L562.8,651.4 L563.2,651.0 L563.8,650.5 L564.2,649.8 L564.8,649.0 L565.2,648.0 L565.8,646.8 L566.2,645.5 L566.8,644.1 L567.2,642.5 L567.8,640.8 L568.2,638.9 L568.8,636.9 L569.2,634.8 L569.8,632.6 L570.2,630.2 L570.8,627.7 L571.2,625.1 L571.8,622.4 L572.2,619.6 L572.8,616.7 L573.2,613.7 L573.8,610.6 L574.2,607.4 L574.8,604.2 L575.2,600.9 L575.8,597.5 L576.2,594.1 L576.8,590.6 L577.2,587.0 L577.8,583.5 L578.2,579.9 L578.8,576.2 L579.2,572.6 L579.8,568.9 L580.2,565.2 L580.8,561.6 L581.2,557.9 L581.8,554.3 L582.2,550.6 L582.8,547.0 L583.2,543.5 L583.8,539.9 L584.2,536.4 L584.8,533.0 L585.2,529.6 L585.8,526.3 L586.2,523.1 L586.8,519.9 L587.2,516.8 L587.8,513.8 L588.2,510.9 L588.8,508.1 L589.2,505.4 L589.8,502.8 L590.2,500.3 L590.8,497.9 L591.2,495.7 L591.8,493.6 L592.2,491.6 L592.8,489.7 L593.2,488.0 L593.8,486.4 L594.2,485.0 L594.8,483.7 L595.2,482.5 L595.8,481.5 L596.2,480.7 L596.8,480.0 L597.2,479.5 L597.8,479.1 L598.2,478.8 L598.8,478.8 L599.2,478.8 L599.8,479.1 L600.2,479.5 L600.8,480.1 L601.2,480.9 L601.8,481.8 L602.2,482.9 L602.8,484.1 L603.2,485.6 L603.8,487.1 L604.2,488.9 L604.8,490.8 L605.2,492.8 L605.8,495.0 L606.2,497.4 L606.8,499.9 L607.2,502.5 L607.8,505.3 L608.2,508.2 L608.8,511.2 L609.2,514.3 L609.8,517.6 L610.2,521.0 L610.8,524.5 L611.2,528.1 L611.8,531.8 L612.2,535.6 L612.8,539.5 L613.2,543.5 L613.8,547.5 L614.2,551.7 L614.8,555.9 L615.2,560.1 L615.8,564.4 L616.2,568.8 L616.8,573.2 L617.2,577.7 L617.8,582.1 L618.2,586.6 L618.8,591.2 L619.2,595.7 L619.8,600.2 L620.2,604.8 L620.8,609.3 L621.2,613.9 L621.8,618.4 L622.2,622.8 L622.8,627.3 L623.2,631.7 L623.8,636.1 L624.2,640.4 L624.8,644.6 L625.2,648.8 L625.8,653.0 L626.2,657.0 L626.8,661.0 L627.2,664.9 L627.8,668.7 L628.2,672.4 L628.8,676.0 L629.2,679.5 L629.8,682.9 L630.2,686.2 L630.8,689.3 L631.2,692.3 L631.8,695.2 L632.2,698.0 L632.8,700.6 L633.2,703.1 L633.8,705.5 L634.2,707.7 L634.8,709.7 L635.2,711.6 L635.8,713.4 L636.2,714.9 L636.8,716.4 L637.2,717.6 L637.8,718.7 L638.2,719.6 L638.8,720.4 L639.2,721.0 L639.8,721.4 L640.2,721.7 L640.8,721.8 L641.3,721.7 L641.8,721.5 L642.3,721.1 L642.8,720.6 L643.3,719.9 L643.8,719.1 L644.3,718.2 L644.8,717.1 L645.3,715.9 L645.8,714.5 L646.3,713.0 L646.8,711.4 L647.3,709.6 L647.8,707.7 L648.3,705.7 L648.8,703.5 L649.3,701.2 L649.8,698.8 L650.3,696.3 L650.8,693.7 L651.3,691.0 L651.8,688.2 L652.3,685.2 L652.8,682.2 L653.3,679.1 L653.8,675.9 L654.3,672.6 L654.8,669.2 L655.3,665.7 L655.8,662.2 L656.3,658.6 L656.8,655.0 L657.3,651.3 L657.9,647.5 L658.4,643.7 L658.9,639.9 L659.4,636.0 L659.9,632.1 L660.4,628.2 L660.9,624.2 L661.4,620.3 L661.9,616.3 L662.4,612.3 L662.9,608.4 L663.4,604.4 L663.9,600.5 L664.4,596.5 L664.9,592.6 L665.4,588.8 L665.9,584.9 L666.4,581.1 L666.9,577.4 L667.4,573.7 L667.9,570.0 L668.4,566.4 L668.9,562.9 L669.4,559.5 L669.9,556.1 L670.4,552.8 L670.9,549.6 L671.4,546.5 L671.9,543.4 L672.4,540.5 L672.9,537.7 L673.4,534.9 L673.9,532.3 L674.4,529.8 L675.0,527.4 L675.5,525.1 L676.0,523.0 L676.5,521.0 L677.0,519.1 L677.5,517.3 L678.0,515.7 L678.5,514.2 L679.0,512.8 L679.5,511.6 L680.0,510.5 L680.5,509.5 L681.0,508.7 L681.5,508.1 L682.0,507.6 L682.5,507.2 L683.0,507.0 L683.5,506.9 L684.0,507.0 L684.5,507.3 L685.0,507.7 L685.5,508.4 L686.0,509.2 L686.5,510.2 L687.0,511.4 L687.5,512.8 L688.0,514.3 L688.5,516.0 L689.0,517.8 L689.5,519.9 L690.1,522.0 L690.6,524.3 L691.1,526.8 L691.6,529.4 L692.1,532.1 L692.6,534.9 L693.1,537.8 L693.6,540.9 L694.1,544.0 L694.6,547.3 L695.1,550.6 L695.6,553.9 L696.1,557.4 L696.6,560.9 L697.1,564.4 L697.6,568.0 L698.1,571.5 L698.6,575.1 L699.1,578.8 L699.6,582.4 L700.1,585.9 L700.6,589.5 L701.1,593.0 L701.6,596.5 L702.2,600.0 L702.7,603.3 L703.2,606.6 L703.7,609.9 L704.2,613.0 L704.7,616.1 L705.2,619.0 L705.7,621.8 L706.2,624.5 L706.7,627.1 L707.2,629.6 L707.7,631.9 L708.2,634.0 L708.7,636.1 L709.2,637.9 L709.7,639.6 L710.2,641.1 L710.7,642.5 L711.2,643.7 L711.7,644.7 L712.2,645.5 L712.7,646.2 L713.2,646.6 L713.7,646.9 L714.2,647.0 L714.8,646.6 L715.2,646.1 L715.8,645.5 L716.2,644.9 L716.8,644.1 L717.2,643.3 L717.8,642.4 L718.2,641.5 L718.8,640.5 L719.2,639.5 L719.8,638.3 L720.2,636.9 L720.8,635.3 L721.2,633.7 L721.8,631.9 L722.2,630.1 L722.8,628.2 L723.2,626.4 L723.8,624.5 L724.2,622.6 L724.8,620.9 L725.2,619.1 L725.8,617.4 L726.2,615.6 L726.8,613.8 L727.2,612.0 L727.8,610.2 L728.2,608.3 L728.8,606.5 L729.2,604.8 L729.8,603.0 L730.2,601.3 L730.8,599.7 L731.2,598.2 L731.8,596.7 L732.2,595.3 L732.8,594.0 L733.2,592.6 L733.8,591.2 L734.2,589.9 L734.8,588.6 L735.2,587.3 L735.8,586.1 L736.2,584.9 L736.8,583.8 L737.2,582.7 L737.8,581.7 L738.2,580.7 L738.8,579.8 L739.2,579.0 L739.8,578.3 L740.2,577.7 L740.8,577.1 L741.2,576.5 L741.8,576.0 L742.2,575.4 L742.8,574.9 L743.2,574.4 L743.8,574.0 L744.2,573.6 L744.8,573.2 L745.2,572.8 L745.8,572.5 L746.2,572.3 L746.8,572.1 L747.2,571.9 L747.8,571.8 L748.2,571.6 L748.8,571.5 L749.2,571.3 L749.8,571.2 L750.2,571.1 L750.8,571.0 L751.2,570.9 L751.8,570.8 L752.2,570.7 L752.8,570.6 L753.2,570.6 L753.8,570.5 L754.2,570.5 L754.8,570.5 L755.2,570.5 L755.8,570.5 L756.2,570.6 L756.8,570.6 L757.2,570.7 L757.8,570.8 L758.2,570.8 L758.8,570.9 L759.2,571.1 L759.8,571.2 L760.2,571.3 L760.8,571.4 L761.2,571.6 L761.8,571.7 L762.2,571.8 L762.8,571.9 L763.2,572.1 L763.8,572.2 L764.2,572.4 L764.8,572.5 L765.2,572.7 L765.8,572.9 L766.2,573.1 L766.8,573.3 L767.2,573.5 L767.8,573.7 L768.2,573.9 L768.8,574.1 L769.2,574.4 L769.8,574.5 L770.2,574.7 L770.8,574.9 L771.2,575.1 L771.8,575.2 L772.2,575.4 L772.8,575.5 L773.2,575.6 L773.8,575.8 L774.2,575.9 L774.8,576.0 L775.2,576.2 L775.8,576.3 L776.2,576.4 L776.8,576.5 L777.2,576.6 L777.8,576.8 L778.2,576.9 L778.8,577.0 L779.2,577.1 L779.8,577.2 L780.2,577.3 L780.8,577.4 L781.2,577.5 L781.8,577.6 L782.2,577.6 L782.8,577.7 L783.2,577.8 L783.8,577.9 L784.2,577.9 L784.8,578.0 L785.2,578.0 L785.8,578.1 L786.2,578.1 L786.8,578.2 L787.2,578.2 L787.8,578.3 L788.2,578.3 L788.8,578.4 L789.2,578.4 L789.8,578.5 L790.2,578.5 L790.8,578.5 L791.2,578.6 L791.8,578.6 L792.2,578.6 L792.8,578.6 L793.2,578.7 L793.8,578.7 L794.2,578.7 L794.8,578.7 L795.2,578.7 L795.8,578.7 L796.2,578.7 L796.8,578.7 L797.2,578.7 L797.8,578.7 L798.2,578.7 L798.8,578.6 L799.2,578.6 L799.8,578.6 L800.2,578.6 L800.8,578.6 L801.2,578.5 L801.8,578.5 L802.2,578.5 L802.8,578.5 L803.2,578.5 L803.8,578.4 L804.2,578.4 L804.8,578.4 L805.2,578.4 L805.8,578.3 L806.2,578.3 L806.8,578.3 L807.2,578.3 L807.8,578.3 L808.2,578.2 L808.8,578.2 L809.2,578.2 L809.8,578.2 L810.2,578.2 L810.8,578.2 L811.2,578.2 L811.8,578.2 L812.2,578.2 L812.8,578.1 L813.2,578.1 L813.8,578.1 L814.2,578.1 L814.8,578.1 L815.2,578.1 L815.8,578.1 L816.2,578.1 L816.8,578.1 L817.2,578.1 L817.8,578.1 L818.2,578.1 L818.8,578.0 L819.2,578.0 L819.8,578.0 L820.2,578.0 L820.8,578.0 L821.2,578.0 L821.8,578.0 L822.2,578.0 L822.8,578.0 L823.2,578.0 L823.8,578.0 L824.2,578.0 L824.8,578.0 L825.2,578.0 L825.8,578.0 L826.2,578.0 L826.8,578.0 L827.2,578.0 L827.8,578.0 L828.2,578.0 L828.8,578.0 L829.2,578.0 L829.8,578.0 L830.2,578.0 L830.8,578.0 L831.2,578.0 L831.8,578.0 L832.2,578.0 L832.8,578.0 L833.2,578.0 L833.8,578.0 L834.2,578.0 L834.8,578.0 L835.2,578.0 L835.8,578.0 L836.2,578.0 L836.8,578.0 L837.2,578.0 L837.8,578.0 L838.2,578.0 L838.8,578.0 L839.2,578.0 L839.8,578.0 L840.2,578.0 L840.8,578.0 L841.2,578.0 L841.8,578.0 L842.2,578.0 L842.8,578.0 L843.2,578.0 L843.8,578.0 L844.2,578.0 L844.8,578.0 L845.2,578.0 L845.8,578.0 L846.2,578.0 L846.8,578.0 L847.2,578.0 L847.8,578.0 L848.2,578.0 L848.8,578.0 L849.2,578.0 L849.8,578.0 L850.2,578.0 L850.8,578.0 L851.2,578.0 L851.8,578.0 L852.2,578.0 L852.8,578.0 L853.2,578.0 L853.8,578.0 L854.2,578.0 L854.8,578.0 L855.2,578.0 L855.8,578.0 L856.2,578.0 L856.8,578.0 L857.2,578.0 L857.8,578.0 L858.2,578.0 L858.8,578.0 L859.2,578.0 L859.8,578.0 L860.2,578.0 L860.8,578.0 L861.2,578.0 L861.8,578.0 L862.2,578.0 L862.8,578.0 L863.2,578.0 L863.8,578.0 L864.2,578.0 L864.8,578.0 L865.2,578.0 L865.8,578.0 L866.2,578.0 L866.8,578.0 L867.2,578.0 L867.8,578.0 L868.2,578.0 L868.8,578.0 L869.2,578.0 L869.8,578.0 L870.2,578.0 L870.8,578.0 L871.2,578.0 L871.8,578.0 L872.2,578.0 L872.8,578.0 L873.2,578.0 L873.8,578.0 L874.2,578.0 L874.8,578.0 L875.2,578.0 L875.8,578.0 L876.2,578.0 L876.8,578.0 L877.2,578.0 L877.8,578.0 L878.2,578.0 L878.8,578.0 L879.2,578.0 L879.8,578.0 L880.2,578.0 L880.8,578.0 L881.2,578.0 L881.8,578.0 L882.2,578.0 L882.8,578.0 L883.2,578.0 L883.8,578.0 L884.2,578.0 L884.8,578.0 L885.2,578.0 L885.8,578.0 L886.2,578.0 L886.8,578.0 L887.2,578.0 L887.8,578.0 L888.2,578.0 L888.8,578.0 L889.2,578.0 L889.8,578.0 L890.2,578.0 L890.8,578.0 L891.2,578.0 L891.8,578.0 L892.2,578.0 L892.8,578.0 L893.2,578.0 L893.8,578.0 L894.2,578.0 L894.8,578.0 L895.2,578.0 L895.8,578.0 L896.2,578.0 L896.8,578.0 L897.2,578.0 L897.8,578.0 L898.2,578.0 L898.8,578.0 L899.2,578.0 L899.8,578.0 L900.2,578.0 L900.8,578.0 L901.2,578.0 L901.8,578.0 L902.2,578.0 L902.8,578.0 L903.2,578.0 L903.8,578.0 L904.2,578.0 L904.8,578.0 L905.2,578.0 L905.8,578.0 L906.2,578.0 L906.8,578.0 L907.2,578.0 L907.8,578.0 L908.2,578.0 L908.8,578.0 L909.2,578.0 L909.8,578.0 L910.2,578.0 L910.8,578.0 L911.2,578.0 L911.8,578.0 L912.2,578.0 L912.8,578.0 L913.2,578.0 L913.8,578.0 L914.2,578.0 L914.8,578.0 L915.2,578.0 L915.8,578.0 L916.2,578.0 L916.8,578.0 L917.2,578.0 L917.8,578.0 L918.2,578.0 L918.8,578.0 L919.2,578.0 L919.8,578.0 L920.2,578.0 L920.8,578.0 L921.2,578.0 L921.8,578.0 L922.2,578.0 L922.8,578.0 L923.2,578.0 L923.8,578.0 L924.2,578.0 L924.8,578.0 L925.2,578.0 L925.8,578.0 L926.2,578.0 L926.8,578.0 L927.2,578.0 L927.8,578.0 L928.2,578.0 L928.8,578.0 L929.2,578.0 L929.8,578.0 L930.2,578.0 L930.8,578.0 L931.2,578.0 L931.8,578.0 L932.2,578.0 L932.8,578.0 L933.2,578.0 L933.8,578.0 L934.2,578.0 L934.8,578.0 L935.2,578.0 L935.8,578.0 L936.2,578.0 L936.8,578.0 L937.2,578.0 L937.8,578.0 L938.2,578.0 L938.8,578.0 L939.2,578.0 L939.8,578.0 L940.2,578.0 L940.8,578.0 L941.2,578.0 L941.8,578.0 L942.2,578.0 L942.8,578.0 L943.2,578.0 L943.8,578.0 L944.2,578.0 L944.8,578.0 L945.2,578.0 L945.8,578.0 L946.2,578.0 L946.8,578.0 L947.2,578.0 L947.8,578.0 L948.2,578.0 L948.8,578.0 L949.2,578.0 L949.8,578.0 L950.2,578.0 L950.8,578.0 L951.2,578.0 L951.8,578.0 L952.2,578.0 L952.8,578.0 L953.2,578.0 L953.8,578.0 L954.2,578.0 L954.8,578.0 L955.2,578.0 L955.8,578.0 L956.2,578.0 L956.8,578.0 L957.2,578.0 L957.8,578.0 L958.2,578.0 L958.8,578.0 L959.2,578.0 L959.8,578.0 L960.2,578.0 L960.8,578.0 L961.2,578.0 L961.8,578.0 L962.2,578.0 L962.8,578.0 L963.2,578.0 L963.8,578.0 L964.2,578.0 L964.8,578.0 L965.2,578.0 L965.8,578.0 L966.2,578.0 L966.8,578.0 L967.2,578.0 L967.8,578.0 L968.2,578.0 L968.8,578.0 L969.2,578.0 L969.8,578.0 L970.2,578.0 L970.8,578.0 L971.2,578.0 L971.8,578.0 L972.2,578.0 L972.8,578.0 L973.2,578.0 L973.8,578.0 L974.2,578.0 L974.8,578.0 L975.2,578.0 L975.8,578.0 L976.2,578.0 L976.8,578.0 L977.2,578.0 L977.8,578.0 L978.2,578.0 L978.8,578.0 L979.2,578.0 L979.8,578.0 L980.2,578.0 L980.8,578.0 L981.2,578.0 L981.8,578.0 L982.2,578.0 L982.8,578.0 L983.2,578.0 L983.8,578.0 L984.2,578.0 L984.8,578.0 L985.2,578.0 L985.8,578.0 L986.2,578.0 L986.8,578.0 L987.2,578.0 L987.8,578.0 L988.2,578.0 L988.8,578.0 L989.2,578.0 L989.8,578.0 L990.2,578.0 L990.8,578.0 L991.2,578.0 L991.8,578.0 L992.2,578.0 L992.8,578.0 L993.2,578.0 L993.8,578.0 L994.2,578.0 L994.8,578.0 L995.2,578.0 L995.8,578.0 L996.2,578.0 L996.8,578.0 L997.2,578.0 L997.8,578.0 L998.2,578.0 L998.8,578.0 L999.2,578.0 L999.8,578.0 L1000.2,578.0 L1000.8,578.0 L1001.2,578.0 L1001.8,578.0 L1002.2,578.0 L1002.8,578.0 L1003.2,578.0 L1003.8,578.0 L1004.2,578.0 L1004.8,578.0 L1005.2,578.0 L1005.8,578.0 L1006.2,578.0 L1006.8,578.0 L1007.2,578.0 L1007.8,578.0 L1008.2,578.0 L1008.8,578.0 L1009.2,578.0 L1009.8,578.0 L1010.2,578.0 L1010.8,578.0 L1011.2,578.0 L1011.8,578.0 L1012.2,578.0 L1012.8,578.0 L1013.2,578.0 L1013.8,578.0 L1014.2,578.0 L1014.8,578.0 L1015.2,578.0 L1015.8,578.0 L1016.2,578.0 L1016.8,578.0" stroke="#c27f26"/>
</g>
<rect x="167.0" y="365.5" width="850.0" height="424.5" fill="none" stroke="#000" stroke-width="2"/>
<path d="M205.25,790.0 v12 M256.85,790.0 v6 M308.45,790.0 v12 M360.05,790.0 v6 M411.65,790.0 v12 M463.25,790.0 v6 M514.85,790.0 v12 M566.45,790.0 v6 M618.05,790.0 v12 M669.65,790.0 v6 M721.25,790.0 v12 M772.85,790.0 v6 M824.45,790.0 v12 M876.05,790.0 v6 M927.65,790.0 v12 M979.25,790.0 v6 M167.0,779.90 h-12.5 M167.0,729.40 h-6.5 M167.0,678.90 h-12.5 M167.0,628.40 h-6.5 M167.0,577.90 h-12.5 M167.0,527.40 h-6.5 M167.0,476.90 h-12.5 M167.0,426.40 h-6.5 M167.0,375.90 h-12.5" stroke="#000" stroke-width="1.25" fill="none"/>
<text x="134.0" y="387.2" font-size="35.3" text-anchor="end">1.0</text>
<text x="134.0" y="488.2" font-size="35.3" text-anchor="end">0.5</text>
<text x="134.0" y="589.2" font-size="35.3" text-anchor="end">0.0</text>
<text x="134.0" y="690.2" font-size="35.3" text-anchor="end">-0.5</text>
<text x="134.0" y="791.2" font-size="35.3" text-anchor="end">-1.0</text>
<text x="210.2" y="848.8" font-size="35.3" text-anchor="middle">0</text>
<text x="313.4" y="848.8" font-size="35.3" text-anchor="middle">0.2</text>
<text x="416.6" y="848.8" font-size="35.3" text-anchor="middle">0.4</text>
<text x="519.8" y="848.8" font-size="35.3" text-anchor="middle">0.6</text>
<text x="623.0" y="848.8" font-size="35.3" text-anchor="middle">0.8</text>
<text x="726.2" y="848.8" font-size="35.3" text-anchor="middle">1</text>
<text x="829.4" y="848.8" font-size="35.3" text-anchor="middle">1.2</text>
<text x="932.6" y="848.8" font-size="35.3" text-anchor="middle">1.4</text>
<text x="592.2" y="900.4" font-size="35.0" text-anchor="middle">Time (ns)</text>
<text transform="translate(39.9 578.6) rotate(-90)" font-size="34.7" text-anchor="middle">Sublattice magnetisation</text>
<text x="185.5" y="633.7" font-size="34.3">m</text>
<text x="213.4" y="644.3" font-size="27">x</text>
<text x="213.2" y="616.2" font-size="27">1</text>
<line x1="250" y1="622.3" x2="345.2" y2="622.3" stroke="#24394d" stroke-width="2.75"/>
<text x="185.5" y="696.0" font-size="34.3">m</text>
<text x="213.4" y="706.6" font-size="27">y</text>
<text x="213.2" y="678.5" font-size="27">1</text>
<line x1="250" y1="684.6" x2="345.2" y2="684.6" stroke="#6cace4" stroke-width="2.75"/>
<text x="185.5" y="758.3" font-size="34.3">m</text>
<text x="213.4" y="768.9" font-size="27">z</text>
<text x="213.2" y="740.8" font-size="27">1</text>
<line x1="250" y1="746.9" x2="345.2" y2="746.9" stroke="#c27f26" stroke-width="2.75"/>
</g>
<g font-family='"Liberation Sans", Arial, Helvetica, sans-serif' font-weight="bold" fill="#000">
<text transform="translate(19.5 42.5) scale(0.946 1)" font-size="51.3">a</text>
<text transform="translate(458.45 42.8) scale(1.049 1)" font-size="50.5">b</text>
<text transform="translate(19.35 347.7) scale(1.034 1)" font-size="51.5">c</text>
</g>
</svg></body></html>
